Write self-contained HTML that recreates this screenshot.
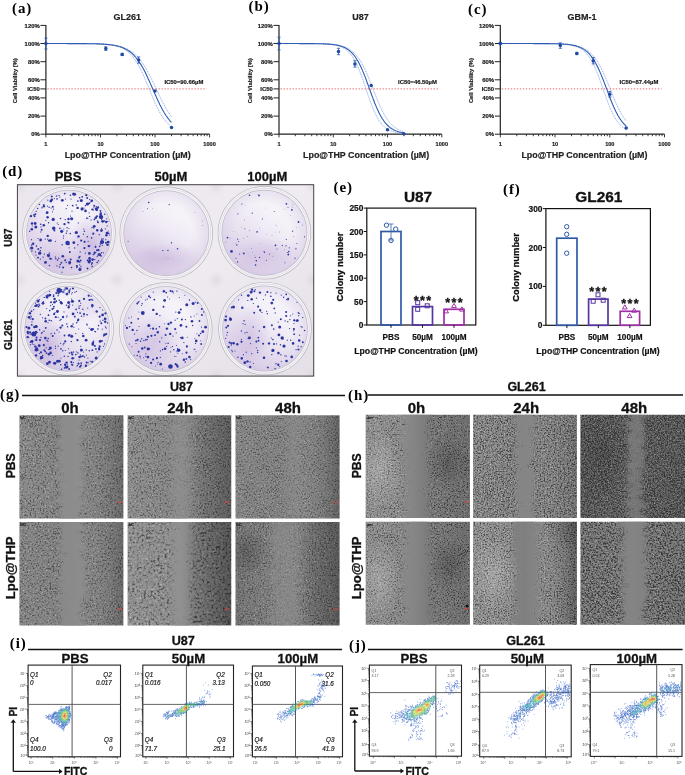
<!DOCTYPE html>
<html><head><meta charset="utf-8"><style>
html,body{margin:0;padding:0;background:#fff;}
svg{display:block;}
</style></head><body>
<svg width="685" height="775" viewBox="0 0 685 775">
<rect width="685" height="775" fill="#fff"/>
<g id="pa">
<text x="12" y="12.9" font-size="15" font-weight="bold" text-anchor="start" font-family="'Liberation Serif', 'Times New Roman', serif" fill="#000" letter-spacing="0.9">(a)</text>
<text x="127.2" y="19.6" font-size="9.0" font-weight="bold" text-anchor="middle" font-family="'Liberation Sans', Arial, sans-serif" fill="#222"  stroke="#222" stroke-width="0.18">GL261</text>
<line x1="40.4" y1="25.4" x2="45.9" y2="25.4" stroke="#222" stroke-width="1"/>
<text x="39.7" y="27.5" font-size="5.9" font-weight="bold" text-anchor="end" font-family="'Liberation Sans', Arial, sans-serif" fill="#1a1a1a" stroke="#1a1a1a" stroke-width="0.18">120%</text>
<line x1="40.4" y1="43.5" x2="45.9" y2="43.5" stroke="#222" stroke-width="1"/>
<text x="39.7" y="45.6" font-size="5.9" font-weight="bold" text-anchor="end" font-family="'Liberation Sans', Arial, sans-serif" fill="#1a1a1a" stroke="#1a1a1a" stroke-width="0.18">100%</text>
<line x1="40.4" y1="61.7" x2="45.9" y2="61.7" stroke="#222" stroke-width="1"/>
<text x="39.7" y="63.8" font-size="5.9" font-weight="bold" text-anchor="end" font-family="'Liberation Sans', Arial, sans-serif" fill="#1a1a1a" stroke="#1a1a1a" stroke-width="0.18">80%</text>
<line x1="40.4" y1="79.8" x2="45.9" y2="79.8" stroke="#222" stroke-width="1"/>
<text x="39.7" y="81.9" font-size="5.9" font-weight="bold" text-anchor="end" font-family="'Liberation Sans', Arial, sans-serif" fill="#1a1a1a" stroke="#1a1a1a" stroke-width="0.18">60%</text>
<line x1="40.4" y1="88.9" x2="45.9" y2="88.9" stroke="#222" stroke-width="1"/>
<text x="39.7" y="91" font-size="5.9" font-weight="bold" text-anchor="end" font-family="'Liberation Sans', Arial, sans-serif" fill="#1a1a1a" stroke="#1a1a1a" stroke-width="0.18">IC50</text>
<line x1="40.4" y1="97.9" x2="45.9" y2="97.9" stroke="#222" stroke-width="1"/>
<text x="39.7" y="100" font-size="5.9" font-weight="bold" text-anchor="end" font-family="'Liberation Sans', Arial, sans-serif" fill="#1a1a1a" stroke="#1a1a1a" stroke-width="0.18">40%</text>
<line x1="40.4" y1="116.1" x2="45.9" y2="116.1" stroke="#222" stroke-width="1"/>
<text x="39.7" y="118.2" font-size="5.9" font-weight="bold" text-anchor="end" font-family="'Liberation Sans', Arial, sans-serif" fill="#1a1a1a" stroke="#1a1a1a" stroke-width="0.18">20%</text>
<line x1="40.4" y1="134.2" x2="45.9" y2="134.2" stroke="#222" stroke-width="1"/>
<text x="39.7" y="136.3" font-size="5.9" font-weight="bold" text-anchor="end" font-family="'Liberation Sans', Arial, sans-serif" fill="#1a1a1a" stroke="#1a1a1a" stroke-width="0.18">0%</text>
<text transform="translate(17.1,80.7) rotate(-90)" font-size="5.8" font-weight="bold" text-anchor="middle" font-family="'Liberation Sans', Arial, sans-serif" fill="#1a1a1a" stroke="#1a1a1a" stroke-width="0.18">Cell Viability (%)</text>
<line x1="45.9" y1="134.2" x2="45.9" y2="137.4" stroke="#222" stroke-width="0.9"/>
<line x1="62.3" y1="134.2" x2="62.3" y2="136.2" stroke="#222" stroke-width="0.9"/>
<line x1="71.9" y1="134.2" x2="71.9" y2="136.2" stroke="#222" stroke-width="0.9"/>
<line x1="78.8" y1="134.2" x2="78.8" y2="136.2" stroke="#222" stroke-width="0.9"/>
<line x1="84" y1="134.2" x2="84" y2="136.2" stroke="#222" stroke-width="0.9"/>
<line x1="88.4" y1="134.2" x2="88.4" y2="136.2" stroke="#222" stroke-width="0.9"/>
<line x1="92" y1="134.2" x2="92" y2="136.2" stroke="#222" stroke-width="0.9"/>
<line x1="95.2" y1="134.2" x2="95.2" y2="136.2" stroke="#222" stroke-width="0.9"/>
<line x1="98" y1="134.2" x2="98" y2="136.2" stroke="#222" stroke-width="0.9"/>
<line x1="100.5" y1="134.2" x2="100.5" y2="137.4" stroke="#222" stroke-width="0.9"/>
<line x1="116.9" y1="134.2" x2="116.9" y2="136.2" stroke="#222" stroke-width="0.9"/>
<line x1="126.5" y1="134.2" x2="126.5" y2="136.2" stroke="#222" stroke-width="0.9"/>
<line x1="133.3" y1="134.2" x2="133.3" y2="136.2" stroke="#222" stroke-width="0.9"/>
<line x1="138.6" y1="134.2" x2="138.6" y2="136.2" stroke="#222" stroke-width="0.9"/>
<line x1="142.9" y1="134.2" x2="142.9" y2="136.2" stroke="#222" stroke-width="0.9"/>
<line x1="146.6" y1="134.2" x2="146.6" y2="136.2" stroke="#222" stroke-width="0.9"/>
<line x1="149.7" y1="134.2" x2="149.7" y2="136.2" stroke="#222" stroke-width="0.9"/>
<line x1="152.5" y1="134.2" x2="152.5" y2="136.2" stroke="#222" stroke-width="0.9"/>
<line x1="155" y1="134.2" x2="155" y2="137.4" stroke="#222" stroke-width="0.9"/>
<line x1="171.5" y1="134.2" x2="171.5" y2="136.2" stroke="#222" stroke-width="0.9"/>
<line x1="181.1" y1="134.2" x2="181.1" y2="136.2" stroke="#222" stroke-width="0.9"/>
<line x1="187.9" y1="134.2" x2="187.9" y2="136.2" stroke="#222" stroke-width="0.9"/>
<line x1="193.2" y1="134.2" x2="193.2" y2="136.2" stroke="#222" stroke-width="0.9"/>
<line x1="197.5" y1="134.2" x2="197.5" y2="136.2" stroke="#222" stroke-width="0.9"/>
<line x1="201.1" y1="134.2" x2="201.1" y2="136.2" stroke="#222" stroke-width="0.9"/>
<line x1="204.3" y1="134.2" x2="204.3" y2="136.2" stroke="#222" stroke-width="0.9"/>
<line x1="207.1" y1="134.2" x2="207.1" y2="136.2" stroke="#222" stroke-width="0.9"/>
<line x1="209.6" y1="134.2" x2="209.6" y2="137.4" stroke="#222" stroke-width="0.9"/>
<text x="45.9" y="145.8" font-size="5.6" font-weight="bold" text-anchor="middle" font-family="'Liberation Sans', Arial, sans-serif" fill="#1a1a1a" stroke="#1a1a1a" stroke-width="0.15">1</text>
<text x="100.5" y="145.8" font-size="5.6" font-weight="bold" text-anchor="middle" font-family="'Liberation Sans', Arial, sans-serif" fill="#1a1a1a" stroke="#1a1a1a" stroke-width="0.15">10</text>
<text x="155" y="145.8" font-size="5.6" font-weight="bold" text-anchor="middle" font-family="'Liberation Sans', Arial, sans-serif" fill="#1a1a1a" stroke="#1a1a1a" stroke-width="0.15">100</text>
<text x="209.6" y="145.8" font-size="5.6" font-weight="bold" text-anchor="middle" font-family="'Liberation Sans', Arial, sans-serif" fill="#1a1a1a" stroke="#1a1a1a" stroke-width="0.15">1000</text>
<path d="M45.9 24.9 V134.2 H209.6" fill="none" stroke="#222" stroke-width="1.2"/>
<text x="127.7" y="158.1" font-size="8.9" font-weight="bold" text-anchor="middle" font-family="'Liberation Sans', Arial, sans-serif" fill="#222"  stroke="#222" stroke-width="0.18">Lpo@THP Concentration (µM)</text>
<line x1="47.4" y1="88.9" x2="206.6" y2="88.9" stroke="#e8666a" stroke-width="1" stroke-dasharray="1.4 1.6"/>
<text x="164.4" y="84.3" font-size="5.9" font-weight="bold" text-anchor="start" font-family="'Liberation Sans', Arial, sans-serif" fill="#111" stroke="#111" stroke-width="0.15">IC50=90.66µM</text>
<path d="M45.9,43.5 L46.9,43.5 L48,43.5 L49,43.5 L50.1,43.5 L51.1,43.5 L52.2,43.5 L53.2,43.5 L54.3,43.5 L55.3,43.5 L56.4,43.5 L57.4,43.5 L58.5,43.5 L59.5,43.5 L60.5,43.5 L61.6,43.5 L62.6,43.5 L63.7,43.5 L64.7,43.5 L65.8,43.6 L66.8,43.6 L67.9,43.6 L68.9,43.6 L70,43.6 L71,43.6 L72.1,43.6 L73.1,43.6 L74.2,43.6 L75.2,43.6 L76.2,43.6 L77.3,43.6 L78.3,43.6 L79.4,43.6 L80.4,43.6 L81.5,43.6 L82.5,43.6 L83.6,43.6 L84.6,43.6 L85.7,43.7 L86.7,43.7 L87.8,43.7 L88.8,43.7 L89.8,43.7 L90.9,43.7 L91.9,43.7 L93,43.8 L94,43.8 L95.1,43.8 L96.1,43.8 L97.2,43.9 L98.2,43.9 L99.3,44 L100.3,44 L101.4,44 L102.4,44.1 L103.4,44.2 L104.5,44.2 L105.5,44.3 L106.6,44.4 L107.6,44.5 L108.7,44.6 L109.7,44.7 L110.8,44.8 L111.8,44.9 L112.9,45 L113.9,45.2 L115,45.4 L116,45.5 L117.1,45.7 L118.1,46 L119.1,46.2 L120.2,46.5 L121.2,46.8 L122.3,47.1 L123.3,47.4 L124.4,47.8 L125.4,48.3 L126.5,48.7 L127.5,49.2 L128.6,49.8 L129.6,50.4 L130.7,51 L131.7,51.7 L132.7,52.5 L133.8,53.3 L134.8,54.2 L135.9,55.2 L136.9,56.2 L138,57.3 L139,58.5 L140.1,59.8 L141.1,61.1 L142.2,62.6 L143.2,64.1 L144.3,65.7 L145.3,67.4 L146.3,69.2 L147.4,71 L148.4,73 L149.5,74.9 L150.5,77 L151.6,79.1 L152.6,81.3 L153.7,83.4 L154.7,85.7 L155.8,87.9 L156.8,90.1 L157.9,92.3 L158.9,94.6 L159.9,96.7 L161,98.9 L162,101 L163.1,103 L164.1,105 L165.2,106.9 L166.2,108.8 L167.3,110.5 L168.3,112.2 L169.4,113.8 L170.4,115.3 L171.5,116.8" fill="none" stroke="#6e8fd4" stroke-width="0.7" stroke-dasharray="1.2 0.7"/>
<path d="M45.9,43.5 L46.9,43.5 L48,43.5 L49,43.5 L50.1,43.5 L51.1,43.5 L52.2,43.5 L53.2,43.5 L54.3,43.5 L55.3,43.5 L56.4,43.5 L57.4,43.5 L58.5,43.5 L59.5,43.5 L60.5,43.5 L61.6,43.5 L62.6,43.5 L63.7,43.5 L64.7,43.5 L65.8,43.5 L66.8,43.5 L67.9,43.5 L68.9,43.5 L70,43.6 L71,43.6 L72.1,43.6 L73.1,43.6 L74.2,43.6 L75.2,43.6 L76.2,43.6 L77.3,43.6 L78.3,43.6 L79.4,43.6 L80.4,43.6 L81.5,43.6 L82.5,43.6 L83.6,43.6 L84.6,43.6 L85.7,43.6 L86.7,43.6 L87.8,43.7 L88.8,43.7 L89.8,43.7 L90.9,43.7 L91.9,43.7 L93,43.7 L94,43.8 L95.1,43.8 L96.1,43.8 L97.2,43.9 L98.2,43.9 L99.3,43.9 L100.3,44 L101.4,44 L102.4,44.1 L103.4,44.2 L104.5,44.2 L105.5,44.3 L106.6,44.4 L107.6,44.5 L108.7,44.7 L109.7,44.8 L110.8,44.9 L111.8,45.1 L112.9,45.3 L113.9,45.5 L115,45.7 L116,46 L117.1,46.3 L118.1,46.6 L119.1,46.9 L120.2,47.3 L121.2,47.7 L122.3,48.2 L123.3,48.7 L124.4,49.3 L125.4,50 L126.5,50.7 L127.5,51.5 L128.6,52.3 L129.6,53.3 L130.7,54.3 L131.7,55.4 L132.7,56.7 L133.8,58 L134.8,59.4 L135.9,61 L136.9,62.6 L138,64.4 L139,66.2 L140.1,68.2 L141.1,70.3 L142.2,72.5 L143.2,74.8 L144.3,77.2 L145.3,79.6 L146.3,82.1 L147.4,84.6 L148.4,87.2 L149.5,89.7 L150.5,92.3 L151.6,94.8 L152.6,97.3 L153.7,99.8 L154.7,102.2 L155.8,104.5 L156.8,106.7 L157.9,108.8 L158.9,110.8 L159.9,112.8 L161,114.6 L162,116.2 L163.1,117.8 L164.1,119.3 L165.2,120.6 L166.2,121.9 L167.3,123.1 L168.3,124.1 L169.4,125.1 L170.4,126 L171.5,126.8" fill="none" stroke="#6e8fd4" stroke-width="0.7" stroke-dasharray="1.2 0.7"/>
<path d="M45.9,43.5 L46.9,43.5 L48,43.5 L49,43.5 L50.1,43.5 L51.1,43.5 L52.2,43.5 L53.2,43.5 L54.3,43.5 L55.3,43.5 L56.4,43.5 L57.4,43.5 L58.5,43.5 L59.5,43.5 L60.5,43.5 L61.6,43.5 L62.6,43.5 L63.7,43.5 L64.7,43.5 L65.8,43.5 L66.8,43.5 L67.9,43.6 L68.9,43.6 L70,43.6 L71,43.6 L72.1,43.6 L73.1,43.6 L74.2,43.6 L75.2,43.6 L76.2,43.6 L77.3,43.6 L78.3,43.6 L79.4,43.6 L80.4,43.6 L81.5,43.6 L82.5,43.6 L83.6,43.6 L84.6,43.6 L85.7,43.6 L86.7,43.6 L87.8,43.7 L88.8,43.7 L89.8,43.7 L90.9,43.7 L91.9,43.7 L93,43.7 L94,43.8 L95.1,43.8 L96.1,43.8 L97.2,43.9 L98.2,43.9 L99.3,43.9 L100.3,44 L101.4,44 L102.4,44.1 L103.4,44.1 L104.5,44.2 L105.5,44.3 L106.6,44.4 L107.6,44.5 L108.7,44.6 L109.7,44.7 L110.8,44.8 L111.8,45 L112.9,45.1 L113.9,45.3 L115,45.5 L116,45.7 L117.1,45.9 L118.1,46.2 L119.1,46.5 L120.2,46.8 L121.2,47.1 L122.3,47.5 L123.3,47.9 L124.4,48.4 L125.4,48.9 L126.5,49.5 L127.5,50.1 L128.6,50.8 L129.6,51.5 L130.7,52.3 L131.7,53.2 L132.7,54.1 L133.8,55.2 L134.8,56.3 L135.9,57.5 L136.9,58.8 L138,60.2 L139,61.7 L140.1,63.3 L141.1,64.9 L142.2,66.7 L143.2,68.6 L144.3,70.6 L145.3,72.6 L146.3,74.7 L147.4,77 L148.4,79.2 L149.5,81.5 L150.5,83.9 L151.6,86.3 L152.6,88.7 L153.7,91.1 L154.7,93.5 L155.8,95.8 L156.8,98.1 L157.9,100.4 L158.9,102.6 L159.9,104.8 L161,106.8 L162,108.8 L163.1,110.7 L164.1,112.5 L165.2,114.2 L166.2,115.8 L167.3,117.3 L168.3,118.7 L169.4,120 L170.4,121.3 L171.5,122.4" fill="none" stroke="#2d5cb5" stroke-width="1.1"/>
<path d="M45.9 38.1 V49 M44.3 38.1 H47.5 M44.3 49 H47.5" stroke="#2a55b0" stroke-width="0.8" fill="none"/>
<circle cx="45.9" cy="43.5" r="1.75" fill="#1e4aa6"/>
<path d="M105.8 46.8 V50.4 M104.2 46.8 H107.4 M104.2 50.4 H107.4" stroke="#2a55b0" stroke-width="0.8" fill="none"/>
<circle cx="105.8" cy="48.6" r="1.75" fill="#1e4aa6"/>
<path d="M122.2 53.3 V55.5 M120.6 53.3 H123.8 M120.6 55.5 H123.8" stroke="#2a55b0" stroke-width="0.8" fill="none"/>
<circle cx="122.2" cy="54.4" r="1.75" fill="#1e4aa6"/>
<path d="M138.6 56.9 V63.2 M137 56.9 H140.2 M137 63.2 H140.2" stroke="#2a55b0" stroke-width="0.8" fill="none"/>
<circle cx="138.6" cy="60" r="1.75" fill="#1e4aa6"/>
<circle cx="155" cy="91" r="1.75" fill="#1e4aa6"/>
<circle cx="171.5" cy="127.4" r="1.75" fill="#1e4aa6"/>
</g><g id="pb">
<text x="248.6" y="11" font-size="15" font-weight="bold" text-anchor="start" font-family="'Liberation Serif', 'Times New Roman', serif" fill="#000" letter-spacing="0.9">(b)</text>
<text x="360.6" y="19.6" font-size="9.0" font-weight="bold" text-anchor="middle" font-family="'Liberation Sans', Arial, sans-serif" fill="#222"  stroke="#222" stroke-width="0.18">U87</text>
<line x1="273.5" y1="25.4" x2="279" y2="25.4" stroke="#222" stroke-width="1"/>
<text x="272.8" y="27.5" font-size="5.9" font-weight="bold" text-anchor="end" font-family="'Liberation Sans', Arial, sans-serif" fill="#1a1a1a" stroke="#1a1a1a" stroke-width="0.18">120%</text>
<line x1="273.5" y1="43.5" x2="279" y2="43.5" stroke="#222" stroke-width="1"/>
<text x="272.8" y="45.6" font-size="5.9" font-weight="bold" text-anchor="end" font-family="'Liberation Sans', Arial, sans-serif" fill="#1a1a1a" stroke="#1a1a1a" stroke-width="0.18">100%</text>
<line x1="273.5" y1="61.7" x2="279" y2="61.7" stroke="#222" stroke-width="1"/>
<text x="272.8" y="63.8" font-size="5.9" font-weight="bold" text-anchor="end" font-family="'Liberation Sans', Arial, sans-serif" fill="#1a1a1a" stroke="#1a1a1a" stroke-width="0.18">80%</text>
<line x1="273.5" y1="79.8" x2="279" y2="79.8" stroke="#222" stroke-width="1"/>
<text x="272.8" y="81.9" font-size="5.9" font-weight="bold" text-anchor="end" font-family="'Liberation Sans', Arial, sans-serif" fill="#1a1a1a" stroke="#1a1a1a" stroke-width="0.18">60%</text>
<line x1="273.5" y1="88.9" x2="279" y2="88.9" stroke="#222" stroke-width="1"/>
<text x="272.8" y="91" font-size="5.9" font-weight="bold" text-anchor="end" font-family="'Liberation Sans', Arial, sans-serif" fill="#1a1a1a" stroke="#1a1a1a" stroke-width="0.18">IC50</text>
<line x1="273.5" y1="97.9" x2="279" y2="97.9" stroke="#222" stroke-width="1"/>
<text x="272.8" y="100" font-size="5.9" font-weight="bold" text-anchor="end" font-family="'Liberation Sans', Arial, sans-serif" fill="#1a1a1a" stroke="#1a1a1a" stroke-width="0.18">40%</text>
<line x1="273.5" y1="116.1" x2="279" y2="116.1" stroke="#222" stroke-width="1"/>
<text x="272.8" y="118.2" font-size="5.9" font-weight="bold" text-anchor="end" font-family="'Liberation Sans', Arial, sans-serif" fill="#1a1a1a" stroke="#1a1a1a" stroke-width="0.18">20%</text>
<line x1="273.5" y1="134.2" x2="279" y2="134.2" stroke="#222" stroke-width="1"/>
<text x="272.8" y="136.3" font-size="5.9" font-weight="bold" text-anchor="end" font-family="'Liberation Sans', Arial, sans-serif" fill="#1a1a1a" stroke="#1a1a1a" stroke-width="0.18">0%</text>
<text transform="translate(251.8,80.7) rotate(-90)" font-size="5.8" font-weight="bold" text-anchor="middle" font-family="'Liberation Sans', Arial, sans-serif" fill="#1a1a1a" stroke="#1a1a1a" stroke-width="0.18">Cell Viability (%)</text>
<line x1="279" y1="134.2" x2="279" y2="137.4" stroke="#222" stroke-width="0.9"/>
<line x1="295.3" y1="134.2" x2="295.3" y2="136.2" stroke="#222" stroke-width="0.9"/>
<line x1="304.9" y1="134.2" x2="304.9" y2="136.2" stroke="#222" stroke-width="0.9"/>
<line x1="311.7" y1="134.2" x2="311.7" y2="136.2" stroke="#222" stroke-width="0.9"/>
<line x1="316.9" y1="134.2" x2="316.9" y2="136.2" stroke="#222" stroke-width="0.9"/>
<line x1="321.2" y1="134.2" x2="321.2" y2="136.2" stroke="#222" stroke-width="0.9"/>
<line x1="324.9" y1="134.2" x2="324.9" y2="136.2" stroke="#222" stroke-width="0.9"/>
<line x1="328" y1="134.2" x2="328" y2="136.2" stroke="#222" stroke-width="0.9"/>
<line x1="330.8" y1="134.2" x2="330.8" y2="136.2" stroke="#222" stroke-width="0.9"/>
<line x1="333.3" y1="134.2" x2="333.3" y2="137.4" stroke="#222" stroke-width="0.9"/>
<line x1="349.6" y1="134.2" x2="349.6" y2="136.2" stroke="#222" stroke-width="0.9"/>
<line x1="359.2" y1="134.2" x2="359.2" y2="136.2" stroke="#222" stroke-width="0.9"/>
<line x1="365.9" y1="134.2" x2="365.9" y2="136.2" stroke="#222" stroke-width="0.9"/>
<line x1="371.2" y1="134.2" x2="371.2" y2="136.2" stroke="#222" stroke-width="0.9"/>
<line x1="375.5" y1="134.2" x2="375.5" y2="136.2" stroke="#222" stroke-width="0.9"/>
<line x1="379.1" y1="134.2" x2="379.1" y2="136.2" stroke="#222" stroke-width="0.9"/>
<line x1="382.3" y1="134.2" x2="382.3" y2="136.2" stroke="#222" stroke-width="0.9"/>
<line x1="385.1" y1="134.2" x2="385.1" y2="136.2" stroke="#222" stroke-width="0.9"/>
<line x1="387.5" y1="134.2" x2="387.5" y2="137.4" stroke="#222" stroke-width="0.9"/>
<line x1="403.9" y1="134.2" x2="403.9" y2="136.2" stroke="#222" stroke-width="0.9"/>
<line x1="413.4" y1="134.2" x2="413.4" y2="136.2" stroke="#222" stroke-width="0.9"/>
<line x1="420.2" y1="134.2" x2="420.2" y2="136.2" stroke="#222" stroke-width="0.9"/>
<line x1="425.5" y1="134.2" x2="425.5" y2="136.2" stroke="#222" stroke-width="0.9"/>
<line x1="429.8" y1="134.2" x2="429.8" y2="136.2" stroke="#222" stroke-width="0.9"/>
<line x1="433.4" y1="134.2" x2="433.4" y2="136.2" stroke="#222" stroke-width="0.9"/>
<line x1="436.5" y1="134.2" x2="436.5" y2="136.2" stroke="#222" stroke-width="0.9"/>
<line x1="439.3" y1="134.2" x2="439.3" y2="136.2" stroke="#222" stroke-width="0.9"/>
<line x1="441.8" y1="134.2" x2="441.8" y2="137.4" stroke="#222" stroke-width="0.9"/>
<text x="279" y="145.8" font-size="5.6" font-weight="bold" text-anchor="middle" font-family="'Liberation Sans', Arial, sans-serif" fill="#1a1a1a" stroke="#1a1a1a" stroke-width="0.15">1</text>
<text x="333.3" y="145.8" font-size="5.6" font-weight="bold" text-anchor="middle" font-family="'Liberation Sans', Arial, sans-serif" fill="#1a1a1a" stroke="#1a1a1a" stroke-width="0.15">10</text>
<text x="387.5" y="145.8" font-size="5.6" font-weight="bold" text-anchor="middle" font-family="'Liberation Sans', Arial, sans-serif" fill="#1a1a1a" stroke="#1a1a1a" stroke-width="0.15">100</text>
<text x="441.8" y="145.8" font-size="5.6" font-weight="bold" text-anchor="middle" font-family="'Liberation Sans', Arial, sans-serif" fill="#1a1a1a" stroke="#1a1a1a" stroke-width="0.15">1000</text>
<path d="M279 24.9 V134.2 H441.8" fill="none" stroke="#222" stroke-width="1.2"/>
<text x="366.1" y="158.1" font-size="8.9" font-weight="bold" text-anchor="middle" font-family="'Liberation Sans', Arial, sans-serif" fill="#222"  stroke="#222" stroke-width="0.18">Lpo@THP Concentration (µM)</text>
<line x1="280.5" y1="88.9" x2="438.8" y2="88.9" stroke="#e8666a" stroke-width="1" stroke-dasharray="1.4 1.6"/>
<text x="398" y="84.3" font-size="5.9" font-weight="bold" text-anchor="start" font-family="'Liberation Sans', Arial, sans-serif" fill="#111" stroke="#111" stroke-width="0.15">IC50=46.50µM</text>
<path d="M279,43.5 L280,43.5 L281.1,43.5 L282.1,43.5 L283.2,43.5 L284.2,43.5 L285.2,43.5 L286.3,43.5 L287.3,43.5 L288.4,43.5 L289.4,43.5 L290.4,43.5 L291.5,43.5 L292.5,43.5 L293.6,43.5 L294.6,43.5 L295.6,43.5 L296.7,43.5 L297.7,43.5 L298.8,43.6 L299.8,43.6 L300.9,43.6 L301.9,43.6 L302.9,43.6 L304,43.6 L305,43.6 L306.1,43.6 L307.1,43.6 L308.1,43.6 L309.2,43.6 L310.2,43.6 L311.3,43.6 L312.3,43.6 L313.3,43.6 L314.4,43.6 L315.4,43.7 L316.5,43.7 L317.5,43.7 L318.5,43.7 L319.6,43.7 L320.6,43.8 L321.7,43.8 L322.7,43.8 L323.7,43.9 L324.8,43.9 L325.8,43.9 L326.9,44 L327.9,44.1 L328.9,44.1 L330,44.2 L331,44.3 L332.1,44.4 L333.1,44.5 L334.2,44.6 L335.2,44.7 L336.2,44.9 L337.3,45 L338.3,45.2 L339.4,45.4 L340.4,45.7 L341.4,45.9 L342.5,46.2 L343.5,46.5 L344.6,46.9 L345.6,47.3 L346.6,47.8 L347.7,48.3 L348.7,48.8 L349.8,49.5 L350.8,50.2 L351.8,50.9 L352.9,51.8 L353.9,52.7 L355,53.8 L356,54.9 L357,56.1 L358.1,57.5 L359.1,58.9 L360.2,60.5 L361.2,62.2 L362.2,64.1 L363.3,66 L364.3,68.1 L365.4,70.3 L366.4,72.6 L367.4,75 L368.5,77.5 L369.5,80 L370.6,82.6 L371.6,85.3 L372.7,88 L373.7,90.7 L374.7,93.4 L375.8,96 L376.8,98.6 L377.9,101.2 L378.9,103.6 L379.9,106 L381,108.3 L382,110.4 L383.1,112.4 L384.1,114.3 L385.1,116.1 L386.2,117.8 L387.2,119.3 L388.3,120.8 L389.3,122.1 L390.3,123.3 L391.4,124.4 L392.4,125.4 L393.5,126.3 L394.5,127.1 L395.5,127.8 L396.6,128.5 L397.6,129.1 L398.7,129.6 L399.7,130.1 L400.7,130.6 L401.8,131 L402.8,131.3 L403.9,131.6" fill="none" stroke="#6e8fd4" stroke-width="0.7" stroke-dasharray="1.2 0.7"/>
<path d="M279,43.5 L280,43.5 L281.1,43.5 L282.1,43.5 L283.2,43.5 L284.2,43.5 L285.2,43.5 L286.3,43.5 L287.3,43.5 L288.4,43.5 L289.4,43.5 L290.4,43.5 L291.5,43.5 L292.5,43.5 L293.6,43.5 L294.6,43.5 L295.6,43.5 L296.7,43.5 L297.7,43.5 L298.8,43.5 L299.8,43.5 L300.9,43.6 L301.9,43.6 L302.9,43.6 L304,43.6 L305,43.6 L306.1,43.6 L307.1,43.6 L308.1,43.6 L309.2,43.6 L310.2,43.6 L311.3,43.6 L312.3,43.6 L313.3,43.6 L314.4,43.6 L315.4,43.7 L316.5,43.7 L317.5,43.7 L318.5,43.7 L319.6,43.7 L320.6,43.8 L321.7,43.8 L322.7,43.8 L323.7,43.9 L324.8,43.9 L325.8,44 L326.9,44.1 L327.9,44.1 L328.9,44.2 L330,44.3 L331,44.4 L332.1,44.6 L333.1,44.7 L334.2,44.9 L335.2,45.1 L336.2,45.3 L337.3,45.6 L338.3,45.9 L339.4,46.2 L340.4,46.6 L341.4,47 L342.5,47.5 L343.5,48 L344.6,48.7 L345.6,49.4 L346.6,50.2 L347.7,51.1 L348.7,52.1 L349.8,53.2 L350.8,54.4 L351.8,55.8 L352.9,57.3 L353.9,59 L355,60.8 L356,62.8 L357,65 L358.1,67.3 L359.1,69.8 L360.2,72.4 L361.2,75.2 L362.2,78.1 L363.3,81 L364.3,84.1 L365.4,87.2 L366.4,90.3 L367.4,93.4 L368.5,96.4 L369.5,99.4 L370.6,102.3 L371.6,105.1 L372.7,107.7 L373.7,110.2 L374.7,112.5 L375.8,114.7 L376.8,116.7 L377.9,118.6 L378.9,120.3 L379.9,121.8 L381,123.2 L382,124.5 L383.1,125.6 L384.1,126.6 L385.1,127.5 L386.2,128.3 L387.2,129 L388.3,129.6 L389.3,130.2 L390.3,130.7 L391.4,131.1 L392.4,131.5 L393.5,131.8 L394.5,132.1 L395.5,132.4 L396.6,132.6 L397.6,132.8 L398.7,133 L399.7,133.2 L400.7,133.3 L401.8,133.4 L402.8,133.5 L403.9,133.6" fill="none" stroke="#6e8fd4" stroke-width="0.7" stroke-dasharray="1.2 0.7"/>
<path d="M279,43.5 L280,43.5 L281.1,43.5 L282.1,43.5 L283.2,43.5 L284.2,43.5 L285.2,43.5 L286.3,43.5 L287.3,43.5 L288.4,43.5 L289.4,43.5 L290.4,43.5 L291.5,43.5 L292.5,43.5 L293.6,43.5 L294.6,43.5 L295.6,43.5 L296.7,43.5 L297.7,43.5 L298.8,43.5 L299.8,43.6 L300.9,43.6 L301.9,43.6 L302.9,43.6 L304,43.6 L305,43.6 L306.1,43.6 L307.1,43.6 L308.1,43.6 L309.2,43.6 L310.2,43.6 L311.3,43.6 L312.3,43.6 L313.3,43.6 L314.4,43.6 L315.4,43.7 L316.5,43.7 L317.5,43.7 L318.5,43.7 L319.6,43.7 L320.6,43.8 L321.7,43.8 L322.7,43.8 L323.7,43.9 L324.8,43.9 L325.8,44 L326.9,44 L327.9,44.1 L328.9,44.1 L330,44.2 L331,44.3 L332.1,44.4 L333.1,44.6 L334.2,44.7 L335.2,44.8 L336.2,45 L337.3,45.2 L338.3,45.4 L339.4,45.7 L340.4,46 L341.4,46.3 L342.5,46.7 L343.5,47.1 L344.6,47.6 L345.6,48.1 L346.6,48.7 L347.7,49.3 L348.7,50.1 L349.8,50.9 L350.8,51.8 L351.8,52.8 L352.9,53.9 L353.9,55.2 L355,56.5 L356,58 L357,59.7 L358.1,61.4 L359.1,63.3 L360.2,65.4 L361.2,67.6 L362.2,69.9 L363.3,72.4 L364.3,74.9 L365.4,77.6 L366.4,80.4 L367.4,83.2 L368.5,86.1 L369.5,89 L370.6,91.9 L371.6,94.8 L372.7,97.6 L373.7,100.3 L374.7,103 L375.8,105.6 L376.8,108 L377.9,110.3 L378.9,112.5 L379.9,114.6 L381,116.5 L382,118.2 L383.1,119.8 L384.1,121.3 L385.1,122.7 L386.2,123.9 L387.2,125 L388.3,126 L389.3,126.9 L390.3,127.7 L391.4,128.5 L392.4,129.1 L393.5,129.7 L394.5,130.2 L395.5,130.7 L396.6,131.1 L397.6,131.4 L398.7,131.8 L399.7,132.1 L400.7,132.3 L401.8,132.5 L402.8,132.7 L403.9,132.9" fill="none" stroke="#2d5cb5" stroke-width="1.1"/>
<path d="M279 37.2 V49.9 M277.4 37.2 H280.6 M277.4 49.9 H280.6" stroke="#2a55b0" stroke-width="0.8" fill="none"/>
<circle cx="279" cy="43.5" r="1.75" fill="#1e4aa6"/>
<path d="M338.5 48.3 V54.7 M336.9 48.3 H340.1 M336.9 54.7 H340.1" stroke="#2a55b0" stroke-width="0.8" fill="none"/>
<circle cx="338.5" cy="51.5" r="1.75" fill="#1e4aa6"/>
<path d="M354.9 60.8 V67.1 M353.3 60.8 H356.5 M353.3 67.1 H356.5" stroke="#2a55b0" stroke-width="0.8" fill="none"/>
<circle cx="354.9" cy="63.9" r="1.75" fill="#1e4aa6"/>
<circle cx="371.2" cy="85.4" r="1.75" fill="#1e4aa6"/>
<circle cx="387.5" cy="129.7" r="1.75" fill="#1e4aa6"/>
<circle cx="403.9" cy="133.7" r="1.75" fill="#1e4aa6"/>
</g><g id="pc">
<text x="468" y="14" font-size="15" font-weight="bold" text-anchor="start" font-family="'Liberation Serif', 'Times New Roman', serif" fill="#000" letter-spacing="0.9">(c)</text>
<text x="582" y="19.6" font-size="9.0" font-weight="bold" text-anchor="middle" font-family="'Liberation Sans', Arial, sans-serif" fill="#222"  stroke="#222" stroke-width="0.18">GBM-1</text>
<line x1="494.8" y1="25.4" x2="500.3" y2="25.4" stroke="#222" stroke-width="1"/>
<text x="494.1" y="27.5" font-size="5.9" font-weight="bold" text-anchor="end" font-family="'Liberation Sans', Arial, sans-serif" fill="#1a1a1a" stroke="#1a1a1a" stroke-width="0.18">120%</text>
<line x1="494.8" y1="43.5" x2="500.3" y2="43.5" stroke="#222" stroke-width="1"/>
<text x="494.1" y="45.6" font-size="5.9" font-weight="bold" text-anchor="end" font-family="'Liberation Sans', Arial, sans-serif" fill="#1a1a1a" stroke="#1a1a1a" stroke-width="0.18">100%</text>
<line x1="494.8" y1="61.7" x2="500.3" y2="61.7" stroke="#222" stroke-width="1"/>
<text x="494.1" y="63.8" font-size="5.9" font-weight="bold" text-anchor="end" font-family="'Liberation Sans', Arial, sans-serif" fill="#1a1a1a" stroke="#1a1a1a" stroke-width="0.18">80%</text>
<line x1="494.8" y1="79.8" x2="500.3" y2="79.8" stroke="#222" stroke-width="1"/>
<text x="494.1" y="81.9" font-size="5.9" font-weight="bold" text-anchor="end" font-family="'Liberation Sans', Arial, sans-serif" fill="#1a1a1a" stroke="#1a1a1a" stroke-width="0.18">60%</text>
<line x1="494.8" y1="88.9" x2="500.3" y2="88.9" stroke="#222" stroke-width="1"/>
<text x="494.1" y="91" font-size="5.9" font-weight="bold" text-anchor="end" font-family="'Liberation Sans', Arial, sans-serif" fill="#1a1a1a" stroke="#1a1a1a" stroke-width="0.18">IC50</text>
<line x1="494.8" y1="97.9" x2="500.3" y2="97.9" stroke="#222" stroke-width="1"/>
<text x="494.1" y="100" font-size="5.9" font-weight="bold" text-anchor="end" font-family="'Liberation Sans', Arial, sans-serif" fill="#1a1a1a" stroke="#1a1a1a" stroke-width="0.18">40%</text>
<line x1="494.8" y1="116.1" x2="500.3" y2="116.1" stroke="#222" stroke-width="1"/>
<text x="494.1" y="118.2" font-size="5.9" font-weight="bold" text-anchor="end" font-family="'Liberation Sans', Arial, sans-serif" fill="#1a1a1a" stroke="#1a1a1a" stroke-width="0.18">20%</text>
<line x1="494.8" y1="134.2" x2="500.3" y2="134.2" stroke="#222" stroke-width="1"/>
<text x="494.1" y="136.3" font-size="5.9" font-weight="bold" text-anchor="end" font-family="'Liberation Sans', Arial, sans-serif" fill="#1a1a1a" stroke="#1a1a1a" stroke-width="0.18">0%</text>
<text transform="translate(473.3,80.6) rotate(-90)" font-size="5.8" font-weight="bold" text-anchor="middle" font-family="'Liberation Sans', Arial, sans-serif" fill="#1a1a1a" stroke="#1a1a1a" stroke-width="0.18">Cell Viability (%)</text>
<line x1="500.3" y1="134.2" x2="500.3" y2="137.4" stroke="#222" stroke-width="0.9"/>
<line x1="516.8" y1="134.2" x2="516.8" y2="136.2" stroke="#222" stroke-width="0.9"/>
<line x1="526.4" y1="134.2" x2="526.4" y2="136.2" stroke="#222" stroke-width="0.9"/>
<line x1="533.3" y1="134.2" x2="533.3" y2="136.2" stroke="#222" stroke-width="0.9"/>
<line x1="538.6" y1="134.2" x2="538.6" y2="136.2" stroke="#222" stroke-width="0.9"/>
<line x1="542.9" y1="134.2" x2="542.9" y2="136.2" stroke="#222" stroke-width="0.9"/>
<line x1="546.6" y1="134.2" x2="546.6" y2="136.2" stroke="#222" stroke-width="0.9"/>
<line x1="549.7" y1="134.2" x2="549.7" y2="136.2" stroke="#222" stroke-width="0.9"/>
<line x1="552.5" y1="134.2" x2="552.5" y2="136.2" stroke="#222" stroke-width="0.9"/>
<line x1="555" y1="134.2" x2="555" y2="137.4" stroke="#222" stroke-width="0.9"/>
<line x1="571.5" y1="134.2" x2="571.5" y2="136.2" stroke="#222" stroke-width="0.9"/>
<line x1="581.1" y1="134.2" x2="581.1" y2="136.2" stroke="#222" stroke-width="0.9"/>
<line x1="588" y1="134.2" x2="588" y2="136.2" stroke="#222" stroke-width="0.9"/>
<line x1="593.3" y1="134.2" x2="593.3" y2="136.2" stroke="#222" stroke-width="0.9"/>
<line x1="597.6" y1="134.2" x2="597.6" y2="136.2" stroke="#222" stroke-width="0.9"/>
<line x1="601.3" y1="134.2" x2="601.3" y2="136.2" stroke="#222" stroke-width="0.9"/>
<line x1="604.5" y1="134.2" x2="604.5" y2="136.2" stroke="#222" stroke-width="0.9"/>
<line x1="607.3" y1="134.2" x2="607.3" y2="136.2" stroke="#222" stroke-width="0.9"/>
<line x1="609.8" y1="134.2" x2="609.8" y2="137.4" stroke="#222" stroke-width="0.9"/>
<line x1="626.2" y1="134.2" x2="626.2" y2="136.2" stroke="#222" stroke-width="0.9"/>
<line x1="635.9" y1="134.2" x2="635.9" y2="136.2" stroke="#222" stroke-width="0.9"/>
<line x1="642.7" y1="134.2" x2="642.7" y2="136.2" stroke="#222" stroke-width="0.9"/>
<line x1="648" y1="134.2" x2="648" y2="136.2" stroke="#222" stroke-width="0.9"/>
<line x1="652.4" y1="134.2" x2="652.4" y2="136.2" stroke="#222" stroke-width="0.9"/>
<line x1="656" y1="134.2" x2="656" y2="136.2" stroke="#222" stroke-width="0.9"/>
<line x1="659.2" y1="134.2" x2="659.2" y2="136.2" stroke="#222" stroke-width="0.9"/>
<line x1="662" y1="134.2" x2="662" y2="136.2" stroke="#222" stroke-width="0.9"/>
<line x1="664.5" y1="134.2" x2="664.5" y2="137.4" stroke="#222" stroke-width="0.9"/>
<text x="500.3" y="145.8" font-size="5.6" font-weight="bold" text-anchor="middle" font-family="'Liberation Sans', Arial, sans-serif" fill="#1a1a1a" stroke="#1a1a1a" stroke-width="0.15">1</text>
<text x="555" y="145.8" font-size="5.6" font-weight="bold" text-anchor="middle" font-family="'Liberation Sans', Arial, sans-serif" fill="#1a1a1a" stroke="#1a1a1a" stroke-width="0.15">10</text>
<text x="609.8" y="145.8" font-size="5.6" font-weight="bold" text-anchor="middle" font-family="'Liberation Sans', Arial, sans-serif" fill="#1a1a1a" stroke="#1a1a1a" stroke-width="0.15">100</text>
<text x="664.5" y="145.8" font-size="5.6" font-weight="bold" text-anchor="middle" font-family="'Liberation Sans', Arial, sans-serif" fill="#1a1a1a" stroke="#1a1a1a" stroke-width="0.15">1000</text>
<path d="M500.3 24.9 V134.2 H664.5" fill="none" stroke="#222" stroke-width="1.2"/>
<text x="584.4" y="158.1" font-size="8.9" font-weight="bold" text-anchor="middle" font-family="'Liberation Sans', Arial, sans-serif" fill="#222"  stroke="#222" stroke-width="0.18">Lpo@THP Concentration (µM)</text>
<line x1="501.8" y1="88.9" x2="661.5" y2="88.9" stroke="#e8666a" stroke-width="1" stroke-dasharray="1.4 1.6"/>
<text x="619.5" y="84.3" font-size="5.9" font-weight="bold" text-anchor="start" font-family="'Liberation Sans', Arial, sans-serif" fill="#111" stroke="#111" stroke-width="0.15">IC50=87.44µM</text>
<path d="M500.3,43.5 L501.3,43.5 L502.4,43.5 L503.4,43.5 L504.5,43.5 L505.5,43.5 L506.6,43.5 L507.6,43.5 L508.7,43.5 L509.7,43.5 L510.8,43.5 L511.8,43.5 L512.9,43.5 L513.9,43.5 L515,43.5 L516,43.5 L517.1,43.5 L518.1,43.5 L519.2,43.5 L520.2,43.5 L521.3,43.5 L522.3,43.5 L523.4,43.5 L524.4,43.5 L525.5,43.5 L526.5,43.5 L527.6,43.5 L528.6,43.5 L529.7,43.5 L530.7,43.5 L531.8,43.6 L532.8,43.6 L533.9,43.6 L534.9,43.6 L536,43.6 L537,43.6 L538.1,43.6 L539.1,43.6 L540.2,43.6 L541.2,43.6 L542.3,43.6 L543.3,43.6 L544.4,43.6 L545.4,43.6 L546.5,43.6 L547.5,43.6 L548.6,43.6 L549.6,43.7 L550.7,43.7 L551.7,43.7 L552.8,43.7 L553.8,43.7 L554.9,43.7 L555.9,43.8 L557,43.8 L558,43.8 L559.1,43.9 L560.1,43.9 L561.2,44 L562.2,44 L563.3,44.1 L564.3,44.1 L565.4,44.2 L566.4,44.3 L567.5,44.4 L568.5,44.5 L569.6,44.6 L570.6,44.7 L571.7,44.9 L572.7,45 L573.8,45.2 L574.8,45.4 L575.9,45.6 L576.9,45.9 L578,46.1 L579,46.4 L580.1,46.8 L581.1,47.2 L582.2,47.6 L583.2,48.1 L584.3,48.6 L585.3,49.2 L586.4,49.8 L587.4,50.5 L588.5,51.3 L589.5,52.1 L590.6,53.1 L591.6,54.1 L592.7,55.2 L593.7,56.4 L594.8,57.8 L595.8,59.2 L596.9,60.7 L597.9,62.4 L599,64.2 L600,66.1 L601.1,68.1 L602.1,70.2 L603.2,72.4 L604.2,74.7 L605.3,77.1 L606.3,79.6 L607.4,82.1 L608.4,84.6 L609.5,87.2 L610.5,89.8 L611.5,92.4 L612.6,95 L613.6,97.6 L614.7,100 L615.7,102.5 L616.8,104.8 L617.8,107 L618.9,109.2 L619.9,111.2 L621,113.1 L622,114.9 L623.1,116.6 L624.1,118.2 L625.2,119.6 L626.2,121" fill="none" stroke="#6e8fd4" stroke-width="0.7" stroke-dasharray="1.2 0.7"/>
<path d="M500.3,43.5 L501.3,43.5 L502.4,43.5 L503.4,43.5 L504.5,43.5 L505.5,43.5 L506.6,43.5 L507.6,43.5 L508.7,43.5 L509.7,43.5 L510.8,43.5 L511.8,43.5 L512.9,43.5 L513.9,43.5 L515,43.5 L516,43.5 L517.1,43.5 L518.1,43.5 L519.2,43.5 L520.2,43.5 L521.3,43.5 L522.3,43.5 L523.4,43.5 L524.4,43.5 L525.5,43.5 L526.5,43.5 L527.6,43.5 L528.6,43.5 L529.7,43.5 L530.7,43.5 L531.8,43.5 L532.8,43.5 L533.9,43.5 L534.9,43.6 L536,43.6 L537,43.6 L538.1,43.6 L539.1,43.6 L540.2,43.6 L541.2,43.6 L542.3,43.6 L543.3,43.6 L544.4,43.6 L545.4,43.6 L546.5,43.6 L547.5,43.6 L548.6,43.6 L549.6,43.6 L550.7,43.7 L551.7,43.7 L552.8,43.7 L553.8,43.7 L554.9,43.7 L555.9,43.8 L557,43.8 L558,43.8 L559.1,43.9 L560.1,43.9 L561.2,44 L562.2,44.1 L563.3,44.1 L564.3,44.2 L565.4,44.3 L566.4,44.4 L567.5,44.6 L568.5,44.7 L569.6,44.9 L570.6,45 L571.7,45.2 L572.7,45.5 L573.8,45.8 L574.8,46.1 L575.9,46.4 L576.9,46.8 L578,47.2 L579,47.7 L580.1,48.3 L581.1,48.9 L582.2,49.7 L583.2,50.5 L584.3,51.4 L585.3,52.3 L586.4,53.5 L587.4,54.7 L588.5,56.1 L589.5,57.5 L590.6,59.2 L591.6,61 L592.7,62.9 L593.7,65 L594.8,67.2 L595.8,69.6 L596.9,72.2 L597.9,74.8 L599,77.6 L600,80.4 L601.1,83.4 L602.1,86.3 L603.2,89.3 L604.2,92.3 L605.3,95.3 L606.3,98.2 L607.4,101 L608.4,103.8 L609.5,106.4 L610.5,108.8 L611.5,111.2 L612.6,113.4 L613.6,115.4 L614.7,117.3 L615.7,119.1 L616.8,120.7 L617.8,122.1 L618.9,123.4 L619.9,124.6 L621,125.7 L622,126.7 L623.1,127.5 L624.1,128.3 L625.2,129 L626.2,129.6" fill="none" stroke="#6e8fd4" stroke-width="0.7" stroke-dasharray="1.2 0.7"/>
<path d="M500.3,43.5 L501.3,43.5 L502.4,43.5 L503.4,43.5 L504.5,43.5 L505.5,43.5 L506.6,43.5 L507.6,43.5 L508.7,43.5 L509.7,43.5 L510.8,43.5 L511.8,43.5 L512.9,43.5 L513.9,43.5 L515,43.5 L516,43.5 L517.1,43.5 L518.1,43.5 L519.2,43.5 L520.2,43.5 L521.3,43.5 L522.3,43.5 L523.4,43.5 L524.4,43.5 L525.5,43.5 L526.5,43.5 L527.6,43.5 L528.6,43.5 L529.7,43.5 L530.7,43.5 L531.8,43.5 L532.8,43.5 L533.9,43.6 L534.9,43.6 L536,43.6 L537,43.6 L538.1,43.6 L539.1,43.6 L540.2,43.6 L541.2,43.6 L542.3,43.6 L543.3,43.6 L544.4,43.6 L545.4,43.6 L546.5,43.6 L547.5,43.6 L548.6,43.6 L549.6,43.6 L550.7,43.7 L551.7,43.7 L552.8,43.7 L553.8,43.7 L554.9,43.7 L555.9,43.8 L557,43.8 L558,43.8 L559.1,43.9 L560.1,43.9 L561.2,44 L562.2,44 L563.3,44.1 L564.3,44.2 L565.4,44.2 L566.4,44.3 L567.5,44.4 L568.5,44.5 L569.6,44.7 L570.6,44.8 L571.7,45 L572.7,45.2 L573.8,45.4 L574.8,45.6 L575.9,45.9 L576.9,46.2 L578,46.5 L579,46.9 L580.1,47.4 L581.1,47.8 L582.2,48.4 L583.2,49 L584.3,49.6 L585.3,50.4 L586.4,51.2 L587.4,52.1 L588.5,53.1 L589.5,54.2 L590.6,55.5 L591.6,56.8 L592.7,58.3 L593.7,59.9 L594.8,61.6 L595.8,63.4 L596.9,65.4 L597.9,67.5 L599,69.8 L600,72.1 L601.1,74.6 L602.1,77.2 L603.2,79.8 L604.2,82.6 L605.3,85.3 L606.3,88.1 L607.4,90.9 L608.4,93.7 L609.5,96.5 L610.5,99.2 L611.5,101.8 L612.6,104.3 L613.6,106.7 L614.7,109 L615.7,111.2 L616.8,113.3 L617.8,115.2 L618.9,117 L619.9,118.6 L621,120.2 L622,121.6 L623.1,122.9 L624.1,124 L625.2,125.1 L626.2,126.1" fill="none" stroke="#2d5cb5" stroke-width="1.1"/>
<path d="M500.3 42.4 V44.6 M498.7 42.4 H501.9 M498.7 44.6 H501.9" stroke="#2a55b0" stroke-width="0.8" fill="none"/>
<circle cx="500.3" cy="43.5" r="1.75" fill="#1e4aa6"/>
<path d="M560.3 42.9 V48.3 M558.7 42.9 H561.9 M558.7 48.3 H561.9" stroke="#2a55b0" stroke-width="0.8" fill="none"/>
<circle cx="560.3" cy="45.6" r="1.75" fill="#1e4aa6"/>
<path d="M576.8 52.4 V54.6 M575.2 52.4 H578.4 M575.2 54.6 H578.4" stroke="#2a55b0" stroke-width="0.8" fill="none"/>
<circle cx="576.8" cy="53.5" r="1.75" fill="#1e4aa6"/>
<path d="M593.3 57.6 V63.9 M591.7 57.6 H594.9 M591.7 63.9 H594.9" stroke="#2a55b0" stroke-width="0.8" fill="none"/>
<circle cx="593.3" cy="60.8" r="1.75" fill="#1e4aa6"/>
<path d="M609.8 91.6 V97 M608.2 91.6 H611.4 M608.2 97 H611.4" stroke="#2a55b0" stroke-width="0.8" fill="none"/>
<circle cx="609.8" cy="94.3" r="1.75" fill="#1e4aa6"/>
<circle cx="626.2" cy="127.9" r="1.75" fill="#1e4aa6"/>
</g>
<text x="2.2" y="176" font-size="15" font-weight="bold" text-anchor="start" font-family="'Liberation Serif', 'Times New Roman', serif" fill="#000" letter-spacing="0.9">(d)</text>
<text x="68" y="181.2" font-size="13.0" font-weight="bold" text-anchor="middle" font-family="'Liberation Sans', Arial, sans-serif" fill="#111"  stroke="#111" stroke-width="0.3">PBS</text>
<text x="170.9" y="181.2" font-size="13.0" font-weight="bold" text-anchor="middle" font-family="'Liberation Sans', Arial, sans-serif" fill="#111"  stroke="#111" stroke-width="0.3">50µM</text>
<text x="267.3" y="181.2" font-size="13.0" font-weight="bold" text-anchor="middle" font-family="'Liberation Sans', Arial, sans-serif" fill="#111"  stroke="#111" stroke-width="0.3">100µM</text>
<text transform="translate(11.9,237.5) rotate(-90)" font-size="10" font-weight="bold" text-anchor="middle" font-family="'Liberation Sans', Arial, sans-serif" fill="#111" stroke="#111" stroke-width="0.3">U87</text>
<text transform="translate(11.9,334.7) rotate(-90)" font-size="10" font-weight="bold" text-anchor="middle" font-family="'Liberation Sans', Arial, sans-serif" fill="#111" stroke="#111" stroke-width="0.3">GL261</text>
<defs>
<radialGradient id="wellg" cx="0.5" cy="0.45" r="0.55">
<stop offset="0" stop-color="#fbfafd"/><stop offset="0.55" stop-color="#f4f1f7"/><stop offset="0.88" stop-color="#e6deee"/><stop offset="1" stop-color="#dcd2e7"/>
</radialGradient>
<radialGradient id="tint"><stop offset="0" stop-color="#b9a0d4" stop-opacity="0.6"/><stop offset="1" stop-color="#b9a0d4" stop-opacity="0"/></radialGradient>
<radialGradient id="pshade"><stop offset="0" stop-color="#b8b4bc" stop-opacity="0.9"/><stop offset="1" stop-color="#b8b4bc" stop-opacity="0"/></radialGradient>
<radialGradient id="wellp" cx="0.3" cy="0.75" r="0.6">
<stop offset="0" stop-color="#c9b6dc" stop-opacity="0.55"/><stop offset="1" stop-color="#c9b6dc" stop-opacity="0"/>
</radialGradient>
<linearGradient id="plateg" x1="0" y1="0" x2="1" y2="1">
<stop offset="0" stop-color="#ebe5ed"/><stop offset="0.5" stop-color="#f0eaf1"/><stop offset="1" stop-color="#e5dfe7"/>
</linearGradient>
<filter id="dblur" x="-0.1" y="-0.1" width="1.2" height="1.2"><feGaussianBlur stdDeviation="0.3"/></filter>
<clipPath id="platec"><rect x="17" y="184.3" width="297" height="192.1"/></clipPath>
</defs>
<g clip-path="url(#platec)">
<rect x="17" y="184.3" width="297" height="192.1" fill="url(#plateg)"/>
<circle cx="117" cy="186" r="9" fill="url(#pshade)" opacity="0.25"/>
<circle cx="216" cy="186" r="9" fill="url(#pshade)" opacity="0.25"/>
<circle cx="117" cy="280" r="9" fill="url(#pshade)" opacity="0.25"/>
<circle cx="216" cy="280" r="9" fill="url(#pshade)" opacity="0.25"/>
<circle cx="18" cy="280" r="9" fill="url(#pshade)" opacity="0.25"/>
<circle cx="313" cy="280" r="9" fill="url(#pshade)" opacity="0.25"/>
<circle cx="18" cy="186" r="9" fill="url(#pshade)" opacity="0.25"/>
<circle cx="313" cy="186" r="9" fill="url(#pshade)" opacity="0.25"/>
<circle cx="18" cy="376" r="9" fill="url(#pshade)" opacity="0.25"/>
<circle cx="313" cy="376" r="9" fill="url(#pshade)" opacity="0.25"/>
<circle cx="117" cy="376" r="9" fill="url(#pshade)" opacity="0.25"/>
<circle cx="216" cy="376" r="9" fill="url(#pshade)" opacity="0.25"/>
<circle cx="69.0" cy="232.8" r="46.7" fill="#b8b3bc"/>
<circle cx="69.0" cy="232.8" r="46.0" fill="#f6f5f8"/>
<circle cx="69.0" cy="232.8" r="44.6" fill="none" stroke="#d4d0d8" stroke-width="0.6"/>
<circle cx="69.0" cy="232.8" r="43.0" fill="#bcb7c2"/>
<circle cx="69.0" cy="232.8" r="42.3" fill="url(#wellg)"/>
<circle cx="69.0" cy="232.8" r="42.3" fill="url(#wellp)"/>
<ellipse cx="91.0" cy="244.8" rx="22" ry="30" fill="url(#tint)" opacity="1.0"/>
<ellipse cx="64.0" cy="260.8" rx="25" ry="12" fill="url(#tint)" opacity="0.6"/>
<g fill="#2c36a2" filter="url(#dblur)"><circle cx="31.7" cy="248.0" r="1.6"/><circle cx="67.7" cy="243.6" r="1.0"/><circle cx="66.5" cy="242.9" r="0.6"/><circle cx="63.8" cy="229.0" r="0.6"/><circle cx="54.4" cy="230.6" r="1.0"/><circle cx="49.3" cy="253.2" r="0.7"/><circle cx="48.6" cy="222.8" r="0.7"/><circle cx="45.2" cy="239.1" r="0.7"/><circle cx="38.2" cy="249.1" r="0.9"/><circle cx="70.3" cy="233.6" r="0.8"/><circle cx="100.6" cy="243.8" r="0.9"/><circle cx="91.8" cy="200.7" r="1.3"/><circle cx="67.6" cy="205.3" r="0.6"/><circle cx="80.2" cy="251.9" r="0.7"/><circle cx="40.6" cy="240.0" r="1.4"/><circle cx="107.0" cy="242.7" r="0.6"/><circle cx="89.7" cy="260.2" r="0.6"/><circle cx="47.6" cy="217.3" r="1.2"/><circle cx="106.4" cy="235.3" r="1.2"/><circle cx="102.6" cy="216.9" r="0.6"/><circle cx="61.7" cy="231.3" r="1.6"/><circle cx="100.9" cy="212.3" r="0.7"/><circle cx="60.5" cy="218.5" r="0.8"/><circle cx="93.9" cy="207.8" r="0.6"/><circle cx="56.2" cy="196.1" r="0.6"/><circle cx="108.2" cy="231.0" r="0.6"/><circle cx="72.7" cy="205.6" r="0.9"/><circle cx="94.6" cy="252.5" r="1.0"/><circle cx="79.9" cy="256.6" r="0.8"/><circle cx="74.7" cy="248.0" r="0.7"/><circle cx="97.9" cy="255.7" r="0.6"/><circle cx="94.4" cy="219.4" r="0.9"/><circle cx="68.7" cy="222.7" r="0.9"/><circle cx="98.5" cy="260.7" r="0.7"/><circle cx="86.3" cy="195.2" r="1.1"/><circle cx="98.2" cy="254.2" r="0.7"/><circle cx="43.9" cy="206.2" r="1.2"/><circle cx="61.4" cy="262.7" r="0.9"/><circle cx="89.5" cy="216.3" r="0.6"/><circle cx="35.1" cy="223.5" r="1.4"/><circle cx="91.6" cy="237.9" r="0.8"/><circle cx="98.1" cy="207.5" r="0.7"/><circle cx="86.8" cy="217.9" r="0.6"/><circle cx="36.0" cy="255.1" r="0.6"/><circle cx="92.6" cy="259.6" r="1.3"/><circle cx="66.2" cy="208.7" r="0.6"/><circle cx="93.7" cy="254.4" r="0.8"/><circle cx="101.7" cy="219.4" r="0.6"/><circle cx="32.0" cy="223.5" r="1.2"/><circle cx="94.2" cy="205.7" r="1.0"/><circle cx="40.8" cy="231.9" r="0.6"/><circle cx="80.9" cy="266.4" r="0.6"/><circle cx="86.8" cy="218.6" r="0.6"/><circle cx="109.5" cy="235.0" r="0.6"/><circle cx="53.5" cy="209.2" r="0.6"/><circle cx="53.7" cy="228.2" r="1.7"/><circle cx="98.4" cy="250.1" r="1.2"/><circle cx="81.3" cy="200.4" r="1.5"/><circle cx="53.9" cy="229.0" r="0.7"/><circle cx="66.4" cy="233.3" r="0.7"/><circle cx="49.1" cy="207.3" r="0.7"/><circle cx="87.4" cy="204.0" r="1.6"/><circle cx="38.6" cy="248.6" r="0.6"/><circle cx="50.6" cy="240.5" r="1.2"/><circle cx="101.3" cy="256.0" r="0.6"/><circle cx="103.5" cy="221.7" r="0.6"/><circle cx="108.2" cy="242.1" r="1.4"/><circle cx="106.9" cy="244.8" r="0.6"/><circle cx="37.7" cy="208.5" r="0.7"/><circle cx="69.1" cy="247.8" r="0.6"/><circle cx="97.3" cy="220.8" r="0.6"/><circle cx="44.4" cy="254.1" r="0.7"/><circle cx="40.3" cy="250.7" r="0.8"/><circle cx="97.2" cy="230.2" r="1.2"/><circle cx="89.8" cy="245.8" r="0.6"/><circle cx="96.7" cy="216.3" r="0.6"/><circle cx="79.9" cy="269.5" r="1.5"/><circle cx="65.2" cy="260.2" r="1.0"/><circle cx="58.2" cy="224.5" r="0.6"/><circle cx="92.0" cy="227.6" r="0.7"/><circle cx="97.1" cy="262.4" r="0.8"/><circle cx="45.5" cy="262.4" r="1.4"/><circle cx="103.4" cy="238.8" r="0.6"/><circle cx="47.1" cy="212.7" r="1.4"/><circle cx="69.9" cy="252.1" r="1.0"/><circle cx="63.1" cy="267.4" r="1.0"/><circle cx="73.8" cy="242.7" r="1.4"/><circle cx="102.6" cy="221.3" r="1.4"/><circle cx="105.4" cy="228.8" r="0.6"/><circle cx="38.1" cy="257.6" r="0.8"/><circle cx="71.7" cy="218.8" r="1.5"/><circle cx="65.5" cy="199.0" r="0.6"/><circle cx="47.6" cy="239.1" r="0.6"/><circle cx="33.4" cy="244.4" r="0.6"/><circle cx="96.7" cy="209.9" r="1.2"/><circle cx="84.2" cy="208.0" r="0.6"/><circle cx="72.0" cy="211.1" r="0.6"/><circle cx="107.6" cy="232.8" r="0.6"/><circle cx="102.0" cy="242.0" r="2.0"/><circle cx="87.6" cy="260.4" r="1.0"/><circle cx="85.3" cy="253.1" r="0.7"/><circle cx="78.5" cy="236.4" r="1.2"/><circle cx="42.0" cy="207.7" r="0.7"/><circle cx="31.0" cy="216.1" r="1.2"/><circle cx="69.5" cy="263.5" r="1.0"/><circle cx="59.9" cy="228.4" r="0.8"/><circle cx="62.2" cy="244.8" r="0.7"/><circle cx="57.0" cy="265.9" r="0.7"/><circle cx="91.1" cy="219.9" r="0.6"/><circle cx="99.2" cy="234.7" r="0.7"/><circle cx="56.8" cy="195.9" r="0.6"/><circle cx="92.1" cy="266.4" r="0.8"/><circle cx="104.8" cy="221.0" r="0.6"/><circle cx="107.8" cy="221.4" r="0.6"/><circle cx="47.8" cy="200.2" r="0.6"/><circle cx="55.5" cy="241.3" r="0.6"/><circle cx="41.7" cy="229.7" r="1.0"/><circle cx="96.4" cy="208.9" r="1.2"/><circle cx="70.5" cy="216.0" r="0.6"/><circle cx="34.6" cy="216.3" r="0.9"/><circle cx="79.6" cy="197.7" r="0.8"/><circle cx="89.1" cy="212.8" r="0.6"/><circle cx="31.5" cy="239.7" r="0.6"/><circle cx="79.1" cy="257.4" r="1.0"/><circle cx="85.5" cy="210.9" r="1.3"/><circle cx="84.6" cy="241.8" r="1.1"/><circle cx="73.7" cy="194.0" r="1.5"/><circle cx="67.6" cy="243.0" r="2.3"/><circle cx="98.2" cy="207.5" r="0.9"/><circle cx="76.3" cy="232.5" r="1.6"/><circle cx="80.9" cy="268.1" r="0.6"/><circle cx="89.7" cy="216.5" r="0.6"/><circle cx="89.7" cy="199.6" r="0.7"/><circle cx="87.2" cy="198.0" r="0.9"/><circle cx="93.4" cy="209.9" r="0.6"/><circle cx="57.6" cy="260.1" r="0.8"/><circle cx="52.5" cy="211.8" r="0.6"/><circle cx="57.3" cy="223.0" r="0.6"/><circle cx="107.2" cy="225.9" r="0.6"/><circle cx="33.1" cy="243.6" r="1.2"/><circle cx="55.4" cy="256.9" r="0.6"/><circle cx="95.8" cy="252.4" r="0.6"/><circle cx="104.7" cy="214.3" r="0.7"/><circle cx="64.5" cy="224.1" r="1.2"/><circle cx="80.6" cy="260.4" r="0.9"/><circle cx="76.9" cy="266.1" r="1.1"/><circle cx="31.8" cy="245.1" r="0.8"/><circle cx="78.2" cy="201.2" r="0.6"/><circle cx="70.7" cy="259.5" r="1.0"/><circle cx="71.5" cy="267.6" r="0.8"/><circle cx="66.3" cy="262.4" r="0.7"/><circle cx="77.9" cy="260.9" r="1.5"/><circle cx="89.6" cy="258.5" r="1.4"/><circle cx="54.4" cy="198.5" r="0.6"/><circle cx="77.6" cy="207.9" r="1.2"/><circle cx="98.1" cy="207.4" r="0.8"/><circle cx="87.8" cy="218.2" r="0.6"/><circle cx="67.0" cy="231.0" r="0.7"/><circle cx="99.5" cy="254.4" r="1.5"/><circle cx="40.4" cy="259.1" r="0.6"/><circle cx="106.2" cy="222.0" r="1.2"/><circle cx="89.4" cy="253.4" r="1.4"/><circle cx="31.8" cy="229.3" r="1.3"/><circle cx="34.0" cy="215.0" r="0.9"/><circle cx="90.8" cy="202.0" r="0.6"/><circle cx="81.2" cy="240.6" r="1.1"/><circle cx="91.6" cy="264.3" r="0.7"/><circle cx="84.4" cy="231.2" r="0.8"/><circle cx="96.3" cy="206.8" r="0.7"/><circle cx="71.0" cy="199.1" r="0.6"/><circle cx="89.1" cy="261.7" r="1.1"/><circle cx="52.8" cy="206.8" r="1.0"/><circle cx="36.4" cy="246.1" r="0.8"/><circle cx="43.8" cy="225.3" r="1.3"/><circle cx="48.5" cy="255.6" r="1.6"/><circle cx="96.3" cy="208.8" r="1.4"/><circle cx="69.0" cy="244.7" r="0.6"/><circle cx="71.1" cy="218.4" r="0.6"/><circle cx="93.3" cy="233.7" r="1.1"/><circle cx="51.7" cy="258.9" r="0.6"/><circle cx="84.4" cy="248.1" r="1.1"/><circle cx="49.4" cy="265.5" r="0.8"/><circle cx="94.8" cy="259.6" r="0.7"/><circle cx="59.6" cy="267.0" r="0.8"/><circle cx="62.3" cy="200.3" r="1.4"/><circle cx="63.6" cy="235.9" r="0.6"/><circle cx="50.2" cy="201.3" r="0.7"/><circle cx="107.6" cy="244.8" r="1.2"/><circle cx="100.4" cy="210.8" r="0.9"/><circle cx="88.1" cy="241.3" r="0.6"/><circle cx="106.0" cy="242.7" r="1.0"/><circle cx="43.1" cy="257.1" r="0.7"/><circle cx="49.1" cy="240.6" r="1.2"/><circle cx="36.2" cy="211.4" r="0.6"/><circle cx="70.4" cy="195.2" r="0.8"/><circle cx="77.6" cy="200.9" r="0.6"/><circle cx="89.1" cy="262.2" r="1.2"/><circle cx="97.0" cy="216.2" r="1.0"/><circle cx="92.1" cy="263.0" r="0.9"/><circle cx="39.4" cy="204.4" r="0.7"/><circle cx="43.8" cy="204.8" r="0.8"/><circle cx="106.7" cy="218.8" r="0.6"/><circle cx="79.5" cy="268.1" r="0.6"/><circle cx="97.0" cy="250.2" r="1.0"/><circle cx="93.2" cy="254.4" r="0.6"/><circle cx="100.7" cy="214.0" r="1.3"/><circle cx="51.2" cy="208.0" r="0.6"/><circle cx="35.5" cy="251.9" r="0.6"/><circle cx="101.6" cy="252.7" r="0.8"/><circle cx="32.3" cy="226.0" r="0.6"/><circle cx="100.9" cy="216.9" r="2.1"/><circle cx="63.4" cy="238.1" r="0.6"/><circle cx="53.2" cy="219.4" r="1.6"/><circle cx="92.2" cy="209.5" r="1.0"/><circle cx="101.7" cy="238.9" r="0.7"/><circle cx="62.8" cy="256.3" r="1.3"/><circle cx="31.9" cy="251.0" r="0.7"/><circle cx="108.7" cy="233.4" r="0.8"/><circle cx="37.9" cy="257.7" r="0.7"/><circle cx="101.5" cy="217.5" r="1.4"/><circle cx="82.2" cy="196.8" r="0.9"/><circle cx="105.8" cy="239.7" r="0.6"/><circle cx="95.6" cy="246.0" r="0.6"/><circle cx="41.0" cy="226.9" r="0.6"/><circle cx="50.9" cy="201.1" r="1.3"/><circle cx="74.7" cy="194.3" r="1.4"/><circle cx="62.0" cy="272.2" r="0.6"/><circle cx="100.6" cy="255.6" r="0.9"/><circle cx="102.1" cy="239.3" r="0.6"/><circle cx="51.8" cy="196.4" r="1.0"/><circle cx="94.7" cy="253.4" r="0.7"/><circle cx="47.4" cy="206.1" r="0.6"/><circle cx="83.8" cy="229.1" r="0.6"/><circle cx="68.5" cy="219.0" r="1.2"/><circle cx="48.0" cy="254.8" r="0.9"/><circle cx="45.8" cy="220.3" r="0.6"/><circle cx="97.1" cy="256.6" r="0.6"/><circle cx="38.0" cy="238.6" r="0.6"/><circle cx="40.9" cy="247.7" r="0.8"/><circle cx="40.7" cy="224.3" r="0.8"/><circle cx="69.7" cy="262.5" r="1.4"/><circle cx="87.3" cy="236.7" r="0.8"/><circle cx="107.3" cy="233.5" r="0.7"/><circle cx="67.7" cy="222.2" r="0.6"/><circle cx="101.4" cy="230.6" r="1.3"/><circle cx="76.9" cy="267.5" r="0.8"/><circle cx="79.7" cy="264.9" r="0.6"/><circle cx="73.1" cy="193.7" r="0.6"/><circle cx="59.8" cy="197.1" r="0.6"/><circle cx="99.7" cy="246.4" r="0.8"/><circle cx="102.3" cy="245.3" r="0.6"/><circle cx="67.1" cy="227.7" r="0.7"/><circle cx="58.8" cy="258.2" r="0.7"/><circle cx="83.4" cy="234.2" r="0.6"/><circle cx="98.0" cy="222.3" r="1.0"/><circle cx="85.4" cy="205.5" r="0.7"/><circle cx="95.8" cy="217.8" r="1.3"/><circle cx="103.5" cy="252.8" r="0.6"/><circle cx="51.8" cy="199.7" r="1.3"/><circle cx="93.6" cy="227.9" r="0.7"/><circle cx="79.7" cy="261.8" r="0.9"/><circle cx="55.8" cy="258.7" r="0.8"/><circle cx="87.5" cy="268.5" r="0.9"/><circle cx="65.3" cy="219.6" r="0.7"/><circle cx="107.0" cy="233.1" r="1.4"/><circle cx="103.2" cy="241.8" r="0.8"/><circle cx="104.4" cy="220.9" r="0.6"/><circle cx="39.7" cy="253.2" r="1.6"/><circle cx="50.3" cy="258.7" r="1.1"/><circle cx="78.3" cy="222.9" r="0.6"/><circle cx="89.2" cy="203.3" r="1.0"/><circle cx="59.0" cy="195.4" r="0.6"/><circle cx="69.0" cy="228.5" r="0.6"/><circle cx="94.2" cy="226.3" r="1.4"/><circle cx="102.8" cy="242.2" r="1.0"/><circle cx="101.6" cy="228.6" r="0.6"/><circle cx="102.4" cy="230.0" r="0.6"/><circle cx="77.9" cy="244.7" r="0.7"/><circle cx="57.0" cy="198.9" r="0.8"/><circle cx="82.1" cy="208.9" r="1.6"/><circle cx="88.8" cy="246.1" r="1.2"/><circle cx="35.3" cy="214.3" r="1.0"/><circle cx="60.2" cy="264.5" r="0.8"/><circle cx="89.7" cy="261.0" r="1.3"/><circle cx="95.5" cy="247.1" r="1.0"/><circle cx="76.2" cy="205.0" r="0.7"/><circle cx="29.7" cy="231.2" r="0.7"/><circle cx="64.7" cy="193.6" r="0.9"/><circle cx="47.7" cy="235.9" r="1.2"/><circle cx="35.8" cy="226.9" r="1.5"/></g>
<circle cx="166.3" cy="233.2" r="46.7" fill="#b8b3bc"/>
<circle cx="166.3" cy="233.2" r="46.0" fill="#f6f5f8"/>
<circle cx="166.3" cy="233.2" r="44.6" fill="none" stroke="#d4d0d8" stroke-width="0.6"/>
<circle cx="166.3" cy="233.2" r="43.0" fill="#bcb7c2"/>
<circle cx="166.3" cy="233.2" r="42.3" fill="url(#wellg)"/>
<circle cx="166.3" cy="233.2" r="42.3" fill="url(#wellp)"/>
<ellipse cx="166.3" cy="258.2" rx="35" ry="16" fill="url(#tint)" opacity="0.7"/>
<g fill="#2c36a2" filter="url(#dblur)"><circle cx="194.6" cy="212.4" r="0.3"/><circle cx="177.5" cy="248.7" r="0.8"/><circle cx="147.5" cy="208.8" r="0.5"/><circle cx="143.2" cy="211.6" r="0.3"/><circle cx="128.1" cy="241.2" r="0.5"/><circle cx="162.8" cy="250.6" r="0.7"/><circle cx="171.5" cy="242.7" r="0.7"/><circle cx="202.7" cy="225.4" r="0.4"/><circle cx="202.6" cy="220.9" r="0.4"/><circle cx="168.0" cy="258.7" r="0.3"/><circle cx="148.7" cy="202.5" r="0.8"/><circle cx="167.9" cy="250.4" r="0.7"/><circle cx="169.2" cy="204.7" r="0.6"/><circle cx="152.3" cy="208.8" r="0.3"/></g>
<circle cx="264.4" cy="232.8" r="46.7" fill="#b8b3bc"/>
<circle cx="264.4" cy="232.8" r="46.0" fill="#f6f5f8"/>
<circle cx="264.4" cy="232.8" r="44.6" fill="none" stroke="#d4d0d8" stroke-width="0.6"/>
<circle cx="264.4" cy="232.8" r="43.0" fill="#bcb7c2"/>
<circle cx="264.4" cy="232.8" r="42.3" fill="url(#wellg)"/>
<circle cx="264.4" cy="232.8" r="42.3" fill="url(#wellp)"/>
<ellipse cx="269.4" cy="254.8" rx="32" ry="18" fill="url(#tint)" opacity="0.6"/>
<g fill="#2c36a2" filter="url(#dblur)"><circle cx="264.1" cy="251.5" r="0.6"/><circle cx="266.1" cy="208.0" r="0.3"/><circle cx="296.9" cy="243.5" r="0.5"/><circle cx="241.2" cy="227.1" r="0.3"/><circle cx="249.3" cy="230.5" r="0.4"/><circle cx="252.2" cy="213.1" r="0.7"/><circle cx="290.5" cy="215.1" r="0.3"/><circle cx="288.8" cy="251.6" r="0.8"/><circle cx="252.5" cy="252.7" r="0.3"/><circle cx="251.5" cy="248.4" r="0.3"/><circle cx="292.9" cy="204.8" r="0.4"/><circle cx="284.4" cy="209.7" r="0.3"/><circle cx="296.7" cy="227.5" r="0.3"/><circle cx="286.4" cy="239.6" r="0.5"/><circle cx="289.3" cy="247.8" r="0.6"/><circle cx="243.8" cy="253.4" r="0.9"/><circle cx="254.2" cy="255.8" r="0.3"/><circle cx="235.2" cy="243.1" r="0.3"/><circle cx="237.9" cy="213.8" r="0.6"/><circle cx="236.9" cy="245.0" r="0.7"/><circle cx="291.9" cy="209.8" r="0.9"/><circle cx="225.8" cy="242.6" r="0.4"/><circle cx="275.5" cy="245.3" r="0.9"/><circle cx="285.8" cy="239.0" r="0.3"/><circle cx="298.5" cy="222.0" r="0.9"/><circle cx="255.6" cy="265.1" r="0.8"/><circle cx="255.2" cy="257.4" r="0.5"/><circle cx="286.4" cy="203.8" r="0.9"/><circle cx="230.1" cy="238.4" r="0.3"/><circle cx="288.0" cy="207.3" r="0.5"/><circle cx="292.1" cy="207.1" r="0.4"/><circle cx="276.1" cy="225.7" r="0.4"/><circle cx="244.8" cy="228.7" r="0.5"/><circle cx="284.5" cy="249.9" r="0.4"/><circle cx="249.5" cy="195.2" r="0.8"/><circle cx="279.8" cy="232.0" r="0.4"/><circle cx="244.6" cy="219.9" r="0.4"/><circle cx="264.5" cy="252.5" r="0.6"/><circle cx="269.4" cy="253.9" r="0.5"/><circle cx="259.6" cy="257.4" r="0.6"/><circle cx="286.2" cy="245.7" r="0.5"/><circle cx="237.7" cy="239.2" r="0.6"/><circle cx="304.5" cy="236.8" r="0.6"/><circle cx="243.6" cy="238.1" r="0.4"/><circle cx="302.7" cy="225.0" r="0.4"/><circle cx="262.3" cy="219.1" r="0.5"/><circle cx="245.3" cy="205.2" r="0.3"/><circle cx="284.9" cy="262.7" r="0.5"/><circle cx="239.6" cy="254.0" r="0.6"/><circle cx="272.0" cy="235.3" r="0.4"/><circle cx="241.9" cy="204.0" r="0.6"/><circle cx="231.5" cy="251.4" r="1.3"/><circle cx="262.3" cy="218.1" r="0.3"/><circle cx="256.3" cy="260.7" r="0.8"/><circle cx="287.4" cy="252.5" r="0.5"/><circle cx="260.2" cy="243.3" r="0.3"/><circle cx="238.6" cy="241.6" r="0.5"/><circle cx="277.0" cy="249.1" r="0.5"/><circle cx="295.0" cy="258.2" r="0.6"/><circle cx="227.5" cy="237.6" r="0.9"/><circle cx="274.2" cy="211.4" r="0.5"/><circle cx="296.0" cy="248.2" r="0.5"/><circle cx="257.1" cy="231.9" r="0.8"/><circle cx="293.5" cy="236.6" r="0.4"/><circle cx="236.0" cy="258.2" r="0.5"/><circle cx="247.5" cy="236.4" r="0.3"/><circle cx="285.8" cy="246.0" r="0.4"/><circle cx="295.9" cy="249.1" r="0.5"/><circle cx="266.8" cy="234.0" r="0.3"/><circle cx="237.5" cy="261.9" r="0.7"/><circle cx="272.9" cy="256.4" r="0.3"/><circle cx="257.9" cy="194.4" r="0.3"/><circle cx="275.2" cy="232.0" r="0.3"/><circle cx="292.6" cy="231.2" r="0.6"/><circle cx="266.4" cy="260.3" r="0.5"/><circle cx="282.3" cy="245.6" r="0.7"/><circle cx="259.0" cy="195.4" r="0.9"/><circle cx="288.3" cy="254.5" r="0.9"/><circle cx="233.5" cy="231.8" r="0.3"/><circle cx="259.5" cy="228.0" r="0.3"/></g>
<circle cx="67.2" cy="328.8" r="46.7" fill="#b8b3bc"/>
<circle cx="67.2" cy="328.8" r="46.0" fill="#f6f5f8"/>
<circle cx="67.2" cy="328.8" r="44.6" fill="none" stroke="#d4d0d8" stroke-width="0.6"/>
<circle cx="67.2" cy="328.8" r="43.0" fill="#bcb7c2"/>
<circle cx="67.2" cy="328.8" r="42.3" fill="url(#wellg)"/>
<circle cx="67.2" cy="328.8" r="42.3" fill="url(#wellp)"/>
<ellipse cx="47.2" cy="343.8" rx="18" ry="25" fill="url(#tint)" opacity="0.8"/>
<ellipse cx="82.2" cy="308.8" rx="20" ry="15" fill="url(#tint)" opacity="0.5"/>
<g fill="#2c36a2" filter="url(#dblur)"><circle cx="91.1" cy="299.6" r="0.9"/><circle cx="81.4" cy="350.1" r="1.5"/><circle cx="45.8" cy="327.8" r="0.9"/><circle cx="72.3" cy="354.5" r="1.1"/><circle cx="54.6" cy="333.3" r="0.7"/><circle cx="65.3" cy="288.0" r="0.8"/><circle cx="93.2" cy="329.1" r="0.9"/><circle cx="99.6" cy="346.3" r="1.0"/><circle cx="77.0" cy="366.1" r="0.6"/><circle cx="101.9" cy="340.9" r="1.0"/><circle cx="81.0" cy="365.5" r="1.0"/><circle cx="53.4" cy="363.1" r="0.6"/><circle cx="36.3" cy="348.4" r="0.7"/><circle cx="35.2" cy="349.2" r="0.6"/><circle cx="100.3" cy="321.2" r="0.6"/><circle cx="80.0" cy="366.7" r="1.0"/><circle cx="71.6" cy="294.0" r="0.6"/><circle cx="40.3" cy="314.4" r="0.6"/><circle cx="63.9" cy="343.5" r="0.8"/><circle cx="45.3" cy="338.1" r="1.3"/><circle cx="54.2" cy="314.1" r="1.1"/><circle cx="56.3" cy="292.9" r="1.0"/><circle cx="31.5" cy="311.2" r="0.9"/><circle cx="46.5" cy="353.1" r="0.9"/><circle cx="77.9" cy="320.6" r="1.0"/><circle cx="47.9" cy="341.2" r="0.6"/><circle cx="45.4" cy="328.1" r="0.6"/><circle cx="36.0" cy="305.8" r="1.3"/><circle cx="69.4" cy="290.9" r="1.0"/><circle cx="30.6" cy="341.3" r="0.6"/><circle cx="65.1" cy="364.7" r="1.2"/><circle cx="99.9" cy="347.0" r="0.7"/><circle cx="68.7" cy="307.3" r="1.2"/><circle cx="88.0" cy="362.7" r="0.7"/><circle cx="60.7" cy="343.3" r="0.6"/><circle cx="34.0" cy="344.6" r="0.6"/><circle cx="103.7" cy="336.0" r="0.7"/><circle cx="92.8" cy="344.4" r="1.3"/><circle cx="81.5" cy="316.3" r="0.7"/><circle cx="73.7" cy="301.6" r="0.6"/><circle cx="44.2" cy="350.2" r="0.9"/><circle cx="46.7" cy="308.6" r="0.6"/><circle cx="105.6" cy="334.1" r="0.6"/><circle cx="62.8" cy="350.7" r="0.7"/><circle cx="73.9" cy="327.2" r="0.6"/><circle cx="32.3" cy="343.9" r="0.6"/><circle cx="30.2" cy="318.9" r="0.6"/><circle cx="54.4" cy="302.2" r="1.3"/><circle cx="102.9" cy="320.3" r="0.7"/><circle cx="96.2" cy="358.0" r="1.5"/><circle cx="49.7" cy="310.6" r="0.8"/><circle cx="67.6" cy="326.8" r="0.7"/><circle cx="81.1" cy="350.6" r="0.6"/><circle cx="66.9" cy="288.5" r="1.2"/><circle cx="68.6" cy="348.8" r="0.6"/><circle cx="50.3" cy="347.9" r="1.5"/><circle cx="38.0" cy="301.0" r="1.5"/><circle cx="73.4" cy="362.5" r="0.6"/><circle cx="40.0" cy="340.1" r="1.1"/><circle cx="71.6" cy="352.7" r="1.1"/><circle cx="55.1" cy="312.5" r="0.6"/><circle cx="50.6" cy="305.7" r="0.6"/><circle cx="105.5" cy="313.4" r="1.1"/><circle cx="58.9" cy="289.3" r="1.5"/><circle cx="28.7" cy="337.4" r="0.7"/><circle cx="41.9" cy="357.5" r="1.5"/><circle cx="54.6" cy="299.0" r="1.2"/><circle cx="75.8" cy="333.6" r="0.6"/><circle cx="59.3" cy="300.2" r="0.8"/><circle cx="73.0" cy="288.5" r="1.1"/><circle cx="41.3" cy="333.6" r="0.6"/><circle cx="81.0" cy="356.6" r="1.0"/><circle cx="79.0" cy="306.2" r="0.6"/><circle cx="57.5" cy="361.2" r="1.5"/><circle cx="27.6" cy="337.1" r="1.2"/><circle cx="47.9" cy="295.4" r="1.1"/><circle cx="99.7" cy="316.7" r="1.1"/><circle cx="36.0" cy="332.2" r="1.5"/><circle cx="42.6" cy="355.4" r="0.7"/><circle cx="104.9" cy="318.7" r="1.1"/><circle cx="99.2" cy="349.4" r="1.1"/><circle cx="83.6" cy="352.0" r="0.6"/><circle cx="50.6" cy="352.9" r="1.3"/><circle cx="72.6" cy="358.2" r="1.3"/><circle cx="61.5" cy="369.2" r="0.8"/><circle cx="84.0" cy="298.9" r="1.1"/><circle cx="86.3" cy="349.9" r="0.7"/><circle cx="42.1" cy="332.6" r="0.8"/><circle cx="65.3" cy="350.5" r="0.6"/><circle cx="79.1" cy="308.3" r="0.8"/><circle cx="30.9" cy="315.9" r="0.6"/><circle cx="31.9" cy="321.9" r="0.6"/><circle cx="86.1" cy="340.2" r="1.4"/><circle cx="72.4" cy="301.2" r="1.5"/><circle cx="29.9" cy="313.3" r="1.3"/><circle cx="77.4" cy="365.3" r="0.6"/><circle cx="63.1" cy="344.8" r="0.6"/><circle cx="93.5" cy="341.3" r="0.8"/><circle cx="105.2" cy="321.7" r="1.2"/><circle cx="82.7" cy="333.4" r="0.6"/><circle cx="51.1" cy="333.6" r="0.7"/><circle cx="27.7" cy="332.0" r="1.2"/><circle cx="38.5" cy="306.5" r="1.0"/><circle cx="51.0" cy="302.2" r="1.0"/><circle cx="44.0" cy="331.2" r="0.7"/><circle cx="87.8" cy="308.1" r="0.6"/><circle cx="26.5" cy="327.1" r="1.1"/><circle cx="76.7" cy="322.8" r="0.8"/><circle cx="82.9" cy="356.0" r="0.9"/><circle cx="92.3" cy="306.4" r="1.0"/><circle cx="60.9" cy="302.2" r="1.2"/><circle cx="39.0" cy="304.3" r="0.8"/><circle cx="37.0" cy="305.1" r="1.0"/><circle cx="104.5" cy="334.7" r="0.9"/><circle cx="78.5" cy="363.7" r="1.1"/><circle cx="65.7" cy="366.8" r="0.6"/><circle cx="48.0" cy="322.6" r="0.6"/><circle cx="106.3" cy="328.1" r="0.6"/><circle cx="64.3" cy="356.3" r="0.8"/><circle cx="57.4" cy="311.5" r="1.4"/><circle cx="52.4" cy="304.3" r="0.6"/><circle cx="39.5" cy="353.5" r="0.6"/><circle cx="31.3" cy="316.9" r="0.6"/><circle cx="77.4" cy="340.1" r="1.1"/><circle cx="35.4" cy="346.6" r="1.2"/><circle cx="62.3" cy="325.6" r="1.0"/><circle cx="45.7" cy="321.2" r="1.3"/><circle cx="92.8" cy="328.7" r="0.6"/><circle cx="74.8" cy="316.7" r="0.9"/><circle cx="99.1" cy="348.4" r="1.1"/><circle cx="43.3" cy="301.7" r="0.7"/><circle cx="68.1" cy="356.4" r="0.7"/><circle cx="61.9" cy="291.4" r="0.9"/><circle cx="37.7" cy="349.9" r="1.0"/><circle cx="36.6" cy="337.6" r="1.1"/><circle cx="91.7" cy="329.6" r="1.5"/><circle cx="71.3" cy="341.5" r="0.7"/><circle cx="69.2" cy="289.9" r="0.7"/><circle cx="56.3" cy="301.2" r="0.9"/><circle cx="74.0" cy="358.0" r="0.6"/><circle cx="68.9" cy="305.7" r="0.8"/><circle cx="73.7" cy="352.0" r="0.7"/><circle cx="53.9" cy="313.9" r="0.7"/><circle cx="63.8" cy="291.6" r="0.6"/><circle cx="63.0" cy="317.0" r="1.2"/><circle cx="69.0" cy="335.4" r="1.2"/><circle cx="36.4" cy="340.0" r="1.1"/><circle cx="82.8" cy="309.3" r="0.7"/><circle cx="92.9" cy="343.0" r="1.3"/><circle cx="98.6" cy="325.6" r="0.8"/><circle cx="53.5" cy="296.3" r="0.9"/><circle cx="80.3" cy="305.5" r="0.6"/><circle cx="36.1" cy="350.2" r="1.4"/><circle cx="32.1" cy="340.7" r="0.6"/><circle cx="48.5" cy="315.2" r="0.9"/><circle cx="68.6" cy="302.6" r="1.5"/><circle cx="46.2" cy="347.8" r="0.6"/><circle cx="45.4" cy="318.5" r="0.9"/><circle cx="36.7" cy="326.5" r="0.9"/><circle cx="80.1" cy="313.1" r="0.9"/><circle cx="77.5" cy="312.3" r="0.6"/><circle cx="100.1" cy="341.4" r="1.4"/><circle cx="88.7" cy="296.0" r="0.7"/><circle cx="86.9" cy="324.3" r="0.8"/><circle cx="51.2" cy="320.8" r="0.8"/><circle cx="83.8" cy="316.0" r="0.6"/><circle cx="45.2" cy="351.3" r="0.9"/><circle cx="60.8" cy="364.8" r="0.8"/><circle cx="105.5" cy="327.0" r="0.7"/><circle cx="69.3" cy="353.0" r="0.7"/><circle cx="68.2" cy="292.1" r="0.6"/><circle cx="102.6" cy="314.9" r="1.4"/><circle cx="57.1" cy="330.0" r="0.8"/><circle cx="32.4" cy="333.8" r="1.0"/><circle cx="49.5" cy="362.2" r="1.4"/><circle cx="103.4" cy="346.5" r="0.6"/><circle cx="76.3" cy="291.4" r="0.6"/><circle cx="76.1" cy="309.3" r="0.9"/><circle cx="79.5" cy="357.0" r="1.2"/><circle cx="69.9" cy="334.8" r="0.8"/><circle cx="102.3" cy="329.1" r="0.6"/><circle cx="55.5" cy="348.3" r="0.6"/><circle cx="69.8" cy="304.5" r="0.6"/><circle cx="88.7" cy="295.5" r="1.1"/><circle cx="48.9" cy="354.2" r="1.2"/><circle cx="92.3" cy="305.2" r="1.3"/><circle cx="36.0" cy="326.5" r="1.6"/><circle cx="39.5" cy="299.6" r="0.6"/><circle cx="101.3" cy="323.3" r="1.0"/><circle cx="30.4" cy="344.7" r="0.6"/><circle cx="49.1" cy="295.9" r="0.7"/><circle cx="28.9" cy="328.0" r="1.5"/><circle cx="94.7" cy="331.3" r="0.6"/><circle cx="28.0" cy="333.4" r="1.0"/><circle cx="78.3" cy="319.7" r="1.1"/><circle cx="49.6" cy="291.5" r="0.6"/><circle cx="58.5" cy="293.5" r="1.0"/><circle cx="97.1" cy="351.9" r="0.6"/><circle cx="31.7" cy="324.9" r="0.9"/><circle cx="89.3" cy="350.8" r="0.8"/><circle cx="95.9" cy="348.9" r="0.9"/><circle cx="81.2" cy="363.1" r="0.9"/><circle cx="59.5" cy="288.7" r="0.6"/><circle cx="96.7" cy="311.5" r="1.2"/><circle cx="74.9" cy="292.3" r="0.6"/><circle cx="47.0" cy="296.9" r="1.5"/><circle cx="65.8" cy="366.0" r="0.6"/><circle cx="30.1" cy="332.4" r="1.1"/><circle cx="44.2" cy="297.4" r="0.7"/><circle cx="59.0" cy="290.6" r="2.5"/><circle cx="66.5" cy="305.2" r="0.8"/><circle cx="36.0" cy="355.4" r="1.2"/><circle cx="49.9" cy="295.1" r="1.4"/><circle cx="64.9" cy="289.8" r="0.7"/><circle cx="44.1" cy="345.6" r="0.6"/><circle cx="69.4" cy="292.7" r="0.7"/><circle cx="70.4" cy="288.9" r="0.6"/><circle cx="39.6" cy="329.8" r="0.8"/><circle cx="92.6" cy="300.0" r="0.8"/><circle cx="77.9" cy="353.0" r="0.8"/><circle cx="79.0" cy="360.0" r="0.6"/><circle cx="62.9" cy="292.3" r="0.6"/><circle cx="53.6" cy="308.2" r="0.7"/><circle cx="97.9" cy="329.0" r="0.8"/><circle cx="72.4" cy="364.9" r="0.9"/><circle cx="47.4" cy="363.7" r="1.4"/><circle cx="76.6" cy="351.8" r="0.6"/><circle cx="75.8" cy="354.6" r="0.8"/><circle cx="71.3" cy="362.1" r="1.1"/><circle cx="60.9" cy="319.4" r="0.7"/><circle cx="66.6" cy="367.3" r="1.4"/><circle cx="53.7" cy="295.1" r="0.8"/><circle cx="34.4" cy="327.0" r="1.3"/><circle cx="80.8" cy="346.4" r="0.6"/><circle cx="63.9" cy="292.7" r="0.6"/><circle cx="84.5" cy="357.0" r="0.8"/><circle cx="86.4" cy="355.0" r="0.6"/><circle cx="80.7" cy="303.2" r="0.6"/><circle cx="60.6" cy="327.6" r="1.2"/><circle cx="46.1" cy="295.3" r="0.6"/><circle cx="66.8" cy="317.1" r="0.6"/><circle cx="67.0" cy="315.8" r="0.6"/><circle cx="30.4" cy="342.3" r="0.8"/><circle cx="71.7" cy="336.2" r="1.5"/><circle cx="71.6" cy="299.1" r="0.6"/><circle cx="61.6" cy="303.3" r="1.2"/><circle cx="33.7" cy="309.7" r="0.6"/><circle cx="47.0" cy="340.5" r="0.7"/><circle cx="54.8" cy="363.3" r="1.5"/><circle cx="69.1" cy="369.0" r="0.9"/><circle cx="60.0" cy="320.4" r="0.6"/><circle cx="52.6" cy="355.5" r="0.6"/><circle cx="40.9" cy="357.3" r="1.1"/><circle cx="61.6" cy="289.7" r="0.7"/><circle cx="66.9" cy="294.1" r="1.4"/><circle cx="41.0" cy="352.3" r="1.1"/><circle cx="107.6" cy="323.0" r="0.7"/><circle cx="64.6" cy="367.9" r="0.9"/><circle cx="40.9" cy="358.4" r="1.1"/><circle cx="66.6" cy="362.6" r="1.2"/><circle cx="95.5" cy="331.8" r="0.7"/><circle cx="85.9" cy="365.7" r="1.2"/><circle cx="36.8" cy="348.6" r="1.3"/><circle cx="73.1" cy="313.9" r="1.4"/><circle cx="35.6" cy="303.2" r="0.6"/><circle cx="86.6" cy="362.6" r="1.0"/><circle cx="42.5" cy="317.8" r="0.6"/><circle cx="43.8" cy="345.1" r="1.1"/><circle cx="29.0" cy="317.3" r="1.4"/><circle cx="92.4" cy="350.2" r="0.9"/><circle cx="105.3" cy="319.0" r="1.2"/><circle cx="72.7" cy="305.1" r="0.6"/><circle cx="100.0" cy="307.6" r="0.7"/><circle cx="61.0" cy="358.0" r="0.6"/><circle cx="55.4" cy="346.2" r="0.6"/><circle cx="72.3" cy="292.6" r="0.6"/><circle cx="49.2" cy="320.2" r="0.8"/><circle cx="49.0" cy="349.5" r="0.8"/><circle cx="65.2" cy="341.4" r="1.1"/><circle cx="90.2" cy="361.2" r="0.6"/><circle cx="94.9" cy="346.0" r="1.0"/><circle cx="64.0" cy="311.9" r="0.6"/><circle cx="58.2" cy="346.1" r="0.7"/><circle cx="43.0" cy="303.3" r="1.4"/><circle cx="30.2" cy="334.3" r="0.6"/><circle cx="32.7" cy="319.1" r="1.2"/><circle cx="92.2" cy="361.8" r="1.1"/><circle cx="59.3" cy="361.2" r="1.4"/><circle cx="87.9" cy="358.1" r="0.6"/><circle cx="87.2" cy="325.1" r="0.6"/><circle cx="66.8" cy="324.0" r="0.8"/><circle cx="77.6" cy="340.5" r="0.8"/><circle cx="89.3" cy="328.2" r="0.6"/><circle cx="39.7" cy="305.4" r="0.6"/><circle cx="52.4" cy="309.1" r="1.0"/><circle cx="79.3" cy="300.9" r="1.1"/><circle cx="78.7" cy="329.0" r="0.6"/><circle cx="52.7" cy="336.0" r="1.0"/><circle cx="80.4" cy="354.8" r="0.6"/><circle cx="63.9" cy="290.1" r="0.6"/><circle cx="35.1" cy="339.9" r="0.6"/><circle cx="71.9" cy="364.4" r="0.8"/><circle cx="34.4" cy="306.1" r="0.6"/><circle cx="102.7" cy="310.1" r="0.6"/><circle cx="73.0" cy="324.0" r="0.7"/><circle cx="87.1" cy="314.9" r="0.6"/><circle cx="58.1" cy="295.7" r="0.7"/><circle cx="59.1" cy="332.0" r="0.6"/><circle cx="39.2" cy="345.7" r="1.4"/><circle cx="84.0" cy="314.1" r="1.1"/><circle cx="61.0" cy="348.9" r="0.8"/><circle cx="67.3" cy="364.9" r="0.6"/><circle cx="64.5" cy="335.5" r="0.9"/><circle cx="87.1" cy="314.6" r="0.7"/><circle cx="67.5" cy="366.8" r="1.1"/><circle cx="83.3" cy="336.0" r="1.3"/><circle cx="91.1" cy="296.2" r="0.6"/><circle cx="106.3" cy="333.9" r="1.0"/><circle cx="32.1" cy="341.5" r="1.4"/><circle cx="104.5" cy="343.9" r="0.6"/><circle cx="104.5" cy="334.8" r="1.3"/><circle cx="71.7" cy="326.2" r="1.2"/><circle cx="89.4" cy="300.1" r="1.0"/><circle cx="33.8" cy="334.0" r="2.5"/><circle cx="58.0" cy="311.1" r="0.6"/><circle cx="53.9" cy="306.6" r="0.9"/><circle cx="48.2" cy="338.5" r="0.8"/><circle cx="55.8" cy="317.1" r="1.1"/><circle cx="58.1" cy="317.3" r="0.6"/><circle cx="41.0" cy="337.4" r="0.6"/></g>
<circle cx="165.8" cy="329.0" r="46.7" fill="#b8b3bc"/>
<circle cx="165.8" cy="329.0" r="46.0" fill="#f6f5f8"/>
<circle cx="165.8" cy="329.0" r="44.6" fill="none" stroke="#d4d0d8" stroke-width="0.6"/>
<circle cx="165.8" cy="329.0" r="43.0" fill="#bcb7c2"/>
<circle cx="165.8" cy="329.0" r="42.3" fill="url(#wellg)"/>
<circle cx="165.8" cy="329.0" r="42.3" fill="url(#wellp)"/>
<ellipse cx="155.8" cy="339.0" rx="25" ry="25" fill="url(#tint)" opacity="0.5"/>
<g fill="#2c36a2" filter="url(#dblur)"><circle cx="196.2" cy="340.9" r="1.3"/><circle cx="186.8" cy="345.9" r="0.6"/><circle cx="180.5" cy="326.1" r="0.7"/><circle cx="177.3" cy="318.6" r="0.6"/><circle cx="194.9" cy="338.2" r="0.5"/><circle cx="145.9" cy="353.8" r="0.6"/><circle cx="176.9" cy="291.1" r="0.7"/><circle cx="175.2" cy="329.1" r="1.1"/><circle cx="163.5" cy="306.7" r="1.0"/><circle cx="177.6" cy="366.8" r="1.0"/><circle cx="201.9" cy="315.1" r="1.0"/><circle cx="155.0" cy="335.2" r="0.9"/><circle cx="159.9" cy="315.6" r="0.7"/><circle cx="183.9" cy="359.7" r="1.2"/><circle cx="172.5" cy="291.6" r="1.0"/><circle cx="171.0" cy="347.2" r="0.5"/><circle cx="147.9" cy="357.1" r="1.4"/><circle cx="131.5" cy="316.9" r="0.5"/><circle cx="194.2" cy="315.9" r="0.5"/><circle cx="160.4" cy="350.9" r="0.6"/><circle cx="146.0" cy="360.6" r="0.5"/><circle cx="159.4" cy="326.7" r="0.8"/><circle cx="180.6" cy="337.8" r="0.7"/><circle cx="142.8" cy="313.0" r="1.9"/><circle cx="136.0" cy="343.5" r="0.5"/><circle cx="137.3" cy="355.5" r="0.8"/><circle cx="144.6" cy="347.5" r="0.9"/><circle cx="203.7" cy="312.0" r="0.7"/><circle cx="176.3" cy="351.7" r="0.5"/><circle cx="192.7" cy="325.5" r="0.7"/><circle cx="142.2" cy="348.4" r="1.2"/><circle cx="148.0" cy="349.0" r="1.4"/><circle cx="166.8" cy="328.9" r="0.6"/><circle cx="195.2" cy="302.2" r="0.6"/><circle cx="196.0" cy="351.7" r="0.5"/><circle cx="176.5" cy="345.4" r="0.5"/><circle cx="151.4" cy="335.8" r="1.1"/><circle cx="185.4" cy="319.6" r="0.7"/><circle cx="165.1" cy="348.7" r="1.3"/><circle cx="175.1" cy="320.2" r="0.6"/><circle cx="173.0" cy="336.1" r="0.7"/><circle cx="145.9" cy="339.7" r="0.9"/><circle cx="131.3" cy="322.8" r="1.0"/><circle cx="186.9" cy="346.6" r="1.1"/><circle cx="142.1" cy="303.7" r="0.7"/><circle cx="164.6" cy="300.4" r="1.4"/><circle cx="141.1" cy="297.0" r="0.6"/><circle cx="143.9" cy="340.5" r="0.7"/><circle cx="175.8" cy="312.1" r="0.6"/><circle cx="174.4" cy="356.2" r="0.5"/><circle cx="169.6" cy="299.1" r="0.5"/><circle cx="170.2" cy="333.9" r="1.2"/><circle cx="193.1" cy="303.6" r="1.5"/><circle cx="153.1" cy="328.7" r="1.1"/><circle cx="195.6" cy="343.4" r="0.6"/><circle cx="141.5" cy="305.5" r="0.5"/><circle cx="160.7" cy="364.2" r="1.4"/><circle cx="185.2" cy="362.0" r="0.8"/><circle cx="134.5" cy="334.1" r="0.7"/><circle cx="199.0" cy="335.6" r="1.0"/><circle cx="181.0" cy="325.3" r="1.3"/><circle cx="200.6" cy="333.5" r="0.7"/><circle cx="205.6" cy="327.2" r="1.4"/><circle cx="186.5" cy="352.7" r="1.1"/><circle cx="177.1" cy="365.4" r="1.2"/><circle cx="126.9" cy="327.9" r="1.1"/><circle cx="201.8" cy="309.0" r="1.0"/><circle cx="170.9" cy="322.6" r="1.2"/><circle cx="137.0" cy="330.5" r="0.7"/><circle cx="169.1" cy="366.1" r="0.6"/><circle cx="153.2" cy="292.1" r="0.6"/><circle cx="180.8" cy="309.5" r="1.0"/><circle cx="149.3" cy="348.8" r="0.9"/><circle cx="156.9" cy="358.2" r="1.1"/><circle cx="178.6" cy="350.2" r="1.8"/><circle cx="154.3" cy="299.6" r="0.9"/><circle cx="201.5" cy="327.1" r="0.6"/><circle cx="157.4" cy="363.9" r="0.5"/><circle cx="175.9" cy="356.2" r="0.5"/><circle cx="164.6" cy="323.8" r="0.5"/><circle cx="199.5" cy="321.0" r="0.9"/><circle cx="170.6" cy="351.8" r="0.6"/><circle cx="129.3" cy="344.1" r="0.6"/><circle cx="132.0" cy="346.7" r="0.5"/><circle cx="138.9" cy="311.9" r="0.5"/><circle cx="141.7" cy="338.8" r="0.7"/><circle cx="139.0" cy="301.4" r="0.6"/><circle cx="156.7" cy="313.9" r="1.2"/><circle cx="176.2" cy="332.8" r="0.6"/><circle cx="153.3" cy="309.9" r="1.2"/><circle cx="157.8" cy="332.2" r="1.2"/><circle cx="197.6" cy="302.9" r="1.0"/><circle cx="165.9" cy="343.3" r="0.5"/><circle cx="150.3" cy="297.6" r="0.8"/><circle cx="189.4" cy="300.0" r="0.7"/><circle cx="178.0" cy="353.3" r="0.5"/><circle cx="147.9" cy="336.8" r="1.1"/><circle cx="179.3" cy="297.5" r="0.5"/><circle cx="200.8" cy="340.7" r="0.5"/><circle cx="165.6" cy="334.9" r="1.0"/><circle cx="153.1" cy="359.4" r="1.0"/><circle cx="186.4" cy="326.8" r="1.0"/><circle cx="197.0" cy="333.8" r="0.5"/><circle cx="137.3" cy="303.6" r="1.0"/><circle cx="192.0" cy="321.2" r="1.3"/><circle cx="182.3" cy="337.9" r="1.3"/><circle cx="175.7" cy="364.2" r="1.1"/><circle cx="158.1" cy="362.3" r="0.6"/><circle cx="128.9" cy="318.0" r="0.6"/><circle cx="132.7" cy="329.9" r="1.2"/><circle cx="139.1" cy="326.4" r="0.5"/><circle cx="151.1" cy="362.9" r="1.1"/><circle cx="184.8" cy="295.2" r="0.5"/><circle cx="163.9" cy="291.3" r="1.2"/><circle cx="201.2" cy="344.0" r="0.9"/><circle cx="142.3" cy="349.0" r="0.5"/><circle cx="140.3" cy="357.9" r="0.5"/><circle cx="145.4" cy="300.0" r="0.6"/><circle cx="168.1" cy="343.2" r="0.8"/><circle cx="202.8" cy="331.7" r="1.4"/><circle cx="156.3" cy="328.9" r="0.8"/><circle cx="181.9" cy="319.4" r="1.0"/><circle cx="168.5" cy="324.0" r="1.2"/><circle cx="143.7" cy="357.7" r="0.5"/><circle cx="125.5" cy="325.5" r="0.5"/><circle cx="159.7" cy="341.7" r="0.7"/><circle cx="186.8" cy="304.8" r="1.5"/><circle cx="149.0" cy="296.2" r="1.0"/><circle cx="190.7" cy="359.6" r="0.6"/><circle cx="173.8" cy="349.7" r="0.7"/><circle cx="140.0" cy="356.2" r="0.7"/><circle cx="147.3" cy="339.7" r="0.6"/><circle cx="173.5" cy="293.0" r="0.5"/><circle cx="161.8" cy="337.8" r="0.6"/><circle cx="194.8" cy="349.2" r="0.6"/><circle cx="187.3" cy="337.3" r="0.5"/><circle cx="172.6" cy="346.5" r="0.6"/><circle cx="190.9" cy="316.9" r="0.7"/><circle cx="137.6" cy="339.8" r="1.1"/><circle cx="162.3" cy="369.1" r="0.5"/><circle cx="148.8" cy="325.5" r="1.5"/><circle cx="160.6" cy="363.3" r="0.6"/><circle cx="177.6" cy="348.4" r="0.5"/><circle cx="127.1" cy="328.3" r="0.5"/><circle cx="189.4" cy="357.1" r="1.3"/><circle cx="134.2" cy="355.3" r="0.5"/><circle cx="135.9" cy="340.6" r="0.9"/><circle cx="140.5" cy="341.3" r="0.8"/><circle cx="196.9" cy="313.9" r="0.5"/><circle cx="138.6" cy="351.8" r="1.0"/><circle cx="194.1" cy="349.3" r="0.5"/><circle cx="170.5" cy="366.5" r="2.3"/><circle cx="138.3" cy="302.3" r="0.8"/><circle cx="166.6" cy="346.3" r="0.6"/><circle cx="186.3" cy="358.9" r="0.9"/><circle cx="166.2" cy="292.6" r="0.9"/><circle cx="129.6" cy="326.8" r="0.8"/><circle cx="183.9" cy="342.6" r="0.6"/><circle cx="162.6" cy="349.6" r="0.8"/><circle cx="166.9" cy="328.6" r="1.2"/><circle cx="155.4" cy="366.0" r="0.5"/><circle cx="160.3" cy="357.4" r="0.6"/><circle cx="138.2" cy="318.8" r="0.9"/><circle cx="182.4" cy="353.7" r="0.5"/><circle cx="170.6" cy="291.0" r="1.1"/><circle cx="150.7" cy="328.6" r="0.5"/><circle cx="167.6" cy="297.0" r="0.6"/><circle cx="179.1" cy="312.6" r="1.4"/><circle cx="147.2" cy="299.1" r="0.7"/><circle cx="145.7" cy="356.3" r="0.6"/></g>
<circle cx="265.0" cy="328.6" r="46.7" fill="#b8b3bc"/>
<circle cx="265.0" cy="328.6" r="46.0" fill="#f6f5f8"/>
<circle cx="265.0" cy="328.6" r="44.6" fill="none" stroke="#d4d0d8" stroke-width="0.6"/>
<circle cx="265.0" cy="328.6" r="43.0" fill="#bcb7c2"/>
<circle cx="265.0" cy="328.6" r="42.3" fill="url(#wellg)"/>
<circle cx="265.0" cy="328.6" r="42.3" fill="url(#wellp)"/>
<ellipse cx="250.0" cy="333.6" rx="20" ry="30" fill="url(#tint)" opacity="0.6"/>
<g fill="#2c36a2" filter="url(#dblur)"><circle cx="281.3" cy="361.5" r="0.6"/><circle cx="278.3" cy="364.7" r="1.1"/><circle cx="245.1" cy="324.4" r="0.6"/><circle cx="228.6" cy="347.0" r="1.1"/><circle cx="230.2" cy="318.3" r="1.1"/><circle cx="231.8" cy="350.2" r="0.6"/><circle cx="246.3" cy="352.2" r="0.6"/><circle cx="255.3" cy="289.7" r="0.6"/><circle cx="297.3" cy="320.6" r="1.4"/><circle cx="258.6" cy="340.7" r="0.9"/><circle cx="286.5" cy="361.0" r="1.3"/><circle cx="283.6" cy="297.3" r="0.7"/><circle cx="267.3" cy="367.1" r="0.6"/><circle cx="241.5" cy="341.8" r="1.1"/><circle cx="271.3" cy="338.1" r="0.6"/><circle cx="278.2" cy="365.4" r="0.6"/><circle cx="230.6" cy="319.5" r="1.3"/><circle cx="279.7" cy="326.9" r="1.5"/><circle cx="294.5" cy="320.5" r="1.1"/><circle cx="285.0" cy="355.9" r="0.7"/><circle cx="226.3" cy="327.5" r="1.0"/><circle cx="276.1" cy="293.1" r="0.6"/><circle cx="280.9" cy="354.7" r="0.7"/><circle cx="293.9" cy="323.5" r="0.6"/><circle cx="281.3" cy="295.1" r="0.6"/><circle cx="267.4" cy="291.9" r="1.0"/><circle cx="285.2" cy="320.9" r="0.7"/><circle cx="293.9" cy="329.1" r="1.1"/><circle cx="302.8" cy="342.2" r="1.0"/><circle cx="271.9" cy="325.2" r="1.0"/><circle cx="254.2" cy="312.7" r="1.0"/><circle cx="270.9" cy="292.7" r="0.6"/><circle cx="298.1" cy="346.2" r="0.6"/><circle cx="274.0" cy="344.0" r="1.0"/><circle cx="256.4" cy="341.6" r="1.1"/><circle cx="301.1" cy="326.7" r="0.6"/><circle cx="282.2" cy="337.9" r="1.7"/><circle cx="266.7" cy="311.3" r="0.6"/><circle cx="248.0" cy="338.5" r="0.6"/><circle cx="273.7" cy="329.1" r="0.8"/><circle cx="304.6" cy="330.5" r="0.8"/><circle cx="232.3" cy="351.7" r="0.6"/><circle cx="244.8" cy="362.7" r="1.4"/><circle cx="298.5" cy="349.5" r="1.1"/><circle cx="242.3" cy="307.8" r="1.2"/><circle cx="243.4" cy="354.7" r="0.6"/><circle cx="231.7" cy="307.5" r="0.9"/><circle cx="260.2" cy="310.2" r="1.1"/><circle cx="259.3" cy="330.9" r="0.7"/><circle cx="254.4" cy="291.2" r="1.0"/><circle cx="293.7" cy="330.8" r="0.6"/><circle cx="233.0" cy="342.7" r="0.6"/><circle cx="286.5" cy="356.0" r="0.6"/><circle cx="237.3" cy="344.3" r="1.2"/><circle cx="286.2" cy="294.3" r="0.9"/><circle cx="253.2" cy="327.0" r="0.7"/><circle cx="291.7" cy="356.9" r="1.3"/><circle cx="228.0" cy="325.8" r="1.1"/><circle cx="292.7" cy="314.0" r="0.6"/><circle cx="247.8" cy="300.4" r="0.6"/><circle cx="272.9" cy="350.4" r="1.6"/><circle cx="280.8" cy="319.2" r="1.0"/><circle cx="290.7" cy="340.2" r="0.7"/><circle cx="237.9" cy="357.2" r="0.8"/><circle cx="226.8" cy="335.0" r="0.6"/><circle cx="286.2" cy="316.0" r="1.1"/><circle cx="299.6" cy="313.5" r="0.6"/><circle cx="264.0" cy="357.7" r="1.3"/><circle cx="299.6" cy="335.2" r="0.6"/><circle cx="288.1" cy="299.7" r="0.7"/><circle cx="271.8" cy="354.6" r="0.7"/><circle cx="275.9" cy="363.8" r="0.7"/><circle cx="249.4" cy="337.9" r="1.4"/><circle cx="276.6" cy="343.8" r="0.6"/><circle cx="271.8" cy="303.1" r="1.4"/><circle cx="250.6" cy="343.6" r="0.6"/><circle cx="258.1" cy="306.6" r="1.1"/><circle cx="278.2" cy="322.1" r="0.6"/><circle cx="247.5" cy="361.4" r="1.2"/><circle cx="257.7" cy="350.5" r="0.7"/><circle cx="245.0" cy="332.9" r="0.6"/><circle cx="287.8" cy="321.8" r="0.7"/><circle cx="288.2" cy="298.7" r="1.0"/><circle cx="225.6" cy="320.1" r="1.4"/><circle cx="296.8" cy="321.0" r="0.6"/><circle cx="244.1" cy="320.8" r="0.8"/><circle cx="279.7" cy="366.6" r="0.6"/><circle cx="256.3" cy="347.8" r="0.6"/><circle cx="226.1" cy="316.5" r="1.1"/><circle cx="256.5" cy="298.1" r="0.6"/><circle cx="241.4" cy="331.0" r="0.7"/><circle cx="260.3" cy="310.9" r="0.6"/><circle cx="294.2" cy="334.2" r="0.9"/><circle cx="270.7" cy="296.2" r="0.6"/><circle cx="275.1" cy="368.8" r="0.7"/><circle cx="302.2" cy="327.2" r="0.6"/><circle cx="289.6" cy="328.6" r="0.6"/><circle cx="231.3" cy="345.1" r="0.7"/><circle cx="251.2" cy="292.1" r="1.5"/><circle cx="286.1" cy="311.9" r="1.0"/><circle cx="296.1" cy="349.7" r="0.6"/><circle cx="273.2" cy="299.8" r="1.1"/><circle cx="257.6" cy="352.5" r="0.7"/><circle cx="248.3" cy="295.6" r="1.4"/><circle cx="258.3" cy="337.6" r="0.9"/><circle cx="268.1" cy="367.6" r="0.9"/><circle cx="264.1" cy="327.0" r="1.2"/><circle cx="227.4" cy="332.4" r="0.7"/><circle cx="302.7" cy="317.6" r="0.7"/><circle cx="296.9" cy="302.5" r="0.6"/><circle cx="243.0" cy="323.6" r="0.6"/><circle cx="250.1" cy="361.9" r="0.6"/><circle cx="275.2" cy="312.9" r="0.7"/><circle cx="261.9" cy="312.4" r="0.6"/><circle cx="263.4" cy="299.6" r="0.6"/><circle cx="278.9" cy="334.9" r="1.4"/><circle cx="247.0" cy="332.4" r="0.6"/><circle cx="284.0" cy="346.1" r="1.6"/><circle cx="241.5" cy="295.2" r="0.7"/><circle cx="280.4" cy="344.7" r="0.7"/><circle cx="286.9" cy="299.6" r="0.8"/><circle cx="241.8" cy="358.3" r="1.2"/><circle cx="235.0" cy="351.0" r="0.6"/><circle cx="298.7" cy="315.7" r="0.6"/><circle cx="253.3" cy="363.5" r="0.6"/><circle cx="263.1" cy="343.8" r="1.0"/><circle cx="231.3" cy="343.4" r="1.1"/><circle cx="225.7" cy="338.4" r="0.6"/><circle cx="265.4" cy="294.9" r="0.6"/><circle cx="278.4" cy="353.1" r="1.3"/><circle cx="294.1" cy="320.1" r="0.9"/><circle cx="251.7" cy="299.2" r="1.2"/><circle cx="229.6" cy="342.5" r="1.1"/><circle cx="272.9" cy="339.6" r="0.8"/><circle cx="267.3" cy="313.7" r="0.7"/><circle cx="269.0" cy="343.4" r="1.2"/><circle cx="287.3" cy="340.2" r="0.6"/><circle cx="293.1" cy="343.4" r="1.3"/><circle cx="290.5" cy="315.8" r="0.6"/><circle cx="250.2" cy="367.0" r="1.2"/><circle cx="241.5" cy="339.6" r="0.7"/><circle cx="282.8" cy="339.1" r="0.6"/><circle cx="233.5" cy="307.1" r="1.5"/><circle cx="238.6" cy="299.8" r="0.6"/><circle cx="230.5" cy="319.3" r="1.4"/><circle cx="280.4" cy="327.3" r="0.6"/><circle cx="281.9" cy="337.6" r="0.6"/><circle cx="298.2" cy="312.8" r="0.6"/><circle cx="301.1" cy="346.7" r="0.7"/><circle cx="274.3" cy="308.4" r="0.9"/><circle cx="299.2" cy="340.5" r="1.3"/><circle cx="251.7" cy="353.7" r="0.6"/><circle cx="233.7" cy="343.2" r="1.2"/><circle cx="289.9" cy="319.6" r="0.7"/><circle cx="252.1" cy="289.7" r="1.1"/><circle cx="259.9" cy="292.6" r="1.2"/><circle cx="298.5" cy="313.0" r="0.7"/><circle cx="241.4" cy="359.0" r="0.6"/><circle cx="253.4" cy="303.5" r="0.6"/><circle cx="270.9" cy="296.4" r="0.6"/></g>
</g>
<rect x="17.4" y="184.7" width="296.3" height="191.4" fill="none" stroke="#444" stroke-width="1"/>
<text x="333.6" y="191.7" font-size="15" font-weight="bold" text-anchor="start" font-family="'Liberation Serif', 'Times New Roman', serif" fill="#000" letter-spacing="0.9">(e)</text>
<text x="418" y="202.4" font-size="15.4" font-weight="bold" text-anchor="middle" font-family="'Liberation Sans', Arial, sans-serif" fill="#111"  stroke="#111" stroke-width="0.3">U87</text>
<rect x="366.8" y="208.1" width="109.0" height="116.9" fill="none" stroke="#111" stroke-width="1.2"/>
<line x1="363.8" y1="325" x2="366.8" y2="325" stroke="#111" stroke-width="1"/>
<text x="363.4" y="328" font-size="8.4" font-weight="bold" text-anchor="end" font-family="'Liberation Sans', Arial, sans-serif" fill="#111"  stroke="#111" stroke-width="0.18">0</text>
<line x1="363.8" y1="301.6" x2="366.8" y2="301.6" stroke="#111" stroke-width="1"/>
<text x="363.4" y="304.6" font-size="8.4" font-weight="bold" text-anchor="end" font-family="'Liberation Sans', Arial, sans-serif" fill="#111"  stroke="#111" stroke-width="0.18">50</text>
<line x1="363.8" y1="278.2" x2="366.8" y2="278.2" stroke="#111" stroke-width="1"/>
<text x="363.4" y="281.2" font-size="8.4" font-weight="bold" text-anchor="end" font-family="'Liberation Sans', Arial, sans-serif" fill="#111"  stroke="#111" stroke-width="0.18">100</text>
<line x1="363.8" y1="254.9" x2="366.8" y2="254.9" stroke="#111" stroke-width="1"/>
<text x="363.4" y="257.9" font-size="8.4" font-weight="bold" text-anchor="end" font-family="'Liberation Sans', Arial, sans-serif" fill="#111"  stroke="#111" stroke-width="0.18">150</text>
<line x1="363.8" y1="231.5" x2="366.8" y2="231.5" stroke="#111" stroke-width="1"/>
<text x="363.4" y="234.5" font-size="8.4" font-weight="bold" text-anchor="end" font-family="'Liberation Sans', Arial, sans-serif" fill="#111"  stroke="#111" stroke-width="0.18">200</text>
<line x1="363.8" y1="208.1" x2="366.8" y2="208.1" stroke="#111" stroke-width="1"/>
<text x="363.4" y="211.1" font-size="8.4" font-weight="bold" text-anchor="end" font-family="'Liberation Sans', Arial, sans-serif" fill="#111"  stroke="#111" stroke-width="0.18">250</text>
<text transform="translate(342.5,267.1) rotate(-90)" font-size="9.4" font-weight="bold" text-anchor="middle" font-family="'Liberation Sans', Arial, sans-serif" fill="#111" stroke="#111" stroke-width="0.3">Colony number</text>
<rect x="381" y="231.5" width="20" height="93.5" fill="none" stroke="#2f5aa8" stroke-width="1.7"/>
<line x1="391" y1="325.0" x2="391" y2="327.8" stroke="#111" stroke-width="1"/>
<text x="391" y="339.8" font-size="8.2" font-weight="bold" text-anchor="middle" font-family="'Liberation Sans', Arial, sans-serif" fill="#111"  stroke="#111" stroke-width="0.18">PBS</text>
<rect x="412.5" y="306.6" width="20.0" height="18.4" fill="none" stroke="#5536a2" stroke-width="1.7"/>
<line x1="422.5" y1="325.0" x2="422.5" y2="327.8" stroke="#111" stroke-width="1"/>
<text x="422.5" y="339.8" font-size="8.2" font-weight="bold" text-anchor="middle" font-family="'Liberation Sans', Arial, sans-serif" fill="#111"  stroke="#111" stroke-width="0.18">50µM</text>
<rect x="444" y="309.3" width="20" height="15.7" fill="none" stroke="#a02ea6" stroke-width="1.7"/>
<line x1="454" y1="325.0" x2="454" y2="327.8" stroke="#111" stroke-width="1"/>
<text x="454" y="339.8" font-size="8.2" font-weight="bold" text-anchor="middle" font-family="'Liberation Sans', Arial, sans-serif" fill="#111"  stroke="#111" stroke-width="0.18">100µM</text>
<circle cx="386.5" cy="225.2" r="2.2" fill="#fff" stroke="#2f5aa8" stroke-width="1"/>
<circle cx="395.7" cy="229.1" r="2.2" fill="#fff" stroke="#2f5aa8" stroke-width="1"/>
<circle cx="391" cy="240.4" r="2.2" fill="#fff" stroke="#2f5aa8" stroke-width="1"/>
<rect x="415.7" y="300.7" width="4" height="4" fill="none" stroke="#5536a2" stroke-width="1"/>
<rect x="415.7" y="307.3" width="4" height="4" fill="none" stroke="#5536a2" stroke-width="1"/>
<rect x="425.2" y="303.8" width="4" height="4" fill="none" stroke="#5536a2" stroke-width="1"/>
<path d="M446.1 308.70000000000005 L448.5 312.90000000000003 L443.70000000000005 312.90000000000003 Z" fill="none" stroke="#a02ea6" stroke-width="1"/>
<path d="M454 303.40000000000003 L456.4 307.6 L451.6 307.6 Z" fill="none" stroke="#a02ea6" stroke-width="1"/>
<path d="M461.9 306.90000000000003 L464.29999999999995 311.1 L459.5 311.1 Z" fill="none" stroke="#a02ea6" stroke-width="1"/>
<text x="423.2" y="304.6" font-size="12.5" font-weight="bold" text-anchor="middle" font-family="'Liberation Sans', Arial, sans-serif" fill="#111" letter-spacing="1.4" stroke="#111" stroke-width="0.3">***</text>
<text x="454.7" y="306.7" font-size="12.5" font-weight="bold" text-anchor="middle" font-family="'Liberation Sans', Arial, sans-serif" fill="#111" letter-spacing="1.4" stroke="#111" stroke-width="0.3">***</text>
<text x="415.9" y="354.3" font-size="8.7" font-weight="bold" text-anchor="middle" font-family="'Liberation Sans', Arial, sans-serif" fill="#111"  stroke="#111" stroke-width="0.18">Lpo@THP Concentration (µM)</text>
<path d="M391 224 V240 M388.5 224 H393.5 M388.5 240 H393.5" stroke="#3a62ac" stroke-width="0.8" fill="none"/>
<text x="503" y="194" font-size="15" font-weight="bold" text-anchor="start" font-family="'Liberation Serif', 'Times New Roman', serif" fill="#000" letter-spacing="0.9">(f)</text>
<text x="598.8" y="202.4" font-size="15.4" font-weight="bold" text-anchor="middle" font-family="'Liberation Sans', Arial, sans-serif" fill="#111"  stroke="#111" stroke-width="0.3">GL261</text>
<rect x="545.9" y="208.6" width="104.5" height="116.70000000000002" fill="none" stroke="#111" stroke-width="1.2"/>
<line x1="542.9" y1="325.3" x2="545.9" y2="325.3" stroke="#111" stroke-width="1"/>
<text x="542.5" y="328.3" font-size="8.4" font-weight="bold" text-anchor="end" font-family="'Liberation Sans', Arial, sans-serif" fill="#111"  stroke="#111" stroke-width="0.18">0</text>
<line x1="542.9" y1="286.4" x2="545.9" y2="286.4" stroke="#111" stroke-width="1"/>
<text x="542.5" y="289.4" font-size="8.4" font-weight="bold" text-anchor="end" font-family="'Liberation Sans', Arial, sans-serif" fill="#111"  stroke="#111" stroke-width="0.18">100</text>
<line x1="542.9" y1="247.5" x2="545.9" y2="247.5" stroke="#111" stroke-width="1"/>
<text x="542.5" y="250.5" font-size="8.4" font-weight="bold" text-anchor="end" font-family="'Liberation Sans', Arial, sans-serif" fill="#111"  stroke="#111" stroke-width="0.18">200</text>
<line x1="542.9" y1="208.6" x2="545.9" y2="208.6" stroke="#111" stroke-width="1"/>
<text x="542.5" y="211.6" font-size="8.4" font-weight="bold" text-anchor="end" font-family="'Liberation Sans', Arial, sans-serif" fill="#111"  stroke="#111" stroke-width="0.18">300</text>
<text transform="translate(519.2,267.4) rotate(-90)" font-size="9.4" font-weight="bold" text-anchor="middle" font-family="'Liberation Sans', Arial, sans-serif" fill="#111" stroke="#111" stroke-width="0.3">Colony number</text>
<rect x="556.7" y="238.2" width="20.299999999999955" height="87.1" fill="none" stroke="#2f5aa8" stroke-width="1.7"/>
<line x1="566.9" y1="325.3" x2="566.9" y2="328.1" stroke="#111" stroke-width="1"/>
<text x="566.9" y="339.8" font-size="8.2" font-weight="bold" text-anchor="middle" font-family="'Liberation Sans', Arial, sans-serif" fill="#111"  stroke="#111" stroke-width="0.18">PBS</text>
<rect x="588.6" y="299.1" width="19.399999999999977" height="26.2" fill="none" stroke="#5536a2" stroke-width="1.7"/>
<line x1="598.3" y1="325.3" x2="598.3" y2="328.1" stroke="#111" stroke-width="1"/>
<text x="598.3" y="339.8" font-size="8.2" font-weight="bold" text-anchor="middle" font-family="'Liberation Sans', Arial, sans-serif" fill="#111"  stroke="#111" stroke-width="0.18">50µM</text>
<rect x="620.2" y="311.3" width="19.399999999999977" height="14" fill="none" stroke="#a02ea6" stroke-width="1.7"/>
<line x1="629.9" y1="325.3" x2="629.9" y2="328.1" stroke="#111" stroke-width="1"/>
<text x="629.9" y="339.8" font-size="8.2" font-weight="bold" text-anchor="middle" font-family="'Liberation Sans', Arial, sans-serif" fill="#111"  stroke="#111" stroke-width="0.18">100µM</text>
<circle cx="566.7" cy="226.7" r="2.2" fill="#fff" stroke="#2f5aa8" stroke-width="1"/>
<circle cx="566.7" cy="234.3" r="2.2" fill="#fff" stroke="#2f5aa8" stroke-width="1"/>
<circle cx="566.7" cy="253.2" r="2.2" fill="#fff" stroke="#2f5aa8" stroke-width="1"/>
<rect x="591.2" y="299.2" width="4" height="4" fill="none" stroke="#5536a2" stroke-width="1"/>
<rect x="596" y="292.8" width="4" height="4" fill="none" stroke="#5536a2" stroke-width="1"/>
<rect x="601.2" y="298.2" width="4" height="4" fill="none" stroke="#5536a2" stroke-width="1"/>
<path d="M624.8 304.8 L627.1999999999999 309.0 L622.4 309.0 Z" fill="none" stroke="#a02ea6" stroke-width="1"/>
<path d="M629.6 313.40000000000003 L632.0 317.6 L627.2 317.6 Z" fill="none" stroke="#a02ea6" stroke-width="1"/>
<path d="M634.2 308.0 L636.6 312.2 L631.8000000000001 312.2 Z" fill="none" stroke="#a02ea6" stroke-width="1"/>
<text x="598.7" y="296" font-size="12.5" font-weight="bold" text-anchor="middle" font-family="'Liberation Sans', Arial, sans-serif" fill="#111" letter-spacing="1.4" stroke="#111" stroke-width="0.3">***</text>
<text x="630.7" y="307.6" font-size="12.5" font-weight="bold" text-anchor="middle" font-family="'Liberation Sans', Arial, sans-serif" fill="#111" letter-spacing="1.4" stroke="#111" stroke-width="0.3">***</text>
<text x="598" y="354.3" font-size="8.7" font-weight="bold" text-anchor="middle" font-family="'Liberation Sans', Arial, sans-serif" fill="#111"  stroke="#111" stroke-width="0.18">Lpo@THP Concentration (µM)</text>
<text x="0" y="398.6" font-size="15" font-weight="bold" text-anchor="start" font-family="'Liberation Serif', 'Times New Roman', serif" fill="#000" letter-spacing="0.9">(g)</text>
<line x1="22" y1="395.5" x2="345" y2="395.5" stroke="#111" stroke-width="1.3"/>
<text x="181.4" y="391.4" font-size="12.5" font-weight="bold" text-anchor="middle" font-family="'Liberation Sans', Arial, sans-serif" fill="#111"  stroke="#111" stroke-width="0.3">U87</text>
<text x="70" y="413" font-size="15.0" font-weight="bold" text-anchor="middle" font-family="'Liberation Sans', Arial, sans-serif" fill="#111"  stroke="#111" stroke-width="0.3">0h</text>
<text x="180.2" y="413" font-size="15.0" font-weight="bold" text-anchor="middle" font-family="'Liberation Sans', Arial, sans-serif" fill="#111"  stroke="#111" stroke-width="0.3">24h</text>
<text x="288" y="413" font-size="15.0" font-weight="bold" text-anchor="middle" font-family="'Liberation Sans', Arial, sans-serif" fill="#111"  stroke="#111" stroke-width="0.3">48h</text>
<text x="348" y="399.8" font-size="15" font-weight="bold" text-anchor="start" font-family="'Liberation Serif', 'Times New Roman', serif" fill="#000" letter-spacing="0.9">(h)</text>
<line x1="367.6" y1="395.0" x2="683" y2="395.0" stroke="#111" stroke-width="1.3"/>
<text x="526.5" y="390.9" font-size="12.5" font-weight="bold" text-anchor="middle" font-family="'Liberation Sans', Arial, sans-serif" fill="#111"  stroke="#111" stroke-width="0.3">GL261</text>
<text x="416.5" y="413" font-size="15.0" font-weight="bold" text-anchor="middle" font-family="'Liberation Sans', Arial, sans-serif" fill="#111"  stroke="#111" stroke-width="0.3">0h</text>
<text x="526.2" y="413" font-size="15.0" font-weight="bold" text-anchor="middle" font-family="'Liberation Sans', Arial, sans-serif" fill="#111"  stroke="#111" stroke-width="0.3">24h</text>
<text x="634.3" y="413" font-size="15.0" font-weight="bold" text-anchor="middle" font-family="'Liberation Sans', Arial, sans-serif" fill="#111"  stroke="#111" stroke-width="0.3">48h</text>
<text transform="translate(15.2,465.8) rotate(-90)" font-size="12.2" font-weight="bold" text-anchor="middle" font-family="'Liberation Sans', Arial, sans-serif" fill="#111" stroke="#111" stroke-width="0.3">PBS</text>
<text transform="translate(361.2,465.8) rotate(-90)" font-size="12.2" font-weight="bold" text-anchor="middle" font-family="'Liberation Sans', Arial, sans-serif" fill="#111" stroke="#111" stroke-width="0.3">PBS</text>
<text transform="translate(15.2,567.9) rotate(-90)" font-size="13.1" font-weight="bold" text-anchor="middle" font-family="'Liberation Sans', Arial, sans-serif" fill="#111" stroke="#111" stroke-width="0.3">Lpo@THP</text>
<text transform="translate(361.2,567.9) rotate(-90)" font-size="13.1" font-weight="bold" text-anchor="middle" font-family="'Liberation Sans', Arial, sans-serif" fill="#111" stroke="#111" stroke-width="0.3">Lpo@THP</text>
<g clip-path="url(#cp0)">
<rect x="19.4" y="415.2" width="104" height="103.3" filter="url(#tx0)"/>
<rect x="56.5" y="409.2" width="29" height="115.3" fill="url(#sg0)" filter="url(#sd0)"/>
<rect x="19.4" y="415.2" width="104" height="103.3" fill="url(#gg0)"/>

<text x="20.2" y="419.4" font-size="4.2" font-weight="bold" font-family="'Liberation Sans', Arial, sans-serif" fill="#000">bC</text>
<rect x="117" y="501.7" width="5" height="1.1" fill="#d24545"/>
</g>
<g clip-path="url(#cp1)">
<rect x="127.6" y="415.2" width="103.7" height="103.3" filter="url(#tx1)"/>
<rect x="166.5" y="409.2" width="27" height="115.3" fill="url(#sg1)" filter="url(#sd1)"/>
<rect x="127.6" y="415.2" width="103.7" height="103.3" fill="url(#gg1)"/>

<text x="128.4" y="419.4" font-size="4.2" font-weight="bold" font-family="'Liberation Sans', Arial, sans-serif" fill="#000">bC</text>
<rect x="224.9" y="501.7" width="5" height="1.1" fill="#d24545"/>
</g>
<g clip-path="url(#cp2)">
<rect x="235.5" y="415.2" width="104.1" height="103.3" filter="url(#tx2)"/>
<rect x="278.5" y="409.2" width="25" height="115.3" fill="url(#sg2)" filter="url(#sd2)"/>
<rect x="235.5" y="415.2" width="104.1" height="103.3" fill="url(#gg2)"/>

<text x="236.3" y="419.4" font-size="4.2" font-weight="bold" font-family="'Liberation Sans', Arial, sans-serif" fill="#000">bC</text>
<rect x="333.2" y="501.7" width="5" height="1.1" fill="#d24545"/>
</g>
<g clip-path="url(#cp3)">
<rect x="19.4" y="522.0" width="104" height="103.4" filter="url(#tx3)"/>
<rect x="57.5" y="516" width="29" height="115.4" fill="url(#sg3)" filter="url(#sd3)"/>
<rect x="19.4" y="522.0" width="104" height="103.4" fill="url(#gg3)"/>

<text x="20.2" y="526.2" font-size="4.2" font-weight="bold" font-family="'Liberation Sans', Arial, sans-serif" fill="#000">bC</text>
<rect x="117" y="608.5" width="5" height="1.1" fill="#d24545"/>
</g>
<g clip-path="url(#cp4)">
<rect x="127.6" y="522.0" width="103.7" height="103.4" filter="url(#tx4)"/>
<rect x="168.5" y="516" width="26" height="115.4" fill="url(#sg4)" filter="url(#sd4)"/>
<rect x="127.6" y="522.0" width="103.7" height="103.4" fill="url(#gg4)"/>

<text x="128.4" y="526.2" font-size="4.2" font-weight="bold" font-family="'Liberation Sans', Arial, sans-serif" fill="#000">bC</text>
<rect x="224.9" y="608.5" width="5" height="1.1" fill="#d24545"/>
</g>
<g clip-path="url(#cp5)">
<rect x="235.5" y="522.0" width="104.1" height="103.4" filter="url(#tx5)"/>
<rect x="268.5" y="516" width="35" height="115.4" fill="url(#sg5)" filter="url(#sd5)"/>
<rect x="235.5" y="522.0" width="104.1" height="103.4" fill="url(#gg5)"/>
<ellipse cx="248" cy="553" rx="22" ry="24" fill="url(#rdk)" opacity="1.2"/>
<text x="236.3" y="526.2" font-size="4.2" font-weight="bold" font-family="'Liberation Sans', Arial, sans-serif" fill="#000">bC</text>
<rect x="333.2" y="608.5" width="5" height="1.1" fill="#d24545"/>
</g>
<g clip-path="url(#cp6)">
<rect x="365.7" y="414.8" width="104.2" height="103.2" filter="url(#tx6)"/>
<rect x="401.5" y="408.8" width="28.5" height="115.2" fill="url(#sg6)" filter="url(#sd6)"/>
<rect x="365.7" y="414.8" width="104.2" height="103.2" fill="url(#gg6)"/>
<ellipse cx="447" cy="462" rx="22" ry="30" fill="url(#rdk)" opacity="1"/><ellipse cx="380" cy="470" rx="22" ry="40" fill="url(#rlt)" opacity="1"/>
<text x="366.5" y="419" font-size="4.2" font-weight="bold" font-family="'Liberation Sans', Arial, sans-serif" fill="#000">um</text>
<rect x="463.5" y="501.3" width="5" height="1.1" fill="#d24545"/>
</g>
<g clip-path="url(#cp7)">
<rect x="473.1" y="414.8" width="103.8" height="103.2" filter="url(#tx7)"/>
<rect x="513" y="408.8" width="23.5" height="115.2" fill="url(#sg7)" filter="url(#sd7)"/>
<rect x="473.1" y="414.8" width="103.8" height="103.2" fill="url(#gg7)"/>

<text x="473.9" y="419" font-size="4.2" font-weight="bold" font-family="'Liberation Sans', Arial, sans-serif" fill="#000"></text>
</g>
<g clip-path="url(#cp8)">
<rect x="580.4" y="414.8" width="105.1" height="103.2" filter="url(#tx8)"/>
<rect x="625" y="408.8" width="20.5" height="115.2" fill="url(#sg8)" filter="url(#sd8)"/>
<rect x="580.4" y="414.8" width="105.1" height="103.2" fill="url(#gg8)"/>
<ellipse cx="600" cy="455" rx="30" ry="50" fill="url(#rdk)" opacity="0.8"/>
<text x="581.2" y="419" font-size="4.2" font-weight="bold" font-family="'Liberation Sans', Arial, sans-serif" fill="#000"></text>
</g>
<g clip-path="url(#cp9)">
<rect x="365.7" y="521.8" width="104.2" height="103" filter="url(#tx9)"/>
<rect x="401.5" y="515.8" width="31" height="115" fill="url(#sg9)" filter="url(#sd9)"/>
<rect x="365.7" y="521.8" width="104.2" height="103" fill="url(#gg9)"/>
<ellipse cx="448" cy="565" rx="20" ry="28" fill="url(#rdk)" opacity="1"/><ellipse cx="380" cy="580" rx="22" ry="40" fill="url(#rlt)" opacity="1"/><circle cx="467" cy="606" r="1.5" fill="#111"/>
<text x="366.5" y="526" font-size="4.2" font-weight="bold" font-family="'Liberation Sans', Arial, sans-serif" fill="#000">um</text>
<rect x="463.5" y="608.3" width="5" height="1.1" fill="#d24545"/>
</g>
<g clip-path="url(#cp10)">
<rect x="473.1" y="521.8" width="103.8" height="103" filter="url(#tx10)"/>
<rect x="510.5" y="515.8" width="31" height="115" fill="url(#sg10)" filter="url(#sd10)"/>
<rect x="473.1" y="521.8" width="103.8" height="103" fill="url(#gg10)"/>
<ellipse cx="577" cy="522" rx="35" ry="30" fill="url(#rdk)" opacity="1.6"/><ellipse cx="495" cy="575" rx="25" ry="40" fill="url(#rlt)" opacity="1"/>
<text x="473.9" y="526" font-size="4.2" font-weight="bold" font-family="'Liberation Sans', Arial, sans-serif" fill="#000"></text>
</g>
<g clip-path="url(#cp11)">
<rect x="580.4" y="521.8" width="105.1" height="103" filter="url(#tx11)"/>
<rect x="619.5" y="515.8" width="29" height="115" fill="url(#sg11)" filter="url(#sd11)"/>
<rect x="580.4" y="521.8" width="105.1" height="103" fill="url(#gg11)"/>

<text x="581.2" y="526" font-size="4.2" font-weight="bold" font-family="'Liberation Sans', Arial, sans-serif" fill="#000"></text>
</g>
<defs><radialGradient id="rdk"><stop offset="0" stop-color="#000" stop-opacity="0.2"/><stop offset="1" stop-color="#000" stop-opacity="0"/></radialGradient><radialGradient id="rlt"><stop offset="0" stop-color="#fff" stop-opacity="0.22"/><stop offset="1" stop-color="#fff" stop-opacity="0"/></radialGradient><filter id="tx0" x="0" y="0" width="1" height="1" color-interpolation-filters="sRGB">
<feTurbulence type="fractalNoise" baseFrequency="0.6" numOctaves="2" seed="3" result="h0"/>
<feColorMatrix in="h0" type="matrix" values="1 0 0 0 0 1 0 0 0 0 1 0 0 0 0 0 0 0 0 1" result="h"/>
<feTurbulence type="fractalNoise" baseFrequency="0.07" numOctaves="2" seed="53" result="l0"/>
<feColorMatrix in="l0" type="matrix" values="1 0 0 0 0 1 0 0 0 0 1 0 0 0 0 0 0 0 0 1" result="l"/>
<feComposite in="h" in2="l" operator="arithmetic" k1="0" k2="1" k3="0.3" k4="-0.150" result="m"/>
<feColorMatrix in="m" type="matrix" values="0 0 0 0 0.22 0 0 0 0 0.22 0 0 0 0 0.22 -6 0 0 0 2.520" result="d0"/>
<feComponentTransfer in="d0" result="d"><feFuncA type="linear" slope="0.6"/></feComponentTransfer>
<feColorMatrix in="h" type="matrix" values="0.25 0 0 0 0.375 0.25 0 0 0 0.375 0.25 0 0 0 0.375 0 0 0 0 1" result="g"/>
<feColorMatrix in="h0" type="matrix" values="0 0 0 0 0.8 0 0 0 0 0.8 0 0 0 0 0.8 0 6 0 0 -3.840" result="w0"/>
<feComponentTransfer in="w0" result="w"><feFuncA type="linear" slope="0.55"/></feComponentTransfer>
<feMerge><feMergeNode in="g"/><feMergeNode in="w"/><feMergeNode in="d"/></feMerge>
<feGaussianBlur stdDeviation="0.55"/>
</filter>
<clipPath id="cp0"><rect x="19.4" y="415.2" width="104" height="103.3"/></clipPath><linearGradient id="sg0" x1="56.5" x2="85.5" y1="0" y2="0" gradientUnits="userSpaceOnUse">
<stop offset="0" stop-color="#8c8c8c" stop-opacity="0"/><stop offset="0.2" stop-color="#8c8c8c" stop-opacity="1.0"/>
<stop offset="0.8" stop-color="#8c8c8c" stop-opacity="1.0"/><stop offset="1" stop-color="#8c8c8c" stop-opacity="0"/></linearGradient><filter id="sd0" x="-0.5" y="0" width="2" height="1" color-interpolation-filters="sRGB">
<feTurbulence type="fractalNoise" baseFrequency="0.08 0.25" numOctaves="2" seed="10" result="t"/>
<feDisplacementMap in="SourceGraphic" in2="t" scale="22" xChannelSelector="R" yChannelSelector="G" result="dm"/>
<feGaussianBlur in="dm" stdDeviation="1.3"/>
</filter><linearGradient id="gg0" x1="0" x2="1" y1="0" y2="0"><stop offset="0" stop-color="#fff" stop-opacity="0.06"/><stop offset="0.5" stop-color="#fff" stop-opacity="0"/><stop offset="1" stop-color="#000" stop-opacity="0.2"/></linearGradient><filter id="tx1" x="0" y="0" width="1" height="1" color-interpolation-filters="sRGB">
<feTurbulence type="fractalNoise" baseFrequency="0.6" numOctaves="2" seed="5" result="h0"/>
<feColorMatrix in="h0" type="matrix" values="1 0 0 0 0 1 0 0 0 0 1 0 0 0 0 0 0 0 0 1" result="h"/>
<feTurbulence type="fractalNoise" baseFrequency="0.07" numOctaves="2" seed="55" result="l0"/>
<feColorMatrix in="l0" type="matrix" values="1 0 0 0 0 1 0 0 0 0 1 0 0 0 0 0 0 0 0 1" result="l"/>
<feComposite in="h" in2="l" operator="arithmetic" k1="0" k2="1" k3="0.3" k4="-0.150" result="m"/>
<feColorMatrix in="m" type="matrix" values="0 0 0 0 0.22 0 0 0 0 0.22 0 0 0 0 0.22 -6 0 0 0 2.520" result="d0"/>
<feComponentTransfer in="d0" result="d"><feFuncA type="linear" slope="0.6"/></feComponentTransfer>
<feColorMatrix in="h" type="matrix" values="0.25 0 0 0 0.385 0.25 0 0 0 0.385 0.25 0 0 0 0.385 0 0 0 0 1" result="g"/>
<feColorMatrix in="h0" type="matrix" values="0 0 0 0 0.8 0 0 0 0 0.8 0 0 0 0 0.8 0 6 0 0 -3.840" result="w0"/>
<feComponentTransfer in="w0" result="w"><feFuncA type="linear" slope="0.55"/></feComponentTransfer>
<feMerge><feMergeNode in="g"/><feMergeNode in="w"/><feMergeNode in="d"/></feMerge>
<feGaussianBlur stdDeviation="0.55"/>
</filter>
<clipPath id="cp1"><rect x="127.6" y="415.2" width="103.7" height="103.3"/></clipPath><linearGradient id="sg1" x1="166.5" x2="193.5" y1="0" y2="0" gradientUnits="userSpaceOnUse">
<stop offset="0" stop-color="#909090" stop-opacity="0"/><stop offset="0.3" stop-color="#909090" stop-opacity="0.7"/>
<stop offset="0.7" stop-color="#909090" stop-opacity="0.7"/><stop offset="1" stop-color="#909090" stop-opacity="0"/></linearGradient><filter id="sd1" x="-0.5" y="0" width="2" height="1" color-interpolation-filters="sRGB">
<feTurbulence type="fractalNoise" baseFrequency="0.08 0.25" numOctaves="2" seed="12" result="t"/>
<feDisplacementMap in="SourceGraphic" in2="t" scale="22" xChannelSelector="R" yChannelSelector="G" result="dm"/>
<feGaussianBlur in="dm" stdDeviation="1.3"/>
</filter><linearGradient id="gg1" x1="0" x2="1" y1="0" y2="0"><stop offset="0" stop-color="#fff" stop-opacity="0.08"/><stop offset="0.45" stop-color="#fff" stop-opacity="0"/><stop offset="0.7" stop-color="#000" stop-opacity="0.1"/><stop offset="1" stop-color="#000" stop-opacity="0.3"/></linearGradient><filter id="tx2" x="0" y="0" width="1" height="1" color-interpolation-filters="sRGB">
<feTurbulence type="fractalNoise" baseFrequency="0.65" numOctaves="2" seed="7" result="h0"/>
<feColorMatrix in="h0" type="matrix" values="1 0 0 0 0 1 0 0 0 0 1 0 0 0 0 0 0 0 0 1" result="h"/>
<feTurbulence type="fractalNoise" baseFrequency="0.07" numOctaves="2" seed="57" result="l0"/>
<feColorMatrix in="l0" type="matrix" values="1 0 0 0 0 1 0 0 0 0 1 0 0 0 0 0 0 0 0 1" result="l"/>
<feComposite in="h" in2="l" operator="arithmetic" k1="0" k2="1" k3="0.2" k4="-0.100" result="m"/>
<feColorMatrix in="m" type="matrix" values="0 0 0 0 0.22 0 0 0 0 0.22 0 0 0 0 0.22 -6 0 0 0 2.580" result="d0"/>
<feComponentTransfer in="d0" result="d"><feFuncA type="linear" slope="0.55"/></feComponentTransfer>
<feColorMatrix in="h" type="matrix" values="0.25 0 0 0 0.375 0.25 0 0 0 0.375 0.25 0 0 0 0.375 0 0 0 0 1" result="g"/>
<feColorMatrix in="h0" type="matrix" values="0 0 0 0 0.8 0 0 0 0 0.8 0 0 0 0 0.8 0 6 0 0 -3.840" result="w0"/>
<feComponentTransfer in="w0" result="w"><feFuncA type="linear" slope="0.55"/></feComponentTransfer>
<feMerge><feMergeNode in="g"/><feMergeNode in="w"/><feMergeNode in="d"/></feMerge>
<feGaussianBlur stdDeviation="0.55"/>
</filter>
<clipPath id="cp2"><rect x="235.5" y="415.2" width="104.1" height="103.3"/></clipPath><linearGradient id="sg2" x1="278.5" x2="303.5" y1="0" y2="0" gradientUnits="userSpaceOnUse">
<stop offset="0" stop-color="#8e8e8e" stop-opacity="0"/><stop offset="0.3" stop-color="#8e8e8e" stop-opacity="0.35"/>
<stop offset="0.7" stop-color="#8e8e8e" stop-opacity="0.35"/><stop offset="1" stop-color="#8e8e8e" stop-opacity="0"/></linearGradient><filter id="sd2" x="-0.5" y="0" width="2" height="1" color-interpolation-filters="sRGB">
<feTurbulence type="fractalNoise" baseFrequency="0.08 0.25" numOctaves="2" seed="14" result="t"/>
<feDisplacementMap in="SourceGraphic" in2="t" scale="22" xChannelSelector="R" yChannelSelector="G" result="dm"/>
<feGaussianBlur in="dm" stdDeviation="1.3"/>
</filter><linearGradient id="gg2" x1="0" x2="1" y1="0" y2="0"><stop offset="0" stop-color="#fff" stop-opacity="0.03"/><stop offset="0.5" stop-color="#fff" stop-opacity="0"/><stop offset="1" stop-color="#000" stop-opacity="0.25"/></linearGradient><filter id="tx3" x="0" y="0" width="1" height="1" color-interpolation-filters="sRGB">
<feTurbulence type="fractalNoise" baseFrequency="0.6" numOctaves="2" seed="9" result="h0"/>
<feColorMatrix in="h0" type="matrix" values="1 0 0 0 0 1 0 0 0 0 1 0 0 0 0 0 0 0 0 1" result="h"/>
<feTurbulence type="fractalNoise" baseFrequency="0.07" numOctaves="2" seed="59" result="l0"/>
<feColorMatrix in="l0" type="matrix" values="1 0 0 0 0 1 0 0 0 0 1 0 0 0 0 0 0 0 0 1" result="l"/>
<feComposite in="h" in2="l" operator="arithmetic" k1="0" k2="1" k3="0.3" k4="-0.150" result="m"/>
<feColorMatrix in="m" type="matrix" values="0 0 0 0 0.22 0 0 0 0 0.22 0 0 0 0 0.22 -6 0 0 0 2.520" result="d0"/>
<feComponentTransfer in="d0" result="d"><feFuncA type="linear" slope="0.6"/></feComponentTransfer>
<feColorMatrix in="h" type="matrix" values="0.25 0 0 0 0.375 0.25 0 0 0 0.375 0.25 0 0 0 0.375 0 0 0 0 1" result="g"/>
<feColorMatrix in="h0" type="matrix" values="0 0 0 0 0.8 0 0 0 0 0.8 0 0 0 0 0.8 0 6 0 0 -3.840" result="w0"/>
<feComponentTransfer in="w0" result="w"><feFuncA type="linear" slope="0.55"/></feComponentTransfer>
<feMerge><feMergeNode in="g"/><feMergeNode in="w"/><feMergeNode in="d"/></feMerge>
<feGaussianBlur stdDeviation="0.55"/>
</filter>
<clipPath id="cp3"><rect x="19.4" y="522.0" width="104" height="103.4"/></clipPath><linearGradient id="sg3" x1="57.5" x2="86.5" y1="0" y2="0" gradientUnits="userSpaceOnUse">
<stop offset="0" stop-color="#8a8a8a" stop-opacity="0"/><stop offset="0.2" stop-color="#8a8a8a" stop-opacity="1.0"/>
<stop offset="0.8" stop-color="#8a8a8a" stop-opacity="1.0"/><stop offset="1" stop-color="#8a8a8a" stop-opacity="0"/></linearGradient><filter id="sd3" x="-0.5" y="0" width="2" height="1" color-interpolation-filters="sRGB">
<feTurbulence type="fractalNoise" baseFrequency="0.08 0.25" numOctaves="2" seed="16" result="t"/>
<feDisplacementMap in="SourceGraphic" in2="t" scale="22" xChannelSelector="R" yChannelSelector="G" result="dm"/>
<feGaussianBlur in="dm" stdDeviation="1.3"/>
</filter><linearGradient id="gg3" x1="0" x2="1" y1="0" y2="0"><stop offset="0" stop-color="#fff" stop-opacity="0.03"/><stop offset="0.5" stop-color="#fff" stop-opacity="0"/><stop offset="1" stop-color="#000" stop-opacity="0.2"/></linearGradient><filter id="tx4" x="0" y="0" width="1" height="1" color-interpolation-filters="sRGB">
<feTurbulence type="fractalNoise" baseFrequency="0.43" numOctaves="2" seed="11" result="h0"/>
<feColorMatrix in="h0" type="matrix" values="1 0 0 0 0 1 0 0 0 0 1 0 0 0 0 0 0 0 0 1" result="h"/>
<feTurbulence type="fractalNoise" baseFrequency="0.07" numOctaves="2" seed="61" result="l0"/>
<feColorMatrix in="l0" type="matrix" values="1 0 0 0 0 1 0 0 0 0 1 0 0 0 0 0 0 0 0 1" result="l"/>
<feComposite in="h" in2="l" operator="arithmetic" k1="0" k2="1" k3="0.25" k4="-0.125" result="m"/>
<feColorMatrix in="m" type="matrix" values="0 0 0 0 0.22 0 0 0 0 0.22 0 0 0 0 0.22 -6 0 0 0 2.460" result="d0"/>
<feComponentTransfer in="d0" result="d"><feFuncA type="linear" slope="0.7"/></feComponentTransfer>
<feColorMatrix in="h" type="matrix" values="0.3 0 0 0 0.380 0.3 0 0 0 0.380 0.3 0 0 0 0.380 0 0 0 0 1" result="g"/>
<feColorMatrix in="h0" type="matrix" values="0 0 0 0 0.8 0 0 0 0 0.8 0 0 0 0 0.8 0 6 0 0 -3.840" result="w0"/>
<feComponentTransfer in="w0" result="w"><feFuncA type="linear" slope="0.55"/></feComponentTransfer>
<feMerge><feMergeNode in="g"/><feMergeNode in="w"/><feMergeNode in="d"/></feMerge>
<feGaussianBlur stdDeviation="0.5"/>
</filter>
<clipPath id="cp4"><rect x="127.6" y="522.0" width="103.7" height="103.4"/></clipPath><linearGradient id="sg4" x1="168.5" x2="194.5" y1="0" y2="0" gradientUnits="userSpaceOnUse">
<stop offset="0" stop-color="#8e8e8e" stop-opacity="0"/><stop offset="0.3" stop-color="#8e8e8e" stop-opacity="1.0"/>
<stop offset="0.7" stop-color="#8e8e8e" stop-opacity="1.0"/><stop offset="1" stop-color="#8e8e8e" stop-opacity="0"/></linearGradient><filter id="sd4" x="-0.5" y="0" width="2" height="1" color-interpolation-filters="sRGB">
<feTurbulence type="fractalNoise" baseFrequency="0.08 0.25" numOctaves="2" seed="18" result="t"/>
<feDisplacementMap in="SourceGraphic" in2="t" scale="22" xChannelSelector="R" yChannelSelector="G" result="dm"/>
<feGaussianBlur in="dm" stdDeviation="1.3"/>
</filter><linearGradient id="gg4" x1="0" x2="1" y1="0" y2="0"><stop offset="0" stop-color="#fff" stop-opacity="0.06"/><stop offset="0.45" stop-color="#fff" stop-opacity="0.02"/><stop offset="0.65" stop-color="#000" stop-opacity="0.15"/><stop offset="1" stop-color="#000" stop-opacity="0.4"/></linearGradient><filter id="tx5" x="0" y="0" width="1" height="1" color-interpolation-filters="sRGB">
<feTurbulence type="fractalNoise" baseFrequency="0.65" numOctaves="2" seed="13" result="h0"/>
<feColorMatrix in="h0" type="matrix" values="1 0 0 0 0 1 0 0 0 0 1 0 0 0 0 0 0 0 0 1" result="h"/>
<feTurbulence type="fractalNoise" baseFrequency="0.07" numOctaves="2" seed="63" result="l0"/>
<feColorMatrix in="l0" type="matrix" values="1 0 0 0 0 1 0 0 0 0 1 0 0 0 0 0 0 0 0 1" result="l"/>
<feComposite in="h" in2="l" operator="arithmetic" k1="0" k2="1" k3="0.2" k4="-0.100" result="m"/>
<feColorMatrix in="m" type="matrix" values="0 0 0 0 0.22 0 0 0 0 0.22 0 0 0 0 0.22 -6 0 0 0 2.580" result="d0"/>
<feComponentTransfer in="d0" result="d"><feFuncA type="linear" slope="0.55"/></feComponentTransfer>
<feColorMatrix in="h" type="matrix" values="0.25 0 0 0 0.355 0.25 0 0 0 0.355 0.25 0 0 0 0.355 0 0 0 0 1" result="g"/>
<feColorMatrix in="h0" type="matrix" values="0 0 0 0 0.8 0 0 0 0 0.8 0 0 0 0 0.8 0 6 0 0 -3.840" result="w0"/>
<feComponentTransfer in="w0" result="w"><feFuncA type="linear" slope="0.55"/></feComponentTransfer>
<feMerge><feMergeNode in="g"/><feMergeNode in="w"/><feMergeNode in="d"/></feMerge>
<feGaussianBlur stdDeviation="0.55"/>
</filter>
<clipPath id="cp5"><rect x="235.5" y="522.0" width="104.1" height="103.4"/></clipPath><linearGradient id="sg5" x1="268.5" x2="303.5" y1="0" y2="0" gradientUnits="userSpaceOnUse">
<stop offset="0" stop-color="#8e8e8e" stop-opacity="0"/><stop offset="0.2" stop-color="#8e8e8e" stop-opacity="0.5"/>
<stop offset="0.8" stop-color="#8e8e8e" stop-opacity="0.5"/><stop offset="1" stop-color="#8e8e8e" stop-opacity="0"/></linearGradient><filter id="sd5" x="-0.5" y="0" width="2" height="1" color-interpolation-filters="sRGB">
<feTurbulence type="fractalNoise" baseFrequency="0.08 0.25" numOctaves="2" seed="20" result="t"/>
<feDisplacementMap in="SourceGraphic" in2="t" scale="22" xChannelSelector="R" yChannelSelector="G" result="dm"/>
<feGaussianBlur in="dm" stdDeviation="1.3"/>
</filter><linearGradient id="gg5" x1="0" x2="1" y1="0" y2="0"><stop offset="0" stop-color="#000" stop-opacity="0.08"/><stop offset="0.5" stop-color="#fff" stop-opacity="0.03"/><stop offset="0.75" stop-color="#000" stop-opacity="0.12"/><stop offset="1" stop-color="#000" stop-opacity="0.3"/></linearGradient><filter id="tx6" x="0" y="0" width="1" height="1" color-interpolation-filters="sRGB">
<feTurbulence type="fractalNoise" baseFrequency="0.7" numOctaves="2" seed="15" result="h0"/>
<feColorMatrix in="h0" type="matrix" values="1 0 0 0 0 1 0 0 0 0 1 0 0 0 0 0 0 0 0 1" result="h"/>
<feTurbulence type="fractalNoise" baseFrequency="0.07" numOctaves="2" seed="65" result="l0"/>
<feColorMatrix in="l0" type="matrix" values="1 0 0 0 0 1 0 0 0 0 1 0 0 0 0 0 0 0 0 1" result="l"/>
<feComposite in="h" in2="l" operator="arithmetic" k1="0" k2="1" k3="0.3" k4="-0.150" result="m"/>
<feColorMatrix in="m" type="matrix" values="0 0 0 0 0.22 0 0 0 0 0.22 0 0 0 0 0.22 -6 0 0 0 2.460" result="d0"/>
<feComponentTransfer in="d0" result="d"><feFuncA type="linear" slope="0.75"/></feComponentTransfer>
<feColorMatrix in="h" type="matrix" values="0.35 0 0 0 0.335 0.35 0 0 0 0.335 0.35 0 0 0 0.335 0 0 0 0 1" result="g"/>
<feColorMatrix in="h0" type="matrix" values="0 0 0 0 0.8 0 0 0 0 0.8 0 0 0 0 0.8 0 6 0 0 -3.840" result="w0"/>
<feComponentTransfer in="w0" result="w"><feFuncA type="linear" slope="0.55"/></feComponentTransfer>
<feMerge><feMergeNode in="g"/><feMergeNode in="w"/><feMergeNode in="d"/></feMerge>
<feGaussianBlur stdDeviation="0.4"/>
</filter>
<clipPath id="cp6"><rect x="365.7" y="414.8" width="104.2" height="103.2"/></clipPath><linearGradient id="sg6" x1="401.5" x2="430" y1="0" y2="0" gradientUnits="userSpaceOnUse">
<stop offset="0" stop-color="#848484" stop-opacity="0"/><stop offset="0.2" stop-color="#848484" stop-opacity="1.0"/>
<stop offset="0.8" stop-color="#848484" stop-opacity="1.0"/><stop offset="1" stop-color="#848484" stop-opacity="0"/></linearGradient><filter id="sd6" x="-0.5" y="0" width="2" height="1" color-interpolation-filters="sRGB">
<feTurbulence type="fractalNoise" baseFrequency="0.08 0.25" numOctaves="2" seed="22" result="t"/>
<feDisplacementMap in="SourceGraphic" in2="t" scale="22" xChannelSelector="R" yChannelSelector="G" result="dm"/>
<feGaussianBlur in="dm" stdDeviation="1.3"/>
</filter><linearGradient id="gg6" x1="0" x2="1" y1="0" y2="0"><stop offset="0" stop-color="#fff" stop-opacity="0.1"/><stop offset="0.35" stop-color="#fff" stop-opacity="0.05"/><stop offset="0.6" stop-color="#000" stop-opacity="0.08"/><stop offset="1" stop-color="#000" stop-opacity="0.18"/></linearGradient><filter id="tx7" x="0" y="0" width="1" height="1" color-interpolation-filters="sRGB">
<feTurbulence type="fractalNoise" baseFrequency="0.7" numOctaves="2" seed="17" result="h0"/>
<feColorMatrix in="h0" type="matrix" values="1 0 0 0 0 1 0 0 0 0 1 0 0 0 0 0 0 0 0 1" result="h"/>
<feTurbulence type="fractalNoise" baseFrequency="0.07" numOctaves="2" seed="67" result="l0"/>
<feColorMatrix in="l0" type="matrix" values="1 0 0 0 0 1 0 0 0 0 1 0 0 0 0 0 0 0 0 1" result="l"/>
<feComposite in="h" in2="l" operator="arithmetic" k1="0" k2="1" k3="0.2" k4="-0.100" result="m"/>
<feColorMatrix in="m" type="matrix" values="0 0 0 0 0.22 0 0 0 0 0.22 0 0 0 0 0.22 -6 0 0 0 2.580" result="d0"/>
<feComponentTransfer in="d0" result="d"><feFuncA type="linear" slope="0.8"/></feComponentTransfer>
<feColorMatrix in="h" type="matrix" values="0.55 0 0 0 0.215 0.55 0 0 0 0.215 0.55 0 0 0 0.215 0 0 0 0 1" result="g"/>
<feColorMatrix in="h0" type="matrix" values="0 0 0 0 0.8 0 0 0 0 0.8 0 0 0 0 0.8 0 6 0 0 -3.840" result="w0"/>
<feComponentTransfer in="w0" result="w"><feFuncA type="linear" slope="0.55"/></feComponentTransfer>
<feMerge><feMergeNode in="g"/><feMergeNode in="w"/><feMergeNode in="d"/></feMerge>
<feGaussianBlur stdDeviation="0.4"/>
</filter>
<clipPath id="cp7"><rect x="473.1" y="414.8" width="103.8" height="103.2"/></clipPath><linearGradient id="sg7" x1="513" x2="536.5" y1="0" y2="0" gradientUnits="userSpaceOnUse">
<stop offset="0" stop-color="#858585" stop-opacity="0"/><stop offset="0.3" stop-color="#858585" stop-opacity="1.0"/>
<stop offset="0.7" stop-color="#858585" stop-opacity="1.0"/><stop offset="1" stop-color="#858585" stop-opacity="0"/></linearGradient><filter id="sd7" x="-0.5" y="0" width="2" height="1" color-interpolation-filters="sRGB">
<feTurbulence type="fractalNoise" baseFrequency="0.08 0.25" numOctaves="2" seed="24" result="t"/>
<feDisplacementMap in="SourceGraphic" in2="t" scale="22" xChannelSelector="R" yChannelSelector="G" result="dm"/>
<feGaussianBlur in="dm" stdDeviation="1.3"/>
</filter><linearGradient id="gg7" x1="0" x2="1" y1="0" y2="0"><stop offset="0" stop-color="#fff" stop-opacity="0.05"/><stop offset="0.5" stop-color="#fff" stop-opacity="0"/><stop offset="1" stop-color="#000" stop-opacity="0.12"/></linearGradient><filter id="tx8" x="0" y="0" width="1" height="1" color-interpolation-filters="sRGB">
<feTurbulence type="fractalNoise" baseFrequency="0.7" numOctaves="2" seed="19" result="h0"/>
<feColorMatrix in="h0" type="matrix" values="1 0 0 0 0 1 0 0 0 0 1 0 0 0 0 0 0 0 0 1" result="h"/>
<feTurbulence type="fractalNoise" baseFrequency="0.07" numOctaves="2" seed="69" result="l0"/>
<feColorMatrix in="l0" type="matrix" values="1 0 0 0 0 1 0 0 0 0 1 0 0 0 0 0 0 0 0 1" result="l"/>
<feComposite in="h" in2="l" operator="arithmetic" k1="0" k2="1" k3="0.2" k4="-0.100" result="m"/>
<feColorMatrix in="m" type="matrix" values="0 0 0 0 0.22 0 0 0 0 0.22 0 0 0 0 0.22 -6 0 0 0 2.880" result="d0"/>
<feComponentTransfer in="d0" result="d"><feFuncA type="linear" slope="0.85"/></feComponentTransfer>
<feColorMatrix in="h" type="matrix" values="0.55 0 0 0 0.105 0.55 0 0 0 0.105 0.55 0 0 0 0.105 0 0 0 0 1" result="g"/>
<feColorMatrix in="h0" type="matrix" values="0 0 0 0 0.8 0 0 0 0 0.8 0 0 0 0 0.8 0 6 0 0 -3.840" result="w0"/>
<feComponentTransfer in="w0" result="w"><feFuncA type="linear" slope="0.55"/></feComponentTransfer>
<feMerge><feMergeNode in="g"/><feMergeNode in="w"/><feMergeNode in="d"/></feMerge>
<feGaussianBlur stdDeviation="0.4"/>
</filter>
<clipPath id="cp8"><rect x="580.4" y="414.8" width="105.1" height="103.2"/></clipPath><linearGradient id="sg8" x1="625" x2="645.5" y1="0" y2="0" gradientUnits="userSpaceOnUse">
<stop offset="0" stop-color="#848484" stop-opacity="0"/><stop offset="0.3" stop-color="#848484" stop-opacity="0.8"/>
<stop offset="0.7" stop-color="#848484" stop-opacity="0.8"/><stop offset="1" stop-color="#848484" stop-opacity="0"/></linearGradient><filter id="sd8" x="-0.5" y="0" width="2" height="1" color-interpolation-filters="sRGB">
<feTurbulence type="fractalNoise" baseFrequency="0.08 0.25" numOctaves="2" seed="26" result="t"/>
<feDisplacementMap in="SourceGraphic" in2="t" scale="22" xChannelSelector="R" yChannelSelector="G" result="dm"/>
<feGaussianBlur in="dm" stdDeviation="1.3"/>
</filter><linearGradient id="gg8" x1="0" x2="1" y1="0" y2="0"><stop offset="0" stop-color="#000" stop-opacity="0.08"/><stop offset="0.5" stop-color="#000" stop-opacity="0.04"/><stop offset="1" stop-color="#000" stop-opacity="0.12"/></linearGradient><filter id="tx9" x="0" y="0" width="1" height="1" color-interpolation-filters="sRGB">
<feTurbulence type="fractalNoise" baseFrequency="0.7" numOctaves="2" seed="21" result="h0"/>
<feColorMatrix in="h0" type="matrix" values="1 0 0 0 0 1 0 0 0 0 1 0 0 0 0 0 0 0 0 1" result="h"/>
<feTurbulence type="fractalNoise" baseFrequency="0.07" numOctaves="2" seed="71" result="l0"/>
<feColorMatrix in="l0" type="matrix" values="1 0 0 0 0 1 0 0 0 0 1 0 0 0 0 0 0 0 0 1" result="l"/>
<feComposite in="h" in2="l" operator="arithmetic" k1="0" k2="1" k3="0.3" k4="-0.150" result="m"/>
<feColorMatrix in="m" type="matrix" values="0 0 0 0 0.22 0 0 0 0 0.22 0 0 0 0 0.22 -6 0 0 0 2.460" result="d0"/>
<feComponentTransfer in="d0" result="d"><feFuncA type="linear" slope="0.75"/></feComponentTransfer>
<feColorMatrix in="h" type="matrix" values="0.35 0 0 0 0.335 0.35 0 0 0 0.335 0.35 0 0 0 0.335 0 0 0 0 1" result="g"/>
<feColorMatrix in="h0" type="matrix" values="0 0 0 0 0.8 0 0 0 0 0.8 0 0 0 0 0.8 0 6 0 0 -3.840" result="w0"/>
<feComponentTransfer in="w0" result="w"><feFuncA type="linear" slope="0.55"/></feComponentTransfer>
<feMerge><feMergeNode in="g"/><feMergeNode in="w"/><feMergeNode in="d"/></feMerge>
<feGaussianBlur stdDeviation="0.4"/>
</filter>
<clipPath id="cp9"><rect x="365.7" y="521.8" width="104.2" height="103"/></clipPath><linearGradient id="sg9" x1="401.5" x2="432.5" y1="0" y2="0" gradientUnits="userSpaceOnUse">
<stop offset="0" stop-color="#858585" stop-opacity="0"/><stop offset="0.2" stop-color="#858585" stop-opacity="1.0"/>
<stop offset="0.8" stop-color="#858585" stop-opacity="1.0"/><stop offset="1" stop-color="#858585" stop-opacity="0"/></linearGradient><filter id="sd9" x="-0.5" y="0" width="2" height="1" color-interpolation-filters="sRGB">
<feTurbulence type="fractalNoise" baseFrequency="0.08 0.25" numOctaves="2" seed="28" result="t"/>
<feDisplacementMap in="SourceGraphic" in2="t" scale="22" xChannelSelector="R" yChannelSelector="G" result="dm"/>
<feGaussianBlur in="dm" stdDeviation="1.3"/>
</filter><linearGradient id="gg9" x1="0" x2="1" y1="0" y2="0"><stop offset="0" stop-color="#fff" stop-opacity="0.08"/><stop offset="0.35" stop-color="#fff" stop-opacity="0.03"/><stop offset="0.6" stop-color="#000" stop-opacity="0.08"/><stop offset="1" stop-color="#000" stop-opacity="0.18"/></linearGradient><filter id="tx10" x="0" y="0" width="1" height="1" color-interpolation-filters="sRGB">
<feTurbulence type="fractalNoise" baseFrequency="0.7" numOctaves="2" seed="23" result="h0"/>
<feColorMatrix in="h0" type="matrix" values="1 0 0 0 0 1 0 0 0 0 1 0 0 0 0 0 0 0 0 1" result="h"/>
<feTurbulence type="fractalNoise" baseFrequency="0.07" numOctaves="2" seed="73" result="l0"/>
<feColorMatrix in="l0" type="matrix" values="1 0 0 0 0 1 0 0 0 0 1 0 0 0 0 0 0 0 0 1" result="l"/>
<feComposite in="h" in2="l" operator="arithmetic" k1="0" k2="1" k3="0.2" k4="-0.100" result="m"/>
<feColorMatrix in="m" type="matrix" values="0 0 0 0 0.22 0 0 0 0 0.22 0 0 0 0 0.22 -6 0 0 0 2.520" result="d0"/>
<feComponentTransfer in="d0" result="d"><feFuncA type="linear" slope="0.8"/></feComponentTransfer>
<feColorMatrix in="h" type="matrix" values="0.45 0 0 0 0.295 0.45 0 0 0 0.295 0.45 0 0 0 0.295 0 0 0 0 1" result="g"/>
<feColorMatrix in="h0" type="matrix" values="0 0 0 0 0.8 0 0 0 0 0.8 0 0 0 0 0.8 0 6 0 0 -3.840" result="w0"/>
<feComponentTransfer in="w0" result="w"><feFuncA type="linear" slope="0.55"/></feComponentTransfer>
<feMerge><feMergeNode in="g"/><feMergeNode in="w"/><feMergeNode in="d"/></feMerge>
<feGaussianBlur stdDeviation="0.4"/>
</filter>
<clipPath id="cp10"><rect x="473.1" y="521.8" width="103.8" height="103"/></clipPath><linearGradient id="sg10" x1="510.5" x2="541.5" y1="0" y2="0" gradientUnits="userSpaceOnUse">
<stop offset="0" stop-color="#7f7f7f" stop-opacity="0"/><stop offset="0.2" stop-color="#7f7f7f" stop-opacity="1.0"/>
<stop offset="0.8" stop-color="#7f7f7f" stop-opacity="1.0"/><stop offset="1" stop-color="#7f7f7f" stop-opacity="0"/></linearGradient><filter id="sd10" x="-0.5" y="0" width="2" height="1" color-interpolation-filters="sRGB">
<feTurbulence type="fractalNoise" baseFrequency="0.08 0.25" numOctaves="2" seed="30" result="t"/>
<feDisplacementMap in="SourceGraphic" in2="t" scale="22" xChannelSelector="R" yChannelSelector="G" result="dm"/>
<feGaussianBlur in="dm" stdDeviation="1.3"/>
</filter><linearGradient id="gg10" x1="0" x2="1" y1="0" y2="0"><stop offset="0" stop-color="#fff" stop-opacity="0.08"/><stop offset="0.5" stop-color="#fff" stop-opacity="0"/><stop offset="1" stop-color="#000" stop-opacity="0.3"/></linearGradient><filter id="tx11" x="0" y="0" width="1" height="1" color-interpolation-filters="sRGB">
<feTurbulence type="fractalNoise" baseFrequency="0.6" numOctaves="2" seed="25" result="h0"/>
<feColorMatrix in="h0" type="matrix" values="1 0 0 0 0 1 0 0 0 0 1 0 0 0 0 0 0 0 0 1" result="h"/>
<feTurbulence type="fractalNoise" baseFrequency="0.07" numOctaves="2" seed="75" result="l0"/>
<feColorMatrix in="l0" type="matrix" values="1 0 0 0 0 1 0 0 0 0 1 0 0 0 0 0 0 0 0 1" result="l"/>
<feComposite in="h" in2="l" operator="arithmetic" k1="0" k2="1" k3="0.2" k4="-0.100" result="m"/>
<feColorMatrix in="m" type="matrix" values="0 0 0 0 0.22 0 0 0 0 0.22 0 0 0 0 0.22 -6 0 0 0 2.820" result="d0"/>
<feComponentTransfer in="d0" result="d"><feFuncA type="linear" slope="0.9"/></feComponentTransfer>
<feColorMatrix in="h" type="matrix" values="0.45 0 0 0 0.235 0.45 0 0 0 0.235 0.45 0 0 0 0.235 0 0 0 0 1" result="g"/>
<feColorMatrix in="h0" type="matrix" values="0 0 0 0 0.8 0 0 0 0 0.8 0 0 0 0 0.8 0 6 0 0 -3.840" result="w0"/>
<feComponentTransfer in="w0" result="w"><feFuncA type="linear" slope="0.55"/></feComponentTransfer>
<feMerge><feMergeNode in="g"/><feMergeNode in="w"/><feMergeNode in="d"/></feMerge>
<feGaussianBlur stdDeviation="0.4"/>
</filter>
<clipPath id="cp11"><rect x="580.4" y="521.8" width="105.1" height="103"/></clipPath><linearGradient id="sg11" x1="619.5" x2="648.5" y1="0" y2="0" gradientUnits="userSpaceOnUse">
<stop offset="0" stop-color="#848484" stop-opacity="0"/><stop offset="0.2" stop-color="#848484" stop-opacity="1.0"/>
<stop offset="0.8" stop-color="#848484" stop-opacity="1.0"/><stop offset="1" stop-color="#848484" stop-opacity="0"/></linearGradient><filter id="sd11" x="-0.5" y="0" width="2" height="1" color-interpolation-filters="sRGB">
<feTurbulence type="fractalNoise" baseFrequency="0.08 0.25" numOctaves="2" seed="32" result="t"/>
<feDisplacementMap in="SourceGraphic" in2="t" scale="22" xChannelSelector="R" yChannelSelector="G" result="dm"/>
<feGaussianBlur in="dm" stdDeviation="1.3"/>
</filter><linearGradient id="gg11" x1="0" x2="1" y1="0" y2="0"><stop offset="0" stop-color="#000" stop-opacity="0.04"/><stop offset="0.5" stop-color="#000" stop-opacity="0.0"/><stop offset="1" stop-color="#000" stop-opacity="0.08"/></linearGradient></defs>
<text x="9.8" y="648.4" font-size="15" font-weight="bold" text-anchor="start" font-family="'Liberation Serif', 'Times New Roman', serif" fill="#000" letter-spacing="0.9">(i)</text>
<line x1="28" y1="649.5" x2="342" y2="649.5" stroke="#111" stroke-width="1.3"/>
<text x="183.3" y="645.3" font-size="12.6" font-weight="bold" text-anchor="middle" font-family="'Liberation Sans', Arial, sans-serif" fill="#111"  stroke="#111" stroke-width="0.3">U87</text>
<text x="349" y="649.8" font-size="15" font-weight="bold" text-anchor="start" font-family="'Liberation Serif', 'Times New Roman', serif" fill="#000" letter-spacing="0.9">(j)</text>
<line x1="368" y1="649.5" x2="682.6" y2="649.5" stroke="#111" stroke-width="1.3"/>
<text x="525.5" y="645.3" font-size="12.6" font-weight="bold" text-anchor="middle" font-family="'Liberation Sans', Arial, sans-serif" fill="#111"  stroke="#111" stroke-width="0.3">GL261</text>
<text x="75" y="662.6" font-size="13.2" font-weight="bold" text-anchor="middle" font-family="'Liberation Sans', Arial, sans-serif" fill="#111"  stroke="#111" stroke-width="0.3">PBS</text>
<text x="188.5" y="662.6" font-size="13.2" font-weight="bold" text-anchor="middle" font-family="'Liberation Sans', Arial, sans-serif" fill="#111"  stroke="#111" stroke-width="0.3">50µM</text>
<text x="297.9" y="662.6" font-size="13.2" font-weight="bold" text-anchor="middle" font-family="'Liberation Sans', Arial, sans-serif" fill="#111"  stroke="#111" stroke-width="0.3">100µM</text>
<text x="414" y="662.6" font-size="13.2" font-weight="bold" text-anchor="middle" font-family="'Liberation Sans', Arial, sans-serif" fill="#111"  stroke="#111" stroke-width="0.3">PBS</text>
<text x="527.3" y="662.6" font-size="13.2" font-weight="bold" text-anchor="middle" font-family="'Liberation Sans', Arial, sans-serif" fill="#111"  stroke="#111" stroke-width="0.3">50µM</text>
<text x="636.8" y="662.6" font-size="13.2" font-weight="bold" text-anchor="middle" font-family="'Liberation Sans', Arial, sans-serif" fill="#111"  stroke="#111" stroke-width="0.3">100µM</text>
<text x="25.7" y="756.5" font-size="3.9" text-anchor="end" font-family="'Liberation Sans', Arial, sans-serif" fill="#444" font-style="italic">10⁰</text>
<text x="25.7" y="746.8" font-size="3.9" text-anchor="end" font-family="'Liberation Sans', Arial, sans-serif" fill="#444" font-style="italic">10¹</text>
<text x="25.7" y="734.9" font-size="3.9" text-anchor="end" font-family="'Liberation Sans', Arial, sans-serif" fill="#444" font-style="italic">10²</text>
<text x="25.7" y="722.9" font-size="3.9" text-anchor="end" font-family="'Liberation Sans', Arial, sans-serif" fill="#444" font-style="italic">10³</text>
<text x="25.7" y="710.6" font-size="3.9" text-anchor="end" font-family="'Liberation Sans', Arial, sans-serif" fill="#444" font-style="italic">10⁴</text>
<text x="25.7" y="699" font-size="3.9" text-anchor="end" font-family="'Liberation Sans', Arial, sans-serif" fill="#444" font-style="italic">10⁵</text>
<text x="25.7" y="687.1" font-size="3.9" text-anchor="end" font-family="'Liberation Sans', Arial, sans-serif" fill="#444" font-style="italic">10⁶</text>
<text x="25.7" y="674.9" font-size="3.9" text-anchor="end" font-family="'Liberation Sans', Arial, sans-serif" fill="#444" font-style="italic">10⁷</text>
<path d="M26.1 755.2H28.1M27.1 752.3H28.1M27.1 750.6H28.1M27.1 749.4H28.1M27.1 748.4H28.1M27.1 747.7H28.1M27.1 747H28.1M27.1 746.4H28.1M27.1 745.9H28.1M26.1 745.5H28.1M27.1 741.9H28.1M27.1 739.8H28.1M27.1 738.3H28.1M27.1 737.2H28.1M27.1 736.2H28.1M27.1 735.4H28.1M27.1 734.8H28.1M27.1 734.1H28.1M26.1 733.6H28.1M27.1 730H28.1M27.1 727.9H28.1M27.1 726.4H28.1M27.1 725.2H28.1M27.1 724.3H28.1M27.1 723.5H28.1M27.1 722.8H28.1M27.1 722.1H28.1M26.1 721.6H28.1M27.1 717.9H28.1M27.1 715.7H28.1M27.1 714.2H28.1M27.1 713H28.1M27.1 712H28.1M27.1 711.2H28.1M27.1 710.5H28.1M27.1 709.9H28.1M26.1 709.3H28.1M27.1 705.8H28.1M27.1 703.8H28.1M27.1 702.3H28.1M27.1 701.2H28.1M27.1 700.3H28.1M27.1 699.5H28.1M27.1 698.8H28.1M27.1 698.2H28.1M26.1 697.7H28.1M27.1 694.1H28.1M27.1 692H28.1M27.1 690.5H28.1M27.1 689.4H28.1M27.1 688.4H28.1M27.1 687.6H28.1M27.1 687H28.1M27.1 686.3H28.1M26.1 685.8H28.1M27.1 682.1H28.1M27.1 680H28.1M27.1 678.5H28.1M27.1 677.3H28.1M27.1 676.3H28.1M27.1 675.5H28.1M27.1 674.8H28.1M27.1 674.2H28.1M26.1 673.6H28.1M31.1 756.8V758.8M37.6 756.8V757.8M41.4 756.8V757.8M44.1 756.8V757.8M46.2 756.8V757.8M47.9 756.8V757.8M49.4 756.8V757.8M50.6 756.8V757.8M51.7 756.8V757.8M52.7 756.8V758.8M59.2 756.8V757.8M63 756.8V757.8M65.7 756.8V757.8M67.8 756.8V757.8M69.5 756.8V757.8M71 756.8V757.8M72.2 756.8V757.8M73.3 756.8V757.8M74.3 756.8V758.8M80.8 756.8V757.8M84.6 756.8V757.8M87.3 756.8V757.8M89.4 756.8V757.8M91.1 756.8V757.8M92.6 756.8V757.8M93.8 756.8V757.8M94.9 756.8V757.8M95.9 756.8V758.8M102.4 756.8V757.8M106.2 756.8V757.8M108.9 756.8V757.8M111 756.8V757.8M112.7 756.8V757.8M114.2 756.8V757.8M115.4 756.8V757.8M116.5 756.8V757.8M117.5 756.8V758.8" stroke="#333" stroke-width="0.6" fill="none"/>
<rect x="28.1" y="665.1" width="92.4" height="91.7" fill="none" stroke="#222" stroke-width="1.1"/>
<line x1="72.1" y1="665.1" x2="72.1" y2="756.8" stroke="#444" stroke-width="0.9"/>
<line x1="28.1" y1="704.4" x2="120.5" y2="704.4" stroke="#555" stroke-width="0.9"/>
<text x="30.1" y="676.5" font-size="6.3" font-weight="normal" text-anchor="start" font-family="'Liberation Sans', Arial, sans-serif" fill="#222" font-style="italic" stroke="#222" stroke-width="0.2">Q1</text>
<text x="30.1" y="685.4" font-size="6.3" font-weight="normal" text-anchor="start" font-family="'Liberation Sans', Arial, sans-serif" fill="#222" font-style="italic" stroke="#222" stroke-width="0.2">0</text>
<text x="111.7" y="676.5" font-size="6.3" font-weight="normal" text-anchor="end" font-family="'Liberation Sans', Arial, sans-serif" fill="#222" font-style="italic" stroke="#222" stroke-width="0.2">Q2</text>
<text x="111.7" y="685.4" font-size="6.3" font-weight="normal" text-anchor="end" font-family="'Liberation Sans', Arial, sans-serif" fill="#222" font-style="italic" stroke="#222" stroke-width="0.2">0.017</text>
<text x="30.1" y="741.7" font-size="6.3" font-weight="normal" text-anchor="start" font-family="'Liberation Sans', Arial, sans-serif" fill="#222" font-style="italic" stroke="#222" stroke-width="0.2">Q4</text>
<text x="30.1" y="750.8" font-size="6.3" font-weight="normal" text-anchor="start" font-family="'Liberation Sans', Arial, sans-serif" fill="#222" font-style="italic" stroke="#222" stroke-width="0.2">100.0</text>
<text x="112.5" y="741.7" font-size="6.3" font-weight="normal" text-anchor="end" font-family="'Liberation Sans', Arial, sans-serif" fill="#222" font-style="italic" stroke="#222" stroke-width="0.2">Q3</text>
<text x="112.5" y="750.8" font-size="6.3" font-weight="normal" text-anchor="end" font-family="'Liberation Sans', Arial, sans-serif" fill="#222" font-style="italic" stroke="#222" stroke-width="0.2">0</text>
<text x="31.1" y="764.2" font-size="3.6" text-anchor="middle" font-family="'Liberation Sans', Arial, sans-serif" fill="#555" font-style="italic">10¹</text>
<text x="52.7" y="764.2" font-size="3.6" text-anchor="middle" font-family="'Liberation Sans', Arial, sans-serif" fill="#555" font-style="italic">10²</text>
<text x="74.3" y="764.2" font-size="3.6" text-anchor="middle" font-family="'Liberation Sans', Arial, sans-serif" fill="#555" font-style="italic">10⁴</text>
<text x="95.9" y="764.2" font-size="3.6" text-anchor="middle" font-family="'Liberation Sans', Arial, sans-serif" fill="#555" font-style="italic">10⁵</text>
<text x="117.5" y="764.2" font-size="3.6" text-anchor="middle" font-family="'Liberation Sans', Arial, sans-serif" fill="#555" font-style="italic">10⁷</text>
<text x="140.4" y="756.5" font-size="3.9" text-anchor="end" font-family="'Liberation Sans', Arial, sans-serif" fill="#444" font-style="italic">10⁰</text>
<text x="140.4" y="746.8" font-size="3.9" text-anchor="end" font-family="'Liberation Sans', Arial, sans-serif" fill="#444" font-style="italic">10¹</text>
<text x="140.4" y="734.9" font-size="3.9" text-anchor="end" font-family="'Liberation Sans', Arial, sans-serif" fill="#444" font-style="italic">10²</text>
<text x="140.4" y="722.9" font-size="3.9" text-anchor="end" font-family="'Liberation Sans', Arial, sans-serif" fill="#444" font-style="italic">10³</text>
<text x="140.4" y="710.6" font-size="3.9" text-anchor="end" font-family="'Liberation Sans', Arial, sans-serif" fill="#444" font-style="italic">10⁴</text>
<text x="140.4" y="699" font-size="3.9" text-anchor="end" font-family="'Liberation Sans', Arial, sans-serif" fill="#444" font-style="italic">10⁵</text>
<text x="140.4" y="687.1" font-size="3.9" text-anchor="end" font-family="'Liberation Sans', Arial, sans-serif" fill="#444" font-style="italic">10⁶</text>
<text x="140.4" y="674.9" font-size="3.9" text-anchor="end" font-family="'Liberation Sans', Arial, sans-serif" fill="#444" font-style="italic">10⁷</text>
<path d="M140.8 755.2H142.8M141.8 752.3H142.8M141.8 750.6H142.8M141.8 749.4H142.8M141.8 748.4H142.8M141.8 747.7H142.8M141.8 747H142.8M141.8 746.4H142.8M141.8 745.9H142.8M140.8 745.5H142.8M141.8 741.9H142.8M141.8 739.8H142.8M141.8 738.3H142.8M141.8 737.2H142.8M141.8 736.2H142.8M141.8 735.4H142.8M141.8 734.8H142.8M141.8 734.1H142.8M140.8 733.6H142.8M141.8 730H142.8M141.8 727.9H142.8M141.8 726.4H142.8M141.8 725.2H142.8M141.8 724.3H142.8M141.8 723.5H142.8M141.8 722.8H142.8M141.8 722.1H142.8M140.8 721.6H142.8M141.8 717.9H142.8M141.8 715.7H142.8M141.8 714.2H142.8M141.8 713H142.8M141.8 712H142.8M141.8 711.2H142.8M141.8 710.5H142.8M141.8 709.9H142.8M140.8 709.3H142.8M141.8 705.8H142.8M141.8 703.8H142.8M141.8 702.3H142.8M141.8 701.2H142.8M141.8 700.3H142.8M141.8 699.5H142.8M141.8 698.8H142.8M141.8 698.2H142.8M140.8 697.7H142.8M141.8 694.1H142.8M141.8 692H142.8M141.8 690.5H142.8M141.8 689.4H142.8M141.8 688.4H142.8M141.8 687.6H142.8M141.8 687H142.8M141.8 686.3H142.8M140.8 685.8H142.8M141.8 682.1H142.8M141.8 680H142.8M141.8 678.5H142.8M141.8 677.3H142.8M141.8 676.3H142.8M141.8 675.5H142.8M141.8 674.8H142.8M141.8 674.2H142.8M140.8 673.6H142.8M145.8 756.8V758.8M152.2 756.8V757.8M155.9 756.8V757.8M158.5 756.8V757.8M160.6 756.8V757.8M162.3 756.8V757.8M163.7 756.8V757.8M164.9 756.8V757.8M166 756.8V757.8M167 756.8V758.8M173.3 756.8V757.8M177.1 756.8V757.8M179.7 756.8V757.8M181.8 756.8V757.8M183.5 756.8V757.8M184.9 756.8V757.8M186.1 756.8V757.8M187.2 756.8V757.8M188.2 756.8V758.8M194.5 756.8V757.8M198.3 756.8V757.8M200.9 756.8V757.8M203 756.8V757.8M204.6 756.8V757.8M206 756.8V757.8M207.3 756.8V757.8M208.4 756.8V757.8M209.3 756.8V758.8M215.7 756.8V757.8M219.4 756.8V757.8M222.1 756.8V757.8M224.1 756.8V757.8M225.8 756.8V757.8M227.2 756.8V757.8M228.4 756.8V757.8M229.5 756.8V757.8M230.5 756.8V758.8" stroke="#333" stroke-width="0.6" fill="none"/>
<rect x="142.8" y="665.1" width="90.7" height="91.7" fill="none" stroke="#222" stroke-width="1.1"/>
<line x1="186.4" y1="665.1" x2="186.4" y2="756.8" stroke="#444" stroke-width="0.9"/>
<line x1="142.8" y1="704.4" x2="233.5" y2="704.4" stroke="#555" stroke-width="0.9"/>
<text x="144.8" y="676.5" font-size="6.3" font-weight="normal" text-anchor="start" font-family="'Liberation Sans', Arial, sans-serif" fill="#222" font-style="italic" stroke="#222" stroke-width="0.2">Q1</text>
<text x="144.8" y="685.4" font-size="6.3" font-weight="normal" text-anchor="start" font-family="'Liberation Sans', Arial, sans-serif" fill="#222" font-style="italic" stroke="#222" stroke-width="0.2">0.016</text>
<text x="224.7" y="676.5" font-size="6.3" font-weight="normal" text-anchor="end" font-family="'Liberation Sans', Arial, sans-serif" fill="#222" font-style="italic" stroke="#222" stroke-width="0.2">Q2</text>
<text x="224.7" y="685.4" font-size="6.3" font-weight="normal" text-anchor="end" font-family="'Liberation Sans', Arial, sans-serif" fill="#222" font-style="italic" stroke="#222" stroke-width="0.2">3.13</text>
<text x="144.8" y="741.7" font-size="6.3" font-weight="normal" text-anchor="start" font-family="'Liberation Sans', Arial, sans-serif" fill="#222" font-style="italic" stroke="#222" stroke-width="0.2">Q4</text>
<text x="144.8" y="750.8" font-size="6.3" font-weight="normal" text-anchor="start" font-family="'Liberation Sans', Arial, sans-serif" fill="#222" font-style="italic" stroke="#222" stroke-width="0.2">71.7</text>
<text x="225.5" y="741.7" font-size="6.3" font-weight="normal" text-anchor="end" font-family="'Liberation Sans', Arial, sans-serif" fill="#222" font-style="italic" stroke="#222" stroke-width="0.2">Q3</text>
<text x="225.5" y="750.8" font-size="6.3" font-weight="normal" text-anchor="end" font-family="'Liberation Sans', Arial, sans-serif" fill="#222" font-style="italic" stroke="#222" stroke-width="0.2">25.1</text>
<text x="145.8" y="764.2" font-size="3.6" text-anchor="middle" font-family="'Liberation Sans', Arial, sans-serif" fill="#555" font-style="italic">10¹</text>
<text x="167" y="764.2" font-size="3.6" text-anchor="middle" font-family="'Liberation Sans', Arial, sans-serif" fill="#555" font-style="italic">10²</text>
<text x="188.2" y="764.2" font-size="3.6" text-anchor="middle" font-family="'Liberation Sans', Arial, sans-serif" fill="#555" font-style="italic">10⁴</text>
<text x="209.3" y="764.2" font-size="3.6" text-anchor="middle" font-family="'Liberation Sans', Arial, sans-serif" fill="#555" font-style="italic">10⁵</text>
<text x="230.5" y="764.2" font-size="3.6" text-anchor="middle" font-family="'Liberation Sans', Arial, sans-serif" fill="#555" font-style="italic">10⁷</text>
<text x="250" y="756.5" font-size="3.9" text-anchor="end" font-family="'Liberation Sans', Arial, sans-serif" fill="#444" font-style="italic">10⁰</text>
<text x="250" y="746.8" font-size="3.9" text-anchor="end" font-family="'Liberation Sans', Arial, sans-serif" fill="#444" font-style="italic">10¹</text>
<text x="250" y="734.9" font-size="3.9" text-anchor="end" font-family="'Liberation Sans', Arial, sans-serif" fill="#444" font-style="italic">10²</text>
<text x="250" y="722.9" font-size="3.9" text-anchor="end" font-family="'Liberation Sans', Arial, sans-serif" fill="#444" font-style="italic">10³</text>
<text x="250" y="710.6" font-size="3.9" text-anchor="end" font-family="'Liberation Sans', Arial, sans-serif" fill="#444" font-style="italic">10⁴</text>
<text x="250" y="699" font-size="3.9" text-anchor="end" font-family="'Liberation Sans', Arial, sans-serif" fill="#444" font-style="italic">10⁵</text>
<text x="250" y="687.1" font-size="3.9" text-anchor="end" font-family="'Liberation Sans', Arial, sans-serif" fill="#444" font-style="italic">10⁶</text>
<text x="250" y="674.9" font-size="3.9" text-anchor="end" font-family="'Liberation Sans', Arial, sans-serif" fill="#444" font-style="italic">10⁷</text>
<path d="M250.4 755.2H252.4M251.4 752.3H252.4M251.4 750.6H252.4M251.4 749.4H252.4M251.4 748.4H252.4M251.4 747.7H252.4M251.4 747H252.4M251.4 746.4H252.4M251.4 745.9H252.4M250.4 745.5H252.4M251.4 741.9H252.4M251.4 739.8H252.4M251.4 738.3H252.4M251.4 737.2H252.4M251.4 736.2H252.4M251.4 735.4H252.4M251.4 734.8H252.4M251.4 734.1H252.4M250.4 733.6H252.4M251.4 730H252.4M251.4 727.9H252.4M251.4 726.4H252.4M251.4 725.2H252.4M251.4 724.3H252.4M251.4 723.5H252.4M251.4 722.8H252.4M251.4 722.1H252.4M250.4 721.6H252.4M251.4 717.9H252.4M251.4 715.7H252.4M251.4 714.2H252.4M251.4 713H252.4M251.4 712H252.4M251.4 711.2H252.4M251.4 710.5H252.4M251.4 709.9H252.4M250.4 709.3H252.4M251.4 705.8H252.4M251.4 703.8H252.4M251.4 702.3H252.4M251.4 701.2H252.4M251.4 700.3H252.4M251.4 699.5H252.4M251.4 698.8H252.4M251.4 698.2H252.4M250.4 697.7H252.4M251.4 694.1H252.4M251.4 692H252.4M251.4 690.5H252.4M251.4 689.4H252.4M251.4 688.4H252.4M251.4 687.6H252.4M251.4 687H252.4M251.4 686.3H252.4M250.4 685.8H252.4M251.4 682.1H252.4M251.4 680H252.4M251.4 678.5H252.4M251.4 677.3H252.4M251.4 676.3H252.4M251.4 675.5H252.4M251.4 674.8H252.4M251.4 674.2H252.4M250.4 673.6H252.4M255.4 756.8V758.8M261.7 756.8V757.8M265.4 756.8V757.8M268.1 756.8V757.8M270.1 756.8V757.8M271.8 756.8V757.8M273.2 756.8V757.8M274.4 756.8V757.8M275.5 756.8V757.8M276.4 756.8V758.8M282.8 756.8V757.8M286.5 756.8V757.8M289.1 756.8V757.8M291.1 756.8V757.8M292.8 756.8V757.8M294.2 756.8V757.8M295.4 756.8V757.8M296.5 756.8V757.8M297.4 756.8V758.8M303.8 756.8V757.8M307.5 756.8V757.8M310.1 756.8V757.8M312.1 756.8V757.8M313.8 756.8V757.8M315.2 756.8V757.8M316.4 756.8V757.8M317.5 756.8V757.8M318.5 756.8V758.8M324.8 756.8V757.8M328.5 756.8V757.8M331.1 756.8V757.8M333.2 756.8V757.8M334.8 756.8V757.8M336.2 756.8V757.8M337.5 756.8V757.8M338.5 756.8V757.8M339.5 756.8V758.8" stroke="#333" stroke-width="0.6" fill="none"/>
<rect x="252.4" y="666" width="90.1" height="90.8" fill="none" stroke="#222" stroke-width="1.1"/>
<line x1="295.5" y1="666" x2="295.5" y2="756.8" stroke="#444" stroke-width="0.9"/>
<line x1="252.4" y1="704.4" x2="342.5" y2="704.4" stroke="#555" stroke-width="0.9"/>
<text x="254.4" y="677.4" font-size="6.3" font-weight="normal" text-anchor="start" font-family="'Liberation Sans', Arial, sans-serif" fill="#222" font-style="italic" stroke="#222" stroke-width="0.2">Q1</text>
<text x="254.4" y="686.3" font-size="6.3" font-weight="normal" text-anchor="start" font-family="'Liberation Sans', Arial, sans-serif" fill="#222" font-style="italic" stroke="#222" stroke-width="0.2">0.050</text>
<text x="333.7" y="677.4" font-size="6.3" font-weight="normal" text-anchor="end" font-family="'Liberation Sans', Arial, sans-serif" fill="#222" font-style="italic" stroke="#222" stroke-width="0.2">Q2</text>
<text x="333.7" y="686.3" font-size="6.3" font-weight="normal" text-anchor="end" font-family="'Liberation Sans', Arial, sans-serif" fill="#222" font-style="italic" stroke="#222" stroke-width="0.2">31.6</text>
<text x="254.4" y="741.7" font-size="6.3" font-weight="normal" text-anchor="start" font-family="'Liberation Sans', Arial, sans-serif" fill="#222" font-style="italic" stroke="#222" stroke-width="0.2">Q4</text>
<text x="254.4" y="750.8" font-size="6.3" font-weight="normal" text-anchor="start" font-family="'Liberation Sans', Arial, sans-serif" fill="#222" font-style="italic" stroke="#222" stroke-width="0.2">26.5</text>
<text x="334.5" y="741.7" font-size="6.3" font-weight="normal" text-anchor="end" font-family="'Liberation Sans', Arial, sans-serif" fill="#222" font-style="italic" stroke="#222" stroke-width="0.2">Q3</text>
<text x="334.5" y="750.8" font-size="6.3" font-weight="normal" text-anchor="end" font-family="'Liberation Sans', Arial, sans-serif" fill="#222" font-style="italic" stroke="#222" stroke-width="0.2">41.9</text>
<text x="255.4" y="764.2" font-size="3.6" text-anchor="middle" font-family="'Liberation Sans', Arial, sans-serif" fill="#555" font-style="italic">10¹</text>
<text x="276.4" y="764.2" font-size="3.6" text-anchor="middle" font-family="'Liberation Sans', Arial, sans-serif" fill="#555" font-style="italic">10²</text>
<text x="297.4" y="764.2" font-size="3.6" text-anchor="middle" font-family="'Liberation Sans', Arial, sans-serif" fill="#555" font-style="italic">10⁴</text>
<text x="318.5" y="764.2" font-size="3.6" text-anchor="middle" font-family="'Liberation Sans', Arial, sans-serif" fill="#555" font-style="italic">10⁵</text>
<text x="339.5" y="764.2" font-size="3.6" text-anchor="middle" font-family="'Liberation Sans', Arial, sans-serif" fill="#555" font-style="italic">10⁷</text>
<path stroke="#2050c0" stroke-width=".75" d="M67.8 706.7h.75M68.6 706.7h.75M69.3 706.7h.75M65.6 707.5h.75M66.3 707.5h.75M67.1 707.5h.75M68.6 707.5h.75M69.3 707.5h.75M69.3 708.2h.75M61.1 709.0h.75M69.3 709.0h.75M60.4 709.7h.75M69.3 709.7h.75M59.6 710.5h.75M69.3 711.2h.75M54.4 712.7h.75M55.1 712.7h.75M55.9 712.7h.75M53.6 713.5h.75M54.4 713.5h.75M70.1 713.5h.75M52.9 714.2h.75M53.6 714.2h.75M70.1 714.2h.75M52.9 715.0h.75M53.6 715.0h.75M54.4 715.0h.75M70.1 715.0h.75M52.9 715.7h.75M53.6 715.7h.75M70.1 715.7h.75M52.1 716.5h.75M52.9 716.5h.75M53.6 716.5h.75M55.1 716.5h.75M55.9 716.5h.75M51.4 717.2h.75M52.1 717.2h.75M52.9 717.2h.75M54.4 717.2h.75M55.1 717.2h.75M55.9 717.2h.75M51.4 718.0h.75M52.1 718.0h.75M52.9 718.0h.75M53.6 718.0h.75M54.4 718.0h.75M55.9 718.0h.75M52.1 718.7h.75M55.1 718.7h.75M56.6 718.7h.75M55.9 719.5h.75M56.6 719.5h.75M69.3 719.5h.75M56.6 720.2h.75M58.1 720.2h.75M68.6 720.2h.75M57.4 721.0h.75M58.1 721.0h.75M67.8 721.0h.75M58.1 721.7h.75M58.9 721.7h.75M59.6 722.5h.75M67.1 722.5h.75M61.1 724.0h.75M61.9 724.0h.75M61.1 724.7h.75M61.9 724.7h.75M62.6 724.7h.75M64.8 724.7h.75M65.6 724.7h.75M60.4 725.5h.75M61.9 725.5h.75M62.6 725.5h.75M63.4 725.5h.75M64.8 725.5h.75M60.4 726.2h.75M61.1 726.2h.75M61.9 726.2h.75M62.6 726.2h.75M63.4 726.2h.75"/>
<path stroke="#2060b0" stroke-width=".75" d="M68.6 709.0h.75M60.4 710.5h.75M56.6 714.2h.75M69.3 715.7h.75M57.4 718.0h.75M68.6 719.5h.75M66.3 722.5h.75M63.4 724.0h.75M64.8 724.0h.75"/>
<path stroke="#2060c0" stroke-width=".75" d="M62.6 708.2h.75M64.8 708.2h.75M67.8 708.2h.75M68.6 708.2h.75M62.6 709.0h.75M61.1 709.7h.75M58.9 711.2h.75M58.1 712.0h.75M56.6 712.7h.75M57.4 712.7h.75M69.3 712.7h.75M55.1 713.5h.75M55.9 713.5h.75M54.4 714.2h.75M55.1 714.2h.75M55.9 715.0h.75M56.6 715.0h.75M56.6 715.7h.75M56.6 716.5h.75M69.3 716.5h.75M69.3 717.2h.75M56.6 718.0h.75M51.4 718.7h.75M57.4 718.7h.75M58.9 720.2h.75M59.6 721.0h.75M60.4 721.7h.75M61.1 722.5h.75M61.9 723.2h.75M66.3 723.2h.75M62.6 724.0h.75M65.6 724.0h.75M63.4 724.7h.75M64.1 724.7h.75"/>
<path stroke="#2070b0" stroke-width=".75" d="M65.6 708.2h.75M66.3 708.2h.75M63.4 709.0h.75M67.1 709.0h.75M67.8 709.0h.75M61.9 709.7h.75M68.6 709.7h.75M61.1 710.5h.75M68.6 710.5h.75M68.6 711.2h.75M58.9 712.0h.75M58.1 712.7h.75M57.4 713.5h.75M69.3 713.5h.75M57.4 714.2h.75M69.3 714.2h.75M57.4 715.0h.75M57.4 715.7h.75M57.4 716.5h.75M57.4 717.2h.75M58.1 718.0h.75M58.1 718.7h.75M68.6 718.7h.75M58.9 719.5h.75M59.6 720.2h.75M67.8 720.2h.75M60.4 721.0h.75M67.1 721.0h.75M61.1 721.7h.75M66.3 721.7h.75M61.9 722.5h.75M62.6 723.2h.75M65.6 723.2h.75"/>
<path stroke="#2080b0" stroke-width=".75" d="M64.1 709.0h.75M64.8 709.0h.75M65.6 709.0h.75M66.3 709.0h.75M62.6 709.7h.75M67.1 709.7h.75M67.8 709.7h.75M61.9 710.5h.75M60.4 711.2h.75M59.6 712.0h.75M68.6 712.0h.75M58.9 712.7h.75M68.6 712.7h.75M58.1 713.5h.75M58.9 713.5h.75M58.1 714.2h.75M58.9 714.2h.75M58.1 715.7h.75M58.9 715.7h.75M58.1 716.5h.75M58.9 716.5h.75M68.6 716.5h.75M58.1 717.2h.75M68.6 717.2h.75M68.6 718.0h.75M58.9 718.7h.75M67.8 719.5h.75M60.4 720.2h.75M67.1 720.2h.75M61.1 721.0h.75M61.9 721.7h.75M62.6 722.5h.75M65.6 722.5h.75M63.4 723.2h.75M64.1 723.2h.75M64.8 723.2h.75"/>
<path stroke="#2090a0" stroke-width=".75" d="M67.8 711.2h.75"/>
<path stroke="#2090b0" stroke-width=".75" d="M63.4 709.7h.75M66.3 709.7h.75M62.6 710.5h.75M67.8 710.5h.75M61.1 711.2h.75M60.4 712.0h.75M59.6 712.7h.75M59.6 713.5h.75M68.6 713.5h.75M59.6 714.2h.75M68.6 714.2h.75M59.6 715.0h.75M68.6 715.0h.75M59.6 715.7h.75M68.6 715.7h.75M58.9 717.2h.75M58.9 718.0h.75M59.6 719.5h.75M65.6 721.7h.75M63.4 722.5h.75M64.1 722.5h.75M64.8 722.5h.75"/>
<path stroke="#3060c0" stroke-width=".75" d="M69.3 706.0h.75M65.6 706.7h.75M66.3 706.7h.75M60.4 709.0h.75M54.4 712.0h.75M55.1 712.0h.75M55.9 712.0h.75M70.1 712.0h.75M53.6 712.7h.75M52.9 713.5h.75M52.1 714.2h.75M51.4 715.7h.75M52.1 715.7h.75M46.9 716.5h.75M47.6 716.5h.75M48.4 716.5h.75M49.1 716.5h.75M49.9 716.5h.75M50.6 716.5h.75M46.9 717.2h.75M47.6 717.2h.75M48.4 717.2h.75M50.6 717.2h.75M70.1 717.2h.75M48.4 718.0h.75M50.6 718.7h.75M53.6 718.7h.75M50.6 719.5h.75M54.4 719.5h.75M55.1 719.5h.75M51.4 720.2h.75M55.9 720.2h.75M69.3 720.2h.75M51.4 721.0h.75M52.1 721.0h.75M53.6 721.0h.75M54.4 721.0h.75M55.1 721.0h.75M69.3 721.0h.75M51.4 721.7h.75M52.1 721.7h.75M54.4 721.7h.75M55.9 721.7h.75M57.4 721.7h.75M68.6 721.7h.75M52.1 722.5h.75M53.6 722.5h.75M54.4 722.5h.75M56.6 722.5h.75M58.9 722.5h.75M56.6 723.2h.75M57.4 723.2h.75M58.1 723.2h.75M58.9 723.2h.75M58.9 724.0h.75M67.1 724.0h.75M58.1 724.7h.75M66.3 724.7h.75M58.9 725.5h.75M59.6 725.5h.75M65.6 725.5h.75M59.6 726.2h.75M64.1 726.2h.75M64.8 726.2h.75M61.1 727.0h.75M62.6 727.0h.75M63.4 727.0h.75M64.1 727.0h.75M61.1 727.7h.75M62.6 727.7h.75M61.9 728.5h.75M62.6 728.5h.75M63.4 728.5h.75M63.4 729.2h.75"/>
<path stroke="#3060d0" stroke-width=".75" d="M59.6 709.0h.75M58.1 710.5h.75M51.4 715.0h.75M48.4 715.7h.75M49.9 715.7h.75M70.8 715.7h.75M46.9 718.0h.75M48.4 718.7h.75M49.1 718.7h.75M49.9 719.5h.75M52.9 723.2h.75M53.6 723.2h.75M54.4 723.2h.75M55.9 723.2h.75M57.4 724.7h.75M67.1 724.7h.75M58.1 726.2h.75M58.9 727.0h.75M60.4 727.7h.75M64.1 727.7h.75"/>
<path stroke="#3090a0" stroke-width=".75" d="M64.1 709.7h.75M59.6 718.7h.75M67.8 718.7h.75"/>
<path stroke="#30a080" stroke-width=".75" d="M66.3 710.5h.75M62.6 711.2h.75M61.1 712.7h.75M60.4 715.0h.75M67.8 715.0h.75M60.4 715.7h.75M67.8 715.7h.75M60.4 716.5h.75M67.8 716.5h.75M67.8 717.2h.75M67.8 718.0h.75M60.4 718.7h.75M61.1 719.5h.75M61.9 720.2h.75M62.6 721.0h.75M64.1 721.7h.75"/>
<path stroke="#30a090" stroke-width=".75" d="M63.4 710.5h.75M61.1 712.0h.75M67.8 712.0h.75M60.4 712.7h.75M60.4 713.5h.75M60.4 714.2h.75M65.6 721.0h.75M63.4 721.7h.75M64.8 721.7h.75"/>
<path stroke="#30a0a0" stroke-width=".75" d="M64.8 709.7h.75M65.6 709.7h.75M67.1 710.5h.75M61.9 711.2h.75M59.6 716.5h.75M59.6 717.2h.75M59.6 718.0h.75M60.4 719.5h.75M67.1 719.5h.75M61.1 720.2h.75M66.3 720.2h.75M61.9 721.0h.75M62.6 721.7h.75"/>
<path stroke="#4060d0" stroke-width=".75" d="M48.4 715.0h.75M49.9 715.0h.75M46.1 715.7h.75M45.4 717.2h.75M46.1 718.0h.75M48.4 719.5h.75M68.6 722.5h.75M55.9 724.0h.75M56.6 724.7h.75M61.9 729.2h.75M63.4 730.0h.75"/>
<path stroke="#4070d0" stroke-width=".75" d="M49.1 714.2h.75M45.4 715.7h.75M70.8 718.7h.75M68.6 723.2h.75M63.4 730.7h.75"/>
<path stroke="#40a070" stroke-width=".75" d="M64.1 710.5h.75M65.6 710.5h.75M61.9 712.0h.75M67.8 713.5h.75M67.8 714.2h.75M60.4 717.2h.75M60.4 718.0h.75"/>
<path stroke="#40a080" stroke-width=".75" d="M67.1 711.2h.75"/>
<path stroke="#40b050" stroke-width=".75" d="M62.6 712.0h.75M61.9 712.7h.75M61.1 715.0h.75M61.1 718.0h.75"/>
<path stroke="#40b060" stroke-width=".75" d="M63.4 711.2h.75M66.3 711.2h.75M67.1 712.0h.75M61.1 714.2h.75M61.1 718.7h.75M61.9 719.5h.75M62.6 720.2h.75M63.4 721.0h.75M64.1 721.0h.75"/>
<path stroke="#40b070" stroke-width=".75" d="M64.8 710.5h.75M61.1 713.5h.75M67.1 718.7h.75M66.3 719.5h.75M65.6 720.2h.75M64.8 721.0h.75"/>
<path stroke="#5070d0" stroke-width=".75" d="M61.1 706.7h.75"/>
<path stroke="#5080d0" stroke-width=".75" d="M60.4 706.7h.75"/>
<path stroke="#50b050" stroke-width=".75" d="M64.1 711.2h.75M65.6 711.2h.75M67.1 712.7h.75M61.1 715.7h.75M61.1 717.2h.75M67.1 718.0h.75M61.9 718.7h.75"/>
<path stroke="#60c050" stroke-width=".75" d="M64.8 711.2h.75M61.9 713.5h.75M67.1 713.5h.75M61.1 716.5h.75M62.6 719.5h.75M65.6 719.5h.75M63.4 720.2h.75M64.8 720.2h.75"/>
<path stroke="#70c050" stroke-width=".75" d="M66.3 712.0h.75M67.1 714.2h.75M67.1 715.0h.75M67.1 715.7h.75M67.1 716.5h.75M67.1 717.2h.75M61.9 718.0h.75M66.3 718.7h.75M64.1 720.2h.75"/>
<path stroke="#80c040" stroke-width=".75" d="M63.4 712.0h.75M62.6 712.7h.75"/>
<path stroke="#90c040" stroke-width=".75" d="M61.9 714.2h.75M62.6 718.7h.75"/>
<path stroke="#a0c040" stroke-width=".75" d="M65.6 712.0h.75M66.3 712.7h.75M63.4 719.5h.75"/>
<path stroke="#a0d040" stroke-width=".75" d="M64.1 712.0h.75M61.9 717.2h.75M64.8 719.5h.75"/>
<path stroke="#b0d040" stroke-width=".75" d="M64.8 712.0h.75M61.9 715.0h.75M66.3 718.0h.75M64.1 719.5h.75"/>
<path stroke="#c0d040" stroke-width=".75" d="M62.6 713.5h.75M66.3 713.5h.75M61.9 715.7h.75M61.9 716.5h.75M62.6 718.0h.75M65.6 718.7h.75"/>
<path stroke="#d0d040" stroke-width=".75" d="M63.4 712.7h.75M65.6 712.7h.75M66.3 714.2h.75M63.4 718.7h.75"/>
<path stroke="#e02020" stroke-width=".75" d="M64.1 715.7h.75"/>
<path stroke="#e03020" stroke-width=".75" d="M64.1 715.0h.75M64.1 716.5h.75"/>
<path stroke="#e04020" stroke-width=".75" d="M64.8 715.0h.75M63.4 715.7h.75M64.8 715.7h.75"/>
<path stroke="#e05020" stroke-width=".75" d="M63.4 716.5h.75M64.8 716.5h.75"/>
<path stroke="#e06020" stroke-width=".75" d="M64.1 714.2h.75M64.8 714.2h.75M63.4 715.0h.75M64.1 717.2h.75"/>
<path stroke="#e09030" stroke-width=".75" d="M64.1 713.5h.75M64.8 713.5h.75M65.6 714.2h.75M62.6 715.7h.75M62.6 716.5h.75M65.6 717.2h.75M64.1 718.0h.75M64.8 718.0h.75"/>
<path stroke="#e0a030" stroke-width=".75" d="M62.6 715.0h.75"/>
<path stroke="#e0b030" stroke-width=".75" d="M63.4 713.5h.75M63.4 718.0h.75"/>
<path stroke="#e0c030" stroke-width=".75" d="M65.6 713.5h.75M62.6 717.2h.75M65.6 718.0h.75"/>
<path stroke="#e0c040" stroke-width=".75" d="M64.1 712.7h.75M64.8 712.7h.75M64.1 718.7h.75"/>
<path stroke="#e0d040" stroke-width=".75" d="M62.6 714.2h.75M66.3 715.0h.75M66.3 715.7h.75M66.3 716.5h.75M66.3 717.2h.75M64.8 718.7h.75"/>
<path stroke="#f06020" stroke-width=".75" d="M64.8 717.2h.75"/>
<path stroke="#f08030" stroke-width=".75" d="M63.4 714.2h.75M65.6 715.0h.75M65.6 715.7h.75M65.6 716.5h.75M63.4 717.2h.75"/>
<path stroke="#2050c0" stroke-width=".75" d="M202.8 700.7h.75M203.6 700.7h.75M199.1 701.5h.75M204.3 701.5h.75M189.3 702.2h.75M190.8 702.2h.75M194.6 702.2h.75M204.3 702.2h.75M187.1 703.0h.75M184.8 703.7h.75M203.6 703.7h.75M199.8 705.2h.75M201.3 705.2h.75M197.6 706.0h.75M181.1 706.7h.75M193.8 706.7h.75M190.8 707.5h.75M177.3 709.0h.75M175.8 709.7h.75M166.8 712.7h.75M167.6 712.7h.75M168.3 712.7h.75M172.8 712.7h.75M172.1 713.5h.75M183.3 713.5h.75M165.3 714.2h.75M172.1 714.2h.75M172.8 714.2h.75M165.3 715.0h.75M172.8 715.0h.75M164.6 715.7h.75M165.3 715.7h.75M172.1 715.7h.75M172.8 715.7h.75M178.8 715.7h.75M171.3 716.5h.75M172.1 716.5h.75M175.8 716.5h.75M176.6 716.5h.75M166.1 717.2h.75M169.1 717.2h.75M168.3 718.0h.75M166.8 718.7h.75"/>
<path stroke="#2060b0" stroke-width=".75" d="M189.3 703.0h.75M184.1 712.7h.75M167.6 715.0h.75M171.3 715.0h.75M175.1 715.0h.75M167.6 715.7h.75M168.3 715.7h.75M167.6 716.5h.75M169.8 716.5h.75"/>
<path stroke="#2060c0" stroke-width=".75" d="M201.3 700.7h.75M199.8 701.5h.75M196.1 702.2h.75M196.1 703.0h.75M197.6 703.0h.75M203.6 703.0h.75M185.6 703.7h.75M199.1 704.5h.75M199.8 704.5h.75M202.1 704.5h.75M193.1 706.7h.75M178.8 708.2h.75M188.6 709.7h.75M175.1 710.5h.75M174.3 711.2h.75M167.6 712.0h.75M186.3 712.0h.75M166.1 712.7h.75M173.6 712.7h.75M184.8 712.7h.75M166.8 713.5h.75M167.6 713.5h.75M173.6 713.5h.75M182.6 713.5h.75M166.8 714.2h.75M167.6 714.2h.75M170.6 714.2h.75M181.1 714.2h.75M166.1 715.0h.75M169.1 715.0h.75M172.1 715.0h.75M174.3 715.0h.75M175.1 715.7h.75M178.1 715.7h.75M166.8 716.5h.75M170.6 716.5h.75M166.8 717.2h.75M168.3 717.2h.75M167.6 718.0h.75"/>
<path stroke="#2070b0" stroke-width=".75" d="M200.6 701.5h.75M202.1 701.5h.75M202.8 701.5h.75M190.8 703.0h.75M199.8 703.0h.75M186.3 703.7h.75M196.8 703.7h.75M197.6 703.7h.75M198.3 703.7h.75M199.1 703.7h.75M202.8 703.7h.75M184.8 704.5h.75M196.8 705.2h.75M197.6 705.2h.75M195.3 706.0h.75M190.1 706.7h.75M189.3 707.5h.75M180.3 708.2h.75M188.6 709.0h.75M177.3 709.7h.75M175.1 711.2h.75M174.3 712.0h.75M174.3 712.7h.75M183.3 712.7h.75M174.3 713.5h.75M180.3 714.2h.75M169.8 715.0h.75M170.6 715.0h.75M175.8 715.0h.75M178.1 715.0h.75M169.8 715.7h.75M170.6 715.7h.75M176.6 715.7h.75"/>
<path stroke="#2080b0" stroke-width=".75" d="M201.3 701.5h.75M200.6 702.2h.75M201.3 702.2h.75M202.1 702.2h.75M202.8 702.2h.75M193.8 703.0h.75M194.6 703.0h.75M200.6 703.0h.75M202.1 703.0h.75M202.8 703.0h.75M187.8 703.7h.75M188.6 703.7h.75M189.3 703.7h.75M201.3 703.7h.75M202.1 703.7h.75M196.1 704.5h.75M196.8 704.5h.75M197.6 704.5h.75M196.1 705.2h.75M193.8 706.0h.75M188.6 708.2h.75M179.6 709.0h.75M178.1 709.7h.75M187.8 709.7h.75M176.6 710.5h.75M175.8 711.2h.75M175.1 712.0h.75M185.6 712.0h.75M175.1 712.7h.75M182.6 712.7h.75M175.1 713.5h.75M175.8 713.5h.75M181.1 713.5h.75M175.8 714.2h.75M176.6 714.2h.75M179.6 714.2h.75M177.3 715.0h.75"/>
<path stroke="#2090a0" stroke-width=".75" d="M177.3 710.5h.75"/>
<path stroke="#2090b0" stroke-width=".75" d="M190.1 703.7h.75M195.3 704.5h.75M195.3 705.2h.75M190.1 706.0h.75M190.8 706.0h.75M192.3 706.0h.75M193.1 706.0h.75M182.6 706.7h.75M187.1 710.5h.75M176.6 711.2h.75M186.3 711.2h.75M183.3 712.0h.75M184.8 712.0h.75M175.8 712.7h.75M176.6 712.7h.75M181.8 712.7h.75M177.3 713.5h.75M178.8 714.2h.75"/>
<path stroke="#3060c0" stroke-width=".75" d="M199.8 700.0h.75M201.3 700.0h.75M203.6 700.0h.75M204.3 704.5h.75M199.1 706.0h.75M191.6 707.5h.75M193.1 707.5h.75M175.8 709.0h.75M173.6 710.5h.75M168.3 711.2h.75M172.8 711.2h.75M164.6 713.5h.75M163.8 714.2h.75M163.8 715.0h.75M164.6 716.5h.75M178.8 716.5h.75M165.3 718.0h.75"/>
<path stroke="#3060d0" stroke-width=".75" d="M166.1 712.0h.75M163.1 715.0h.75M165.3 718.7h.75M166.8 719.5h.75"/>
<path stroke="#3090a0" stroke-width=".75" d="M194.6 705.2h.75M188.6 707.5h.75"/>
<path stroke="#30a080" stroke-width=".75" d="M192.3 703.7h.75M193.1 703.7h.75M187.1 704.5h.75M187.8 704.5h.75M188.6 705.2h.75M190.8 705.2h.75M184.1 706.0h.75M188.6 706.0h.75M179.6 709.7h.75M181.8 712.0h.75M178.1 712.7h.75"/>
<path stroke="#30a090" stroke-width=".75" d="M191.6 703.7h.75M193.8 703.7h.75M188.6 704.5h.75M194.6 704.5h.75M184.8 705.2h.75M190.1 705.2h.75M193.8 705.2h.75M188.6 706.7h.75M178.1 710.5h.75M177.3 712.0h.75M181.1 712.7h.75M179.6 713.5h.75"/>
<path stroke="#30a0a0" stroke-width=".75" d="M190.8 703.7h.75M194.6 703.7h.75M189.3 704.5h.75M181.8 707.5h.75M181.1 708.2h.75M178.1 713.5h.75M180.3 713.5h.75"/>
<path stroke="#4060d0" stroke-width=".75" d="M207.3 691.7h.75M206.6 693.2h.75M207.3 693.2h.75M208.8 694.0h.75M197.6 701.5h.75M205.8 701.5h.75M202.8 706.0h.75M169.1 711.2h.75M181.1 715.7h.75M163.1 716.5h.75"/>
<path stroke="#4070d0" stroke-width=".75" d="M207.3 691.0h.75M208.8 691.7h.75M205.8 694.0h.75M210.3 694.0h.75M208.8 694.7h.75M209.6 696.2h.75M202.1 697.0h.75M202.8 697.7h.75M204.3 697.7h.75M201.3 698.5h.75M199.1 699.2h.75M205.1 705.2h.75M199.1 707.5h.75M171.3 711.2h.75"/>
<path stroke="#40a070" stroke-width=".75" d="M190.8 704.5h.75M193.8 704.5h.75M187.8 708.2h.75"/>
<path stroke="#40a080" stroke-width=".75" d="M193.1 705.2h.75M187.1 709.7h.75"/>
<path stroke="#40b050" stroke-width=".75" d="M187.8 705.2h.75M182.6 707.5h.75M187.8 707.5h.75M181.8 708.2h.75M181.8 711.2h.75"/>
<path stroke="#40b060" stroke-width=".75" d="M191.6 704.5h.75M192.3 704.5h.75M193.1 704.5h.75M185.6 705.2h.75M181.1 709.0h.75M180.3 709.7h.75M178.8 710.5h.75M186.3 710.5h.75M182.6 711.2h.75M183.3 711.2h.75M184.1 711.2h.75M184.8 711.2h.75M178.1 712.0h.75M181.1 712.0h.75M178.8 712.7h.75M179.6 712.7h.75"/>
<path stroke="#40b070" stroke-width=".75" d="M191.6 705.2h.75M192.3 705.2h.75M183.3 706.7h.75M178.1 711.2h.75M180.3 712.7h.75"/>
<path stroke="#5070d0" stroke-width=".75" d="M204.3 696.2h.75M199.1 697.7h.75"/>
<path stroke="#5080d0" stroke-width=".75" d="M209.6 697.7h.75M185.6 715.0h.75M175.1 718.7h.75"/>
<path stroke="#50b050" stroke-width=".75" d="M187.1 709.0h.75M178.8 711.2h.75M178.8 712.0h.75"/>
<path stroke="#50c050" stroke-width=".75" d="M180.3 712.0h.75"/>
<path stroke="#6080e0" stroke-width=".75" d="M205.1 682.7h.75M202.8 685.0h.75M208.1 685.0h.75M211.8 689.5h.75M204.3 690.2h.75"/>
<path stroke="#60c050" stroke-width=".75" d="M186.3 705.2h.75M187.8 706.0h.75M187.8 706.7h.75M181.1 709.7h.75M179.6 710.5h.75M181.1 711.2h.75"/>
<path stroke="#70c050" stroke-width=".75" d="M187.1 705.2h.75M184.8 706.0h.75M179.6 712.0h.75"/>
<path stroke="#80c040" stroke-width=".75" d="M181.1 710.5h.75M185.6 710.5h.75M180.3 711.2h.75"/>
<path stroke="#80c050" stroke-width=".75" d="M180.3 710.5h.75M179.6 711.2h.75"/>
<path stroke="#90c040" stroke-width=".75" d="M184.1 706.7h.75M181.8 709.0h.75M186.3 709.7h.75M181.8 710.5h.75"/>
<path stroke="#a0c040" stroke-width=".75" d="M187.1 708.2h.75M182.6 710.5h.75"/>
<path stroke="#a0d040" stroke-width=".75" d="M181.8 709.7h.75"/>
<path stroke="#b0d040" stroke-width=".75" d="M182.6 708.2h.75"/>
<path stroke="#c0d040" stroke-width=".75" d="M185.6 706.0h.75M187.1 706.0h.75M183.3 710.5h.75M184.1 710.5h.75M184.8 710.5h.75"/>
<path stroke="#d0d040" stroke-width=".75" d="M186.3 706.0h.75M187.1 707.5h.75"/>
<path stroke="#e02020" stroke-width=".75" d="M184.8 708.2h.75"/>
<path stroke="#e04020" stroke-width=".75" d="M185.6 708.2h.75M184.8 709.0h.75"/>
<path stroke="#e05020" stroke-width=".75" d="M184.8 707.5h.75M185.6 707.5h.75M184.1 709.0h.75"/>
<path stroke="#e06020" stroke-width=".75" d="M184.1 708.2h.75M185.6 709.0h.75"/>
<path stroke="#e08030" stroke-width=".75" d="M186.3 707.5h.75M183.3 709.0h.75M184.1 709.7h.75M184.8 709.7h.75"/>
<path stroke="#e09030" stroke-width=".75" d="M185.6 706.7h.75M186.3 708.2h.75"/>
<path stroke="#e0a030" stroke-width=".75" d="M186.3 706.7h.75M184.1 707.5h.75M183.3 708.2h.75M183.3 709.7h.75"/>
<path stroke="#e0b030" stroke-width=".75" d="M185.6 709.7h.75"/>
<path stroke="#e0c030" stroke-width=".75" d="M184.8 706.7h.75"/>
<path stroke="#e0c040" stroke-width=".75" d="M182.6 709.0h.75M186.3 709.0h.75"/>
<path stroke="#e0d040" stroke-width=".75" d="M187.1 706.7h.75M182.6 709.7h.75"/>
<path stroke="#2050c0" stroke-width=".75" d="M317.6 674.6h.75M318.4 674.6h.75M319.1 674.6h.75M320.6 674.6h.75M321.4 674.6h.75M317.6 675.4h.75M319.1 675.4h.75M319.9 675.4h.75M321.4 675.4h.75M321.4 685.9h.75M322.9 685.9h.75M321.4 686.6h.75M322.1 686.6h.75M320.6 687.4h.75M321.4 688.1h.75M322.1 688.1h.75M319.9 691.1h.75M316.9 696.4h.75M317.6 696.4h.75M320.6 696.4h.75M313.9 697.1h.75M314.6 697.1h.75M317.6 697.1h.75M320.6 697.1h.75M319.9 697.9h.75M316.9 698.6h.75M313.1 699.4h.75M300.4 700.1h.75M317.6 700.1h.75M298.1 701.6h.75M313.1 704.6h.75M292.1 705.4h.75M312.4 705.4h.75M307.1 706.1h.75M307.9 706.1h.75M309.4 706.1h.75M289.9 706.9h.75M304.1 706.9h.75M286.9 711.4h.75M283.1 712.1h.75M284.6 712.1h.75M285.4 712.1h.75M295.1 712.1h.75M283.1 712.9h.75M283.1 715.1h.75M289.1 715.1h.75M283.9 715.9h.75M284.6 715.9h.75M286.1 715.9h.75M286.9 715.9h.75"/>
<path stroke="#2060b0" stroke-width=".75" d="M319.1 696.4h.75M318.4 697.1h.75M315.4 698.6h.75M313.1 700.9h.75M312.4 703.9h.75M289.9 707.6h.75M295.1 711.4h.75"/>
<path stroke="#2060c0" stroke-width=".75" d="M318.4 696.4h.75M319.9 697.1h.75M313.9 697.9h.75M314.6 697.9h.75M319.1 697.9h.75M316.9 699.4h.75M310.9 700.1h.75M311.6 700.1h.75M313.1 700.1h.75M313.9 700.1h.75M314.6 700.1h.75M315.4 700.1h.75M316.1 700.1h.75M316.9 700.1h.75M313.9 701.6h.75M313.9 702.4h.75M312.4 704.6h.75M310.1 705.4h.75M291.4 706.1h.75M305.6 706.1h.75M288.4 709.1h.75M298.1 709.1h.75M296.6 709.9h.75M294.4 712.1h.75M283.9 712.9h.75M285.4 712.9h.75M291.4 712.9h.75M290.6 713.6h.75M289.9 714.4h.75M286.1 715.1h.75M286.9 715.1h.75M287.6 715.1h.75"/>
<path stroke="#2070b0" stroke-width=".75" d="M319.1 697.1h.75M314.6 698.6h.75M314.6 699.4h.75M315.4 699.4h.75M301.9 700.1h.75M303.4 700.1h.75M300.4 700.9h.75M311.6 700.9h.75M313.1 701.6h.75M313.1 702.4h.75M311.6 703.9h.75M310.9 704.6h.75M292.1 706.1h.75M304.1 706.1h.75M290.6 706.9h.75M301.9 706.9h.75M288.4 709.9h.75M287.6 711.4h.75M287.6 712.1h.75M292.1 712.1h.75M290.6 712.9h.75M283.9 713.6h.75M284.6 713.6h.75M285.4 713.6h.75M286.1 713.6h.75M287.6 713.6h.75M289.9 713.6h.75M283.9 714.4h.75M287.6 714.4h.75"/>
<path stroke="#2080b0" stroke-width=".75" d="M306.4 700.9h.75M310.9 700.9h.75M311.6 701.6h.75M311.6 702.4h.75M312.4 702.4h.75M296.6 703.1h.75M309.4 704.6h.75M310.1 704.6h.75M305.6 705.4h.75M292.9 706.1h.75M291.4 706.9h.75M290.6 707.6h.75M298.9 708.4h.75M295.1 710.6h.75M288.4 711.4h.75M293.6 711.4h.75M294.4 711.4h.75M291.4 712.1h.75M288.4 712.9h.75M289.9 712.9h.75M288.4 713.6h.75M289.1 713.6h.75"/>
<path stroke="#2090a0" stroke-width=".75" d="M307.1 704.6h.75M293.6 706.1h.75M299.6 707.6h.75"/>
<path stroke="#2090b0" stroke-width=".75" d="M301.1 700.9h.75M304.9 700.9h.75M305.6 700.9h.75M307.1 700.9h.75M310.1 700.9h.75M299.6 701.6h.75M310.9 703.1h.75M295.9 703.9h.75M310.1 703.9h.75M295.1 704.6h.75M308.6 704.6h.75M303.4 706.1h.75M292.1 706.9h.75M291.4 707.6h.75M290.6 708.4h.75M298.1 708.4h.75M289.9 709.1h.75M289.1 709.9h.75M295.1 709.9h.75M289.1 710.6h.75M293.6 710.6h.75M289.1 711.4h.75M291.4 711.4h.75M289.1 712.1h.75M289.9 712.1h.75"/>
<path stroke="#3060c0" stroke-width=".75" d="M318.4 673.9h.75M320.6 673.9h.75M316.9 675.4h.75M322.1 675.4h.75M319.1 676.1h.75M319.9 676.1h.75M320.6 685.1h.75M323.6 685.1h.75M323.6 686.6h.75M320.6 688.1h.75M321.4 688.9h.75M322.1 689.6h.75M319.1 690.4h.75M320.6 691.1h.75M319.1 692.6h.75M318.4 693.4h.75M319.1 693.4h.75M318.4 694.1h.75M319.9 694.1h.75M316.9 695.6h.75M320.6 695.6h.75M311.6 698.6h.75M312.4 698.6h.75M301.9 699.4h.75M319.1 699.4h.75M297.4 701.6h.75M317.6 701.6h.75M314.6 703.1h.75M311.6 706.1h.75M307.1 706.9h.75M303.4 707.6h.75M287.6 708.4h.75M301.1 708.4h.75M282.4 712.1h.75M277.9 713.6h.75M281.6 713.6h.75M293.6 713.6h.75M277.1 714.4h.75M278.6 714.4h.75M292.9 714.4h.75M277.9 715.1h.75M281.6 715.1h.75M291.4 715.1h.75M292.1 715.1h.75M281.6 715.9h.75M280.1 716.6h.75M281.6 716.6h.75M285.4 716.6h.75M279.4 717.4h.75M280.9 717.4h.75M283.9 717.4h.75M280.1 718.1h.75M280.9 718.1h.75"/>
<path stroke="#3060d0" stroke-width=".75" d="M316.1 674.6h.75M319.1 684.4h.75M324.4 685.1h.75M324.4 686.6h.75M318.4 701.6h.75M301.9 708.4h.75M284.6 710.6h.75M285.4 710.6h.75M280.1 715.1h.75M283.1 718.1h.75"/>
<path stroke="#30a080" stroke-width=".75" d="M303.4 700.9h.75M306.4 701.6h.75M307.1 701.6h.75M310.1 701.6h.75M310.1 703.1h.75M307.1 703.9h.75M307.9 703.9h.75M308.6 703.9h.75M305.6 704.6h.75M294.4 706.1h.75M291.4 709.1h.75M295.1 709.1h.75M291.4 709.9h.75M292.1 709.9h.75"/>
<path stroke="#30a090" stroke-width=".75" d="M301.9 700.9h.75M304.1 700.9h.75M298.9 702.4h.75M309.4 703.9h.75M302.6 706.1h.75M295.9 709.1h.75M290.6 709.9h.75M293.6 709.9h.75M289.9 710.6h.75M291.4 710.6h.75"/>
<path stroke="#30a0a0" stroke-width=".75" d="M308.6 700.9h.75M309.4 700.9h.75M304.1 705.4h.75M289.9 709.9h.75M294.4 709.9h.75M292.1 710.6h.75M292.9 710.6h.75M289.9 711.4h.75M290.6 711.4h.75"/>
<path stroke="#4060d0" stroke-width=".75" d="M313.1 673.9h.75M313.1 674.6h.75M314.6 674.6h.75M322.9 674.6h.75M311.6 675.4h.75M324.4 682.1h.75M319.9 682.9h.75M319.1 683.6h.75M323.6 683.6h.75M318.4 685.9h.75M319.1 688.9h.75M323.6 688.9h.75M322.9 690.4h.75M319.9 700.1h.75M316.9 702.4h.75M286.1 708.4h.75M279.4 712.1h.75M280.1 712.1h.75M294.4 714.4h.75M292.1 715.9h.75M277.9 716.6h.75M287.6 717.4h.75M277.1 718.1h.75M286.1 718.1h.75M277.1 718.9h.75M277.9 718.9h.75M279.4 719.6h.75M281.6 719.6h.75M282.4 719.6h.75"/>
<path stroke="#4070d0" stroke-width=".75" d="M314.6 676.1h.75M322.9 680.6h.75M320.6 682.1h.75M317.6 685.9h.75M325.1 688.1h.75M317.6 689.6h.75M322.1 694.9h.75M313.1 706.9h.75M284.6 719.6h.75M283.9 720.4h.75M280.1 721.1h.75M280.9 721.9h.75"/>
<path stroke="#40a070" stroke-width=".75" d="M305.6 701.6h.75M306.4 703.9h.75M304.9 704.6h.75M292.1 708.4h.75M296.6 708.4h.75M292.1 709.1h.75"/>
<path stroke="#40b050" stroke-width=".75" d="M301.1 701.6h.75M308.6 701.6h.75M309.4 701.6h.75M299.6 702.4h.75M305.6 702.4h.75M295.1 706.1h.75M294.4 706.9h.75M293.6 708.4h.75M294.4 708.4h.75M295.1 708.4h.75"/>
<path stroke="#40b060" stroke-width=".75" d="M304.9 701.6h.75M307.9 701.6h.75M306.4 702.4h.75M307.1 702.4h.75M298.1 703.1h.75M306.4 703.1h.75M307.1 703.1h.75M296.6 703.9h.75M305.6 703.9h.75M295.9 704.6h.75M301.1 706.1h.75M292.9 707.6h.75M298.9 707.6h.75M292.9 708.4h.75M295.9 708.4h.75"/>
<path stroke="#40b070" stroke-width=".75" d="M310.1 702.4h.75M293.6 706.9h.75M292.9 709.1h.75"/>
<path stroke="#5070d0" stroke-width=".75" d="M321.4 679.9h.75M323.6 691.9h.75M292.9 703.1h.75"/>
<path stroke="#5080d0" stroke-width=".75" d="M317.6 704.6h.75"/>
<path stroke="#50b050" stroke-width=".75" d="M307.9 702.4h.75M305.6 703.1h.75M308.6 703.1h.75M293.6 707.6h.75"/>
<path stroke="#6080d0" stroke-width=".75" d="M318.4 679.9h.75M324.4 696.4h.75"/>
<path stroke="#60c050" stroke-width=".75" d="M304.1 701.6h.75M309.4 702.4h.75M304.9 703.9h.75M295.1 706.9h.75M299.6 706.9h.75M294.4 707.6h.75M298.1 707.6h.75"/>
<path stroke="#70c050" stroke-width=".75" d="M308.6 702.4h.75M302.6 705.4h.75M295.1 707.6h.75M295.9 707.6h.75M297.4 707.6h.75"/>
<path stroke="#80c040" stroke-width=".75" d="M301.9 701.6h.75M303.4 701.6h.75M304.9 702.4h.75M297.4 703.9h.75M295.9 705.4h.75"/>
<path stroke="#80c050" stroke-width=".75" d="M298.9 703.1h.75"/>
<path stroke="#90c040" stroke-width=".75" d="M302.6 701.6h.75M304.9 703.1h.75M304.1 703.9h.75M303.4 704.6h.75M295.9 706.9h.75"/>
<path stroke="#a0c040" stroke-width=".75" d="M300.4 702.4h.75M295.9 706.1h.75"/>
<path stroke="#b0d040" stroke-width=".75" d="M296.6 704.6h.75"/>
<path stroke="#c0d040" stroke-width=".75" d="M304.1 702.4h.75M304.1 703.1h.75M301.9 705.4h.75"/>
<path stroke="#d0d040" stroke-width=".75" d="M299.6 703.1h.75M298.1 703.9h.75M296.6 706.9h.75"/>
<path stroke="#e02020" stroke-width=".75" d="M298.1 705.4h.75"/>
<path stroke="#e03020" stroke-width=".75" d="M298.9 705.4h.75"/>
<path stroke="#e04020" stroke-width=".75" d="M298.1 706.1h.75"/>
<path stroke="#e05020" stroke-width=".75" d="M298.9 704.6h.75"/>
<path stroke="#e06020" stroke-width=".75" d="M301.1 703.9h.75M301.9 703.9h.75M299.6 704.6h.75M297.4 705.4h.75M297.4 706.1h.75M298.9 706.1h.75"/>
<path stroke="#e08030" stroke-width=".75" d="M299.6 703.9h.75"/>
<path stroke="#e09030" stroke-width=".75" d="M302.6 703.1h.75M302.6 703.9h.75M301.9 704.6h.75"/>
<path stroke="#e0a030" stroke-width=".75" d="M300.4 703.1h.75"/>
<path stroke="#e0b030" stroke-width=".75" d="M298.9 703.9h.75M296.6 705.4h.75M300.4 705.4h.75M296.6 706.1h.75M297.4 706.9h.75M298.1 706.9h.75"/>
<path stroke="#e0c030" stroke-width=".75" d="M301.9 702.4h.75M302.6 702.4h.75M303.4 703.1h.75M299.6 706.1h.75"/>
<path stroke="#e0c040" stroke-width=".75" d="M302.6 704.6h.75"/>
<path stroke="#e0d040" stroke-width=".75" d="M301.1 702.4h.75M303.4 702.4h.75M303.4 703.9h.75M301.1 705.4h.75M298.9 706.9h.75"/>
<path stroke="#f06020" stroke-width=".75" d="M298.1 704.6h.75"/>
<path stroke="#f07020" stroke-width=".75" d="M300.4 703.9h.75M300.4 704.6h.75M299.6 705.4h.75"/>
<path stroke="#f07030" stroke-width=".75" d="M301.9 703.1h.75"/>
<path stroke="#f08030" stroke-width=".75" d="M301.1 703.1h.75M301.1 704.6h.75"/>
<path d="M13.3 771.4 V722.2 M13.3 771.4 H59.6" stroke="#111" stroke-width="1.3" fill="none"/>
<path d="M10.7 722.8 L13.3 719.2 L15.9 722.8 Z" fill="#111"/>
<path d="M59 768.8 L62.6 771.4 L59 774 Z" fill="#111"/>
<text transform="translate(16.7,711.7) rotate(-90)" font-size="10.4" font-weight="bold" text-anchor="middle" font-family="'Liberation Sans', Arial, sans-serif" fill="#111" stroke="#111" stroke-width="0.3">PI</text>
<text x="63.9" y="775" font-size="10.6" font-weight="bold" text-anchor="start" font-family="'Liberation Sans', Arial, sans-serif" fill="#111"  stroke="#111" stroke-width="0.3">FITC</text>
<text x="367" y="756.1" font-size="3.9" text-anchor="end" font-family="'Liberation Sans', Arial, sans-serif" fill="#444" font-style="italic">10⁰</text>
<text x="367" y="745.8" font-size="3.9" text-anchor="end" font-family="'Liberation Sans', Arial, sans-serif" fill="#444" font-style="italic">10¹</text>
<text x="367" y="732.3" font-size="3.9" text-anchor="end" font-family="'Liberation Sans', Arial, sans-serif" fill="#444" font-style="italic">10²</text>
<text x="367" y="720" font-size="3.9" text-anchor="end" font-family="'Liberation Sans', Arial, sans-serif" fill="#444" font-style="italic">10³</text>
<text x="367" y="707.1" font-size="3.9" text-anchor="end" font-family="'Liberation Sans', Arial, sans-serif" fill="#444" font-style="italic">10⁴</text>
<text x="367" y="695.1" font-size="3.9" text-anchor="end" font-family="'Liberation Sans', Arial, sans-serif" fill="#444" font-style="italic">10⁵</text>
<text x="367" y="681.9" font-size="3.9" text-anchor="end" font-family="'Liberation Sans', Arial, sans-serif" fill="#444" font-style="italic">10⁶</text>
<text x="367" y="669.7" font-size="3.9" text-anchor="end" font-family="'Liberation Sans', Arial, sans-serif" fill="#444" font-style="italic">10⁷</text>
<path d="M367.4 754.8H369.4M368.4 751.7H369.4M368.4 749.9H369.4M368.4 748.6H369.4M368.4 747.6H369.4M368.4 746.8H369.4M368.4 746.1H369.4M368.4 745.5H369.4M368.4 745H369.4M367.4 744.5H369.4M368.4 740.4H369.4M368.4 738.1H369.4M368.4 736.4H369.4M368.4 735.1H369.4M368.4 734H369.4M368.4 733.1H369.4M368.4 732.3H369.4M368.4 731.6H369.4M367.4 731H369.4M368.4 727.3H369.4M368.4 725.1H369.4M368.4 723.6H369.4M368.4 722.4H369.4M368.4 721.4H369.4M368.4 720.6H369.4M368.4 719.9H369.4M368.4 719.3H369.4M367.4 718.7H369.4M368.4 714.8H369.4M368.4 712.5H369.4M368.4 710.9H369.4M368.4 709.7H369.4M368.4 708.7H369.4M368.4 707.8H369.4M368.4 707.1H369.4M368.4 706.4H369.4M367.4 705.8H369.4M368.4 702.2H369.4M368.4 700.1H369.4M368.4 698.6H369.4M368.4 697.4H369.4M368.4 696.5H369.4M368.4 695.7H369.4M368.4 695H369.4M368.4 694.3H369.4M367.4 693.8H369.4M368.4 689.8H369.4M368.4 687.5H369.4M368.4 685.9H369.4M368.4 684.6H369.4M368.4 683.5H369.4M368.4 682.6H369.4M368.4 681.9H369.4M368.4 681.2H369.4M367.4 680.6H369.4M368.4 676.9H369.4M368.4 674.8H369.4M368.4 673.3H369.4M368.4 672.1H369.4M368.4 671.1H369.4M368.4 670.3H369.4M368.4 669.6H369.4M368.4 669H369.4M367.4 668.4H369.4M373.4 756.2V758.2M379.7 756.2V757.2M383.4 756.2V757.2M386.1 756.2V757.2M388.1 756.2V757.2M389.8 756.2V757.2M391.2 756.2V757.2M392.4 756.2V757.2M393.5 756.2V757.2M394.4 756.2V758.2M400.8 756.2V757.2M404.5 756.2V757.2M407.1 756.2V757.2M409.1 756.2V757.2M410.8 756.2V757.2M412.2 756.2V757.2M413.4 756.2V757.2M414.5 756.2V757.2M415.4 756.2V758.2M421.8 756.2V757.2M425.5 756.2V757.2M428.1 756.2V757.2M430.1 756.2V757.2M431.8 756.2V757.2M433.2 756.2V757.2M434.4 756.2V757.2M435.5 756.2V757.2M436.5 756.2V758.2M442.8 756.2V757.2M446.5 756.2V757.2M449.1 756.2V757.2M451.2 756.2V757.2M452.8 756.2V757.2M454.2 756.2V757.2M455.5 756.2V757.2M456.5 756.2V757.2M457.5 756.2V758.2" stroke="#333" stroke-width="0.6" fill="none"/>
<rect x="369.4" y="665.1" width="92.1" height="91.1" fill="none" stroke="#222" stroke-width="1.1"/>
<line x1="435.8" y1="665.1" x2="435.8" y2="756.2" stroke="#444" stroke-width="0.9"/>
<line x1="369.4" y1="692.6" x2="461.5" y2="692.6" stroke="#555" stroke-width="0.9"/>
<text x="371.6" y="671.6" font-size="3.6" font-weight="normal" text-anchor="start" font-family="'Liberation Sans', Arial, sans-serif" fill="#555" >Q1</text>
<text x="371.6" y="677.3" font-size="3.6" font-weight="normal" text-anchor="start" font-family="'Liberation Sans', Arial, sans-serif" fill="#555" >3.17</text>
<text x="454.5" y="671.6" font-size="3.6" font-weight="normal" text-anchor="end" font-family="'Liberation Sans', Arial, sans-serif" fill="#555" >Q2</text>
<text x="454.5" y="677.3" font-size="3.6" font-weight="normal" text-anchor="end" font-family="'Liberation Sans', Arial, sans-serif" fill="#555" >2.28</text>
<text x="371.6" y="746" font-size="3.6" font-weight="normal" text-anchor="start" font-family="'Liberation Sans', Arial, sans-serif" fill="#555" >Q4</text>
<text x="371.6" y="751.7" font-size="3.6" font-weight="normal" text-anchor="start" font-family="'Liberation Sans', Arial, sans-serif" fill="#555" >93.9</text>
<text x="454.5" y="746" font-size="3.6" font-weight="normal" text-anchor="end" font-family="'Liberation Sans', Arial, sans-serif" fill="#555" >Q3</text>
<text x="454.5" y="751.7" font-size="3.6" font-weight="normal" text-anchor="end" font-family="'Liberation Sans', Arial, sans-serif" fill="#555" >1.66</text>
<text x="372.4" y="763.6" font-size="3.6" text-anchor="middle" font-family="'Liberation Sans', Arial, sans-serif" fill="#555" font-style="italic">10⁰</text>
<text x="401.1" y="763.6" font-size="3.6" text-anchor="middle" font-family="'Liberation Sans', Arial, sans-serif" fill="#555" font-style="italic">10²</text>
<text x="429.8" y="763.6" font-size="3.6" text-anchor="middle" font-family="'Liberation Sans', Arial, sans-serif" fill="#555" font-style="italic">10⁴</text>
<text x="458.5" y="763.6" font-size="3.6" text-anchor="middle" font-family="'Liberation Sans', Arial, sans-serif" fill="#555" font-style="italic">10⁶</text>
<text x="477.3" y="756.7" font-size="3.9" text-anchor="end" font-family="'Liberation Sans', Arial, sans-serif" fill="#444" font-style="italic">10⁰</text>
<text x="477.3" y="746.4" font-size="3.9" text-anchor="end" font-family="'Liberation Sans', Arial, sans-serif" fill="#444" font-style="italic">10¹</text>
<text x="477.3" y="732.9" font-size="3.9" text-anchor="end" font-family="'Liberation Sans', Arial, sans-serif" fill="#444" font-style="italic">10²</text>
<text x="477.3" y="720.6" font-size="3.9" text-anchor="end" font-family="'Liberation Sans', Arial, sans-serif" fill="#444" font-style="italic">10³</text>
<text x="477.3" y="707.7" font-size="3.9" text-anchor="end" font-family="'Liberation Sans', Arial, sans-serif" fill="#444" font-style="italic">10⁴</text>
<text x="477.3" y="695.7" font-size="3.9" text-anchor="end" font-family="'Liberation Sans', Arial, sans-serif" fill="#444" font-style="italic">10⁵</text>
<text x="477.3" y="682.5" font-size="3.9" text-anchor="end" font-family="'Liberation Sans', Arial, sans-serif" fill="#444" font-style="italic">10⁶</text>
<text x="477.3" y="670.3" font-size="3.9" text-anchor="end" font-family="'Liberation Sans', Arial, sans-serif" fill="#444" font-style="italic">10⁷</text>
<path d="M477.7 755.4H479.7M478.7 752.3H479.7M478.7 750.5H479.7M478.7 749.2H479.7M478.7 748.2H479.7M478.7 747.4H479.7M478.7 746.7H479.7M478.7 746.1H479.7M478.7 745.6H479.7M477.7 745.1H479.7M478.7 741H479.7M478.7 738.7H479.7M478.7 737H479.7M478.7 735.7H479.7M478.7 734.6H479.7M478.7 733.7H479.7M478.7 732.9H479.7M478.7 732.2H479.7M477.7 731.6H479.7M478.7 727.9H479.7M478.7 725.7H479.7M478.7 724.2H479.7M478.7 723H479.7M478.7 722H479.7M478.7 721.2H479.7M478.7 720.5H479.7M478.7 719.9H479.7M477.7 719.3H479.7M478.7 715.4H479.7M478.7 713.1H479.7M478.7 711.5H479.7M478.7 710.3H479.7M478.7 709.3H479.7M478.7 708.4H479.7M478.7 707.7H479.7M478.7 707H479.7M477.7 706.4H479.7M478.7 702.8H479.7M478.7 700.7H479.7M478.7 699.2H479.7M478.7 698H479.7M478.7 697.1H479.7M478.7 696.3H479.7M478.7 695.6H479.7M478.7 694.9H479.7M477.7 694.4H479.7M478.7 690.4H479.7M478.7 688.1H479.7M478.7 686.5H479.7M478.7 685.2H479.7M478.7 684.1H479.7M478.7 683.2H479.7M478.7 682.5H479.7M478.7 681.8H479.7M477.7 681.2H479.7M478.7 677.5H479.7M478.7 675.4H479.7M478.7 673.9H479.7M478.7 672.7H479.7M478.7 671.7H479.7M478.7 670.9H479.7M478.7 670.2H479.7M478.7 669.6H479.7M477.7 669H479.7M483.7 756.8V758.8M490 756.8V757.8M493.7 756.8V757.8M496.3 756.8V757.8M498.3 756.8V757.8M499.9 756.8V757.8M501.3 756.8V757.8M502.6 756.8V757.8M503.6 756.8V757.8M504.6 756.8V758.8M510.9 756.8V757.8M514.5 756.8V757.8M517.1 756.8V757.8M519.2 756.8V757.8M520.8 756.8V757.8M522.2 756.8V757.8M523.4 756.8V757.8M524.5 756.8V757.8M525.5 756.8V758.8M531.7 756.8V757.8M535.4 756.8V757.8M538 756.8V757.8M540 756.8V757.8M541.7 756.8V757.8M543.1 756.8V757.8M544.3 756.8V757.8M545.4 756.8V757.8M546.3 756.8V758.8M552.6 756.8V757.8M556.3 756.8V757.8M558.9 756.8V757.8M560.9 756.8V757.8M562.6 756.8V757.8M564 756.8V757.8M565.2 756.8V757.8M566.2 756.8V757.8M567.2 756.8V758.8" stroke="#333" stroke-width="0.6" fill="none"/>
<rect x="479.7" y="665.1" width="91.5" height="91.7" fill="none" stroke="#222" stroke-width="1.1"/>
<line x1="545.5" y1="665.1" x2="545.5" y2="756.8" stroke="#444" stroke-width="0.9"/>
<line x1="479.7" y1="692.3" x2="571.2" y2="692.3" stroke="#555" stroke-width="0.9"/>
<text x="481.9" y="671.6" font-size="3.6" font-weight="normal" text-anchor="start" font-family="'Liberation Sans', Arial, sans-serif" fill="#555" >Q1</text>
<text x="481.9" y="677.3" font-size="3.6" font-weight="normal" text-anchor="start" font-family="'Liberation Sans', Arial, sans-serif" fill="#555" >0.29</text>
<text x="564.2" y="671.6" font-size="3.6" font-weight="normal" text-anchor="end" font-family="'Liberation Sans', Arial, sans-serif" fill="#555" >Q2</text>
<text x="564.2" y="677.3" font-size="3.6" font-weight="normal" text-anchor="end" font-family="'Liberation Sans', Arial, sans-serif" fill="#555" >3.08</text>
<text x="481.9" y="746.6" font-size="3.6" font-weight="normal" text-anchor="start" font-family="'Liberation Sans', Arial, sans-serif" fill="#555" >Q4</text>
<text x="481.9" y="752.3" font-size="3.6" font-weight="normal" text-anchor="start" font-family="'Liberation Sans', Arial, sans-serif" fill="#555" >87.9</text>
<text x="564.2" y="746.6" font-size="3.6" font-weight="normal" text-anchor="end" font-family="'Liberation Sans', Arial, sans-serif" fill="#555" >Q3</text>
<text x="564.2" y="752.3" font-size="3.6" font-weight="normal" text-anchor="end" font-family="'Liberation Sans', Arial, sans-serif" fill="#555" >8.73</text>
<text x="482.7" y="764.2" font-size="3.6" text-anchor="middle" font-family="'Liberation Sans', Arial, sans-serif" fill="#555" font-style="italic">10⁰</text>
<text x="511.2" y="764.2" font-size="3.6" text-anchor="middle" font-family="'Liberation Sans', Arial, sans-serif" fill="#555" font-style="italic">10²</text>
<text x="539.7" y="764.2" font-size="3.6" text-anchor="middle" font-family="'Liberation Sans', Arial, sans-serif" fill="#555" font-style="italic">10⁴</text>
<text x="568.2" y="764.2" font-size="3.6" text-anchor="middle" font-family="'Liberation Sans', Arial, sans-serif" fill="#555" font-style="italic">10⁶</text>
<text x="587.9" y="756.3" font-size="3.9" text-anchor="end" font-family="'Liberation Sans', Arial, sans-serif" fill="#444" font-style="italic">10⁰</text>
<text x="587.9" y="746" font-size="3.9" text-anchor="end" font-family="'Liberation Sans', Arial, sans-serif" fill="#444" font-style="italic">10¹</text>
<text x="587.9" y="732.5" font-size="3.9" text-anchor="end" font-family="'Liberation Sans', Arial, sans-serif" fill="#444" font-style="italic">10²</text>
<text x="587.9" y="720.2" font-size="3.9" text-anchor="end" font-family="'Liberation Sans', Arial, sans-serif" fill="#444" font-style="italic">10³</text>
<text x="587.9" y="707.3" font-size="3.9" text-anchor="end" font-family="'Liberation Sans', Arial, sans-serif" fill="#444" font-style="italic">10⁴</text>
<text x="587.9" y="695.3" font-size="3.9" text-anchor="end" font-family="'Liberation Sans', Arial, sans-serif" fill="#444" font-style="italic">10⁵</text>
<text x="587.9" y="682.1" font-size="3.9" text-anchor="end" font-family="'Liberation Sans', Arial, sans-serif" fill="#444" font-style="italic">10⁶</text>
<text x="587.9" y="669.9" font-size="3.9" text-anchor="end" font-family="'Liberation Sans', Arial, sans-serif" fill="#444" font-style="italic">10⁷</text>
<path d="M588.3 755H590.3M589.3 751.9H590.3M589.3 750.1H590.3M589.3 748.8H590.3M589.3 747.8H590.3M589.3 747H590.3M589.3 746.3H590.3M589.3 745.7H590.3M589.3 745.2H590.3M588.3 744.7H590.3M589.3 740.6H590.3M589.3 738.3H590.3M589.3 736.6H590.3M589.3 735.3H590.3M589.3 734.2H590.3M589.3 733.3H590.3M589.3 732.5H590.3M589.3 731.8H590.3M588.3 731.2H590.3M589.3 727.5H590.3M589.3 725.3H590.3M589.3 723.8H590.3M589.3 722.6H590.3M589.3 721.6H590.3M589.3 720.8H590.3M589.3 720.1H590.3M589.3 719.5H590.3M588.3 718.9H590.3M589.3 715H590.3M589.3 712.7H590.3M589.3 711.1H590.3M589.3 709.9H590.3M589.3 708.9H590.3M589.3 708H590.3M589.3 707.3H590.3M589.3 706.6H590.3M588.3 706H590.3M589.3 702.4H590.3M589.3 700.3H590.3M589.3 698.8H590.3M589.3 697.6H590.3M589.3 696.7H590.3M589.3 695.9H590.3M589.3 695.2H590.3M589.3 694.5H590.3M588.3 694H590.3M589.3 690H590.3M589.3 687.7H590.3M589.3 686.1H590.3M589.3 684.8H590.3M589.3 683.7H590.3M589.3 682.8H590.3M589.3 682.1H590.3M589.3 681.4H590.3M588.3 680.8H590.3M589.3 677.1H590.3M589.3 675H590.3M589.3 673.5H590.3M589.3 672.3H590.3M589.3 671.3H590.3M589.3 670.5H590.3M589.3 669.8H590.3M589.3 669.2H590.3M588.3 668.6H590.3M594.3 756.4V758.4M600.6 756.4V757.4M604.3 756.4V757.4M606.9 756.4V757.4M608.9 756.4V757.4M610.6 756.4V757.4M612 756.4V757.4M613.2 756.4V757.4M614.3 756.4V757.4M615.2 756.4V758.4M621.5 756.4V757.4M625.2 756.4V757.4M627.8 756.4V757.4M629.9 756.4V757.4M631.5 756.4V757.4M632.9 756.4V757.4M634.1 756.4V757.4M635.2 756.4V757.4M636.1 756.4V758.4M642.4 756.4V757.4M646.1 756.4V757.4M648.7 756.4V757.4M650.8 756.4V757.4M652.4 756.4V757.4M653.8 756.4V757.4M655 756.4V757.4M656.1 756.4V757.4M657.1 756.4V758.4M663.4 756.4V757.4M667.1 756.4V757.4M669.7 756.4V757.4M671.7 756.4V757.4M673.4 756.4V757.4M674.8 756.4V757.4M676 756.4V757.4M677 756.4V757.4M678 756.4V758.4" stroke="#333" stroke-width="0.6" fill="none"/>
<rect x="590.3" y="664.6" width="91.7" height="91.8" fill="none" stroke="#222" stroke-width="1.1"/>
<line x1="656.7" y1="664.6" x2="656.7" y2="756.4" stroke="#444" stroke-width="0.9"/>
<line x1="590.3" y1="692.3" x2="682" y2="692.3" stroke="#555" stroke-width="0.9"/>
<text x="592.5" y="671.1" font-size="3.6" font-weight="normal" text-anchor="start" font-family="'Liberation Sans', Arial, sans-serif" fill="#555" >Q1</text>
<text x="592.5" y="676.8" font-size="3.6" font-weight="normal" text-anchor="start" font-family="'Liberation Sans', Arial, sans-serif" fill="#555" >0.53</text>
<text x="675" y="671.1" font-size="3.6" font-weight="normal" text-anchor="end" font-family="'Liberation Sans', Arial, sans-serif" fill="#555" >Q2</text>
<text x="675" y="676.8" font-size="3.6" font-weight="normal" text-anchor="end" font-family="'Liberation Sans', Arial, sans-serif" fill="#555" >5.28</text>
<text x="592.5" y="746.2" font-size="3.6" font-weight="normal" text-anchor="start" font-family="'Liberation Sans', Arial, sans-serif" fill="#555" >Q4</text>
<text x="592.5" y="751.9" font-size="3.6" font-weight="normal" text-anchor="start" font-family="'Liberation Sans', Arial, sans-serif" fill="#555" >79.1</text>
<text x="675" y="746.2" font-size="3.6" font-weight="normal" text-anchor="end" font-family="'Liberation Sans', Arial, sans-serif" fill="#555" >Q3</text>
<text x="675" y="751.9" font-size="3.6" font-weight="normal" text-anchor="end" font-family="'Liberation Sans', Arial, sans-serif" fill="#555" >15.1</text>
<text x="593.3" y="763.8" font-size="3.6" text-anchor="middle" font-family="'Liberation Sans', Arial, sans-serif" fill="#555" font-style="italic">10⁰</text>
<text x="621.9" y="763.8" font-size="3.6" text-anchor="middle" font-family="'Liberation Sans', Arial, sans-serif" fill="#555" font-style="italic">10²</text>
<text x="650.4" y="763.8" font-size="3.6" text-anchor="middle" font-family="'Liberation Sans', Arial, sans-serif" fill="#555" font-style="italic">10⁴</text>
<text x="679" y="763.8" font-size="3.6" text-anchor="middle" font-family="'Liberation Sans', Arial, sans-serif" fill="#555" font-style="italic">10⁶</text>
<path stroke="#2050c0" stroke-width=".75" d="M454.1 682.7h.75M454.9 683.5h.75M455.6 683.5h.75M454.9 684.2h.75M456.4 684.2h.75M454.1 685.0h.75M452.6 685.7h.75M453.4 685.7h.75M454.1 685.7h.75M455.6 685.7h.75M447.4 686.5h.75M448.1 686.5h.75M454.1 686.5h.75M448.9 687.2h.75M451.1 690.2h.75M450.4 691.0h.75M451.1 691.0h.75M428.6 697.7h.75M429.4 697.7h.75M427.1 698.5h.75M424.1 700.0h.75M424.9 700.0h.75M423.4 700.7h.75M420.4 703.0h.75M433.1 703.7h.75M417.4 704.5h.75M432.4 704.5h.75M409.9 706.7h.75M407.6 709.7h.75M408.4 709.7h.75M405.4 711.2h.75M406.9 711.2h.75M400.9 712.0h.75M401.6 712.0h.75M404.6 712.0h.75M427.9 712.0h.75M401.6 712.7h.75M427.1 712.7h.75M401.6 713.5h.75M426.4 714.2h.75M399.4 715.0h.75M400.1 715.0h.75M401.6 715.0h.75M401.6 715.7h.75M395.6 716.5h.75M400.9 716.5h.75M394.9 717.2h.75M399.4 717.2h.75M400.1 717.2h.75M400.9 717.2h.75M402.4 717.2h.75M394.9 718.0h.75M395.6 718.0h.75M417.4 718.0h.75M421.1 718.0h.75M417.4 718.7h.75M419.6 718.7h.75M402.4 719.5h.75M416.6 719.5h.75M402.4 720.2h.75M403.9 720.2h.75M416.6 720.2h.75M407.6 721.0h.75M408.4 721.0h.75M411.4 721.0h.75M413.6 721.0h.75M415.1 721.0h.75M414.4 721.7h.75M410.6 724.7h.75M411.4 724.7h.75M410.6 725.5h.75M411.4 725.5h.75"/>
<path stroke="#2060b0" stroke-width=".75" d="M421.9 703.0h.75M432.4 703.0h.75M418.9 704.5h.75M431.6 704.5h.75M415.1 706.0h.75M412.9 707.5h.75M413.6 707.5h.75M409.9 709.7h.75M405.4 712.7h.75M409.1 713.5h.75M403.1 714.2h.75M403.9 714.2h.75M418.9 717.2h.75M419.6 717.2h.75M408.4 719.5h.75M412.1 719.5h.75M409.9 720.2h.75"/>
<path stroke="#2060c0" stroke-width=".75" d="M450.4 689.5h.75M434.6 696.2h.75M427.1 699.2h.75M424.1 700.7h.75M433.1 702.2h.75M419.6 703.7h.75M432.4 705.2h.75M411.4 706.7h.75M412.1 706.7h.75M410.6 708.2h.75M429.4 709.0h.75M409.1 709.7h.75M409.1 710.5h.75M428.6 710.5h.75M407.6 711.2h.75M408.4 711.2h.75M427.9 711.2h.75M406.9 712.0h.75M407.6 712.0h.75M403.1 713.5h.75M402.4 714.2h.75M421.9 715.0h.75M402.4 715.7h.75M403.9 715.7h.75M403.9 716.5h.75M403.1 717.2h.75M403.9 717.2h.75M417.4 717.2h.75M403.1 718.0h.75M403.9 718.0h.75M419.6 718.0h.75M420.4 718.0h.75M404.6 718.7h.75M415.9 718.7h.75M406.1 719.5h.75M407.6 719.5h.75M415.9 719.5h.75M410.6 720.2h.75M413.6 720.2h.75M414.4 720.2h.75"/>
<path stroke="#2070b0" stroke-width=".75" d="M432.4 696.2h.75M433.9 696.2h.75M435.4 697.7h.75M427.9 699.2h.75M435.4 699.2h.75M435.4 700.0h.75M432.4 702.2h.75M431.6 703.7h.75M416.6 705.2h.75M411.4 707.5h.75M429.4 708.2h.75M406.1 712.7h.75M426.4 712.7h.75M404.6 714.2h.75M424.9 714.2h.75M421.1 715.0h.75M405.4 715.7h.75M415.9 717.2h.75M405.4 718.0h.75M406.1 718.0h.75M415.1 718.0h.75M405.4 718.7h.75M406.1 718.7h.75M409.1 718.7h.75M409.9 718.7h.75M409.1 719.5h.75M409.9 719.5h.75M411.4 719.5h.75M413.6 719.5h.75"/>
<path stroke="#2080b0" stroke-width=".75" d="M433.1 696.2h.75M431.6 697.0h.75M434.6 697.0h.75M430.9 697.7h.75M430.1 698.5h.75M435.4 698.5h.75M428.6 699.2h.75M434.6 700.0h.75M425.6 700.7h.75M433.9 700.7h.75M424.9 701.5h.75M433.1 701.5h.75M423.4 702.2h.75M431.6 702.2h.75M422.6 703.0h.75M418.9 705.2h.75M415.9 706.0h.75M415.1 706.7h.75M430.1 706.7h.75M415.1 707.5h.75M414.4 708.2h.75M411.4 709.0h.75M428.6 709.0h.75M427.9 710.5h.75M426.4 712.0h.75M407.6 713.5h.75M409.9 713.5h.75M425.6 713.5h.75M422.6 714.2h.75M424.1 714.2h.75M405.4 715.0h.75M409.1 715.0h.75M406.9 715.7h.75M408.4 715.7h.75M406.9 716.5h.75M407.6 716.5h.75M409.1 716.5h.75M418.9 716.5h.75M406.9 717.2h.75M407.6 717.2h.75M409.1 717.2h.75M409.9 717.2h.75M410.6 717.2h.75M406.9 718.0h.75M407.6 718.0h.75M408.4 718.0h.75M414.4 718.0h.75M413.6 718.7h.75"/>
<path stroke="#2090a0" stroke-width=".75" d="M425.6 701.5h.75M406.9 715.0h.75"/>
<path stroke="#2090b0" stroke-width=".75" d="M432.4 697.0h.75M429.4 699.2h.75M427.9 700.0h.75M426.4 700.7h.75M433.1 700.7h.75M430.9 701.5h.75M430.9 703.7h.75M421.1 704.5h.75M416.6 706.0h.75M412.9 709.0h.75M413.6 709.0h.75M410.6 710.5h.75M427.1 710.5h.75M410.6 712.0h.75M410.6 712.7h.75M406.1 713.5h.75M406.9 713.5h.75M406.1 714.2h.75M407.6 714.2h.75M421.1 714.2h.75M406.1 715.0h.75M407.6 715.0h.75M409.9 715.0h.75M420.4 715.0h.75M410.6 716.5h.75M414.4 717.2h.75M412.9 718.0h.75M413.6 718.0h.75"/>
<path stroke="#3060c0" stroke-width=".75" d="M455.6 681.2h.75M457.1 681.2h.75M457.1 682.0h.75M446.6 682.7h.75M447.4 682.7h.75M457.1 683.5h.75M448.1 684.2h.75M448.9 684.2h.75M449.6 685.7h.75M457.1 685.7h.75M446.6 686.5h.75M451.9 686.5h.75M456.4 686.5h.75M458.6 686.5h.75M452.6 687.2h.75M454.1 687.2h.75M456.4 687.2h.75M449.6 688.0h.75M451.1 688.0h.75M448.9 688.7h.75M449.6 690.2h.75M451.9 691.0h.75M448.9 692.5h.75M449.6 692.5h.75M449.6 694.0h.75M424.9 699.2h.75M435.4 701.5h.75M420.4 702.2h.75M433.9 703.7h.75M439.9 703.7h.75M439.9 704.5h.75M412.1 705.2h.75M409.9 706.0h.75M406.1 709.0h.75M405.4 709.7h.75M403.1 711.2h.75M400.1 712.0h.75M398.6 712.7h.75M394.9 713.5h.75M396.4 713.5h.75M397.1 713.5h.75M397.9 714.2h.75M399.4 714.2h.75M395.6 715.0h.75M394.9 715.7h.75M398.6 715.7h.75M397.1 716.5h.75M397.9 718.0h.75M399.4 718.0h.75M394.1 718.7h.75M397.1 718.7h.75M401.6 719.5h.75M395.6 720.2h.75M396.4 721.0h.75M402.4 721.0h.75M403.1 721.0h.75M406.9 721.7h.75M415.9 721.7h.75M406.1 722.5h.75M406.9 722.5h.75M418.1 722.5h.75M411.4 723.2h.75M415.9 723.2h.75M417.4 723.2h.75M418.9 723.2h.75M410.6 724.0h.75M410.6 726.2h.75M415.9 726.2h.75M420.4 730.7h.75M421.1 730.7h.75M419.6 731.5h.75M416.6 732.2h.75M412.1 735.2h.75M412.1 736.0h.75M409.9 737.5h.75M419.6 738.2h.75M420.4 739.0h.75"/>
<path stroke="#3060d0" stroke-width=".75" d="M456.4 680.5h.75M451.1 685.0h.75M457.1 688.0h.75M458.6 688.0h.75M446.6 688.7h.75M452.6 690.2h.75M450.4 694.0h.75M440.6 701.5h.75M405.4 706.0h.75M406.1 706.0h.75M408.4 707.5h.75M405.4 708.2h.75M398.6 712.0h.75M392.6 715.7h.75M442.1 715.7h.75M441.4 716.5h.75M414.4 723.2h.75M412.9 724.0h.75M417.4 725.5h.75M415.1 726.2h.75M418.1 726.2h.75M418.1 727.0h.75M415.1 727.7h.75M416.6 727.7h.75M421.9 730.0h.75M413.6 730.7h.75M415.9 731.5h.75M411.4 734.5h.75M409.9 736.7h.75M411.4 737.5h.75M409.9 738.2h.75M418.1 739.0h.75M418.9 739.7h.75"/>
<path stroke="#3090a0" stroke-width=".75" d="M430.9 698.5h.75M432.4 700.7h.75M411.4 717.2h.75"/>
<path stroke="#30a080" stroke-width=".75" d="M431.6 698.5h.75M430.9 700.0h.75M431.6 700.0h.75M427.9 700.7h.75M429.4 700.7h.75M426.4 701.5h.75M424.9 702.2h.75M430.1 703.0h.75M430.1 703.7h.75M421.1 705.2h.75M420.4 706.0h.75M416.6 706.7h.75M429.4 706.7h.75M415.9 708.2h.75M427.9 708.2h.75M415.1 709.0h.75M412.1 709.7h.75M427.1 709.7h.75M411.4 710.5h.75M425.6 711.2h.75M411.4 712.0h.75M411.4 712.7h.75M411.4 713.5h.75M422.6 713.5h.75M424.1 713.5h.75M419.6 715.0h.75M411.4 715.7h.75M416.6 715.7h.75M412.1 717.2h.75M412.9 717.2h.75"/>
<path stroke="#30a090" stroke-width=".75" d="M433.1 697.0h.75M430.9 699.2h.75M429.4 700.0h.75M430.1 700.0h.75M433.1 700.0h.75M430.9 700.7h.75M430.1 701.5h.75M421.9 704.5h.75M430.1 705.2h.75M419.6 706.0h.75M426.4 710.5h.75M421.9 713.5h.75M410.6 714.2h.75M417.4 715.7h.75M418.9 715.7h.75M411.4 716.5h.75M414.4 716.5h.75"/>
<path stroke="#30a0a0" stroke-width=".75" d="M433.9 697.0h.75M434.6 697.7h.75M428.6 700.0h.75M427.1 700.7h.75M431.6 700.7h.75M424.1 702.2h.75M420.4 705.2h.75M417.4 706.0h.75M418.1 706.0h.75M415.9 707.5h.75M424.9 713.5h.75M406.9 714.2h.75M410.6 715.0h.75"/>
<path stroke="#4060d0" stroke-width=".75" d="M458.6 683.5h.75M460.1 686.5h.75M445.1 687.2h.75M445.9 688.7h.75M454.1 688.7h.75M448.1 694.0h.75M428.6 696.2h.75M438.4 703.0h.75M405.4 705.2h.75M407.6 706.7h.75M443.6 706.7h.75M444.4 707.5h.75M436.1 708.2h.75M436.1 709.0h.75M440.6 709.0h.75M403.9 709.7h.75M401.6 710.5h.75M437.6 710.5h.75M445.9 712.7h.75M446.6 713.5h.75M446.6 714.2h.75M392.6 715.0h.75M442.1 715.0h.75M440.6 715.7h.75M391.1 716.5h.75M391.1 717.2h.75M421.9 719.5h.75M397.9 721.0h.75M418.9 721.0h.75M394.9 721.7h.75M404.6 721.7h.75M413.6 725.5h.75M414.4 728.5h.75M412.9 729.2h.75M412.1 730.7h.75M418.1 730.7h.75M412.9 731.5h.75M422.6 731.5h.75M415.9 733.7h.75M420.4 733.7h.75M417.4 734.5h.75M420.4 734.5h.75M416.6 735.2h.75M418.9 736.7h.75M417.4 738.2h.75M421.1 738.2h.75M408.4 739.0h.75"/>
<path stroke="#4070d0" stroke-width=".75" d="M449.6 682.7h.75M445.1 691.0h.75M445.9 691.7h.75M452.6 693.2h.75M437.6 698.5h.75M441.4 700.0h.75M438.4 701.5h.75M417.4 702.2h.75M436.9 704.5h.75M436.1 706.7h.75M439.9 706.7h.75M442.1 707.5h.75M439.1 709.7h.75M442.1 709.7h.75M396.4 711.2h.75M436.9 711.2h.75M392.6 718.7h.75M393.4 721.7h.75M421.9 721.7h.75M401.6 722.5h.75M420.4 723.2h.75M421.1 728.5h.75M424.1 730.7h.75M415.9 736.7h.75M415.9 739.7h.75M421.9 739.7h.75M408.4 740.5h.75"/>
<path stroke="#40a070" stroke-width=".75" d="M433.9 699.2h.75M412.9 709.7h.75M413.6 709.7h.75M425.6 710.5h.75M423.4 713.5h.75M411.4 714.2h.75M411.4 715.0h.75"/>
<path stroke="#40a080" stroke-width=".75" d="M428.6 700.7h.75M411.4 711.2h.75M424.9 712.7h.75"/>
<path stroke="#40b050" stroke-width=".75" d="M427.9 701.5h.75M428.6 701.5h.75M429.4 706.0h.75M424.1 709.7h.75M424.1 710.5h.75M412.1 712.0h.75M424.1 712.7h.75M419.6 714.2h.75M418.9 715.0h.75M412.9 715.7h.75"/>
<path stroke="#40b060" stroke-width=".75" d="M433.1 697.7h.75M433.9 697.7h.75M432.4 698.5h.75M433.9 698.5h.75M433.1 699.2h.75M427.1 701.5h.75M429.4 702.2h.75M424.1 703.0h.75M421.9 705.2h.75M421.1 706.0h.75M417.4 706.7h.75M418.1 706.7h.75M419.6 706.7h.75M427.9 707.5h.75M427.1 709.0h.75M424.9 709.7h.75M426.4 709.7h.75M412.1 710.5h.75M424.9 711.2h.75M424.9 712.0h.75M412.1 712.7h.75M421.1 712.7h.75M421.9 712.7h.75M412.1 713.5h.75M420.4 713.5h.75M412.1 714.2h.75M412.1 715.0h.75M412.1 715.7h.75M415.1 715.7h.75M412.9 716.5h.75"/>
<path stroke="#40b070" stroke-width=".75" d="M432.4 699.2h.75M423.4 703.7h.75M422.6 704.5h.75M415.9 715.7h.75M412.1 716.5h.75"/>
<path stroke="#5070d0" stroke-width=".75" d="M460.1 681.2h.75M455.6 691.0h.75M419.6 699.2h.75M404.6 700.0h.75M445.9 705.2h.75M433.1 707.5h.75M390.4 712.7h.75M430.1 714.2h.75M438.4 716.5h.75M394.9 724.0h.75M404.6 724.7h.75M421.9 726.2h.75"/>
<path stroke="#50b050" stroke-width=".75" d="M433.1 698.5h.75M426.4 702.2h.75M423.4 704.5h.75M428.6 706.7h.75M427.1 708.2h.75M412.9 710.5h.75M412.1 711.2h.75M424.1 711.2h.75M424.1 712.0h.75M423.4 712.7h.75M412.9 714.2h.75M412.9 715.0h.75M418.1 715.0h.75M413.6 715.7h.75"/>
<path stroke="#60c050" stroke-width=".75" d="M422.6 705.2h.75M417.4 707.5h.75M424.1 709.0h.75M424.9 709.0h.75M415.1 709.7h.75M413.6 710.5h.75M420.4 712.7h.75M413.6 713.5h.75M416.6 715.0h.75"/>
<path stroke="#70c050" stroke-width=".75" d="M424.9 703.0h.75M424.1 703.7h.75M429.4 705.2h.75M421.1 706.7h.75M423.4 709.0h.75M426.4 709.0h.75M423.4 709.7h.75M412.9 712.0h.75M422.6 712.0h.75M423.4 712.0h.75M413.6 714.2h.75M413.6 715.0h.75"/>
<path stroke="#80c040" stroke-width=".75" d="M427.1 702.2h.75M428.6 702.2h.75M421.9 706.7h.75M427.9 706.7h.75M423.4 708.2h.75M424.1 708.2h.75M414.4 710.5h.75M423.4 710.5h.75M423.4 711.2h.75M413.6 712.7h.75M418.9 714.2h.75M414.4 715.0h.75"/>
<path stroke="#80c050" stroke-width=".75" d="M429.4 704.5h.75M412.9 711.2h.75M421.9 712.0h.75M419.6 713.5h.75M415.9 715.0h.75"/>
<path stroke="#90c040" stroke-width=".75" d="M427.9 702.2h.75M422.6 706.0h.75M418.1 707.5h.75M426.4 708.2h.75M421.1 712.0h.75M415.1 715.0h.75"/>
<path stroke="#a0c040" stroke-width=".75" d="M425.6 703.0h.75M422.6 706.7h.75M418.9 707.5h.75M422.6 707.5h.75M423.4 707.5h.75M422.6 708.2h.75M424.9 708.2h.75M413.6 712.0h.75M414.4 713.5h.75"/>
<path stroke="#a0d040" stroke-width=".75" d="M424.1 704.5h.75M416.6 709.0h.75M415.9 709.7h.75M419.6 712.7h.75M416.6 714.2h.75M417.4 714.2h.75M418.1 714.2h.75"/>
<path stroke="#b0d040" stroke-width=".75" d="M428.6 703.0h.75M423.4 706.0h.75M428.6 706.0h.75M427.1 706.7h.75M420.4 707.5h.75M421.1 707.5h.75M421.9 707.5h.75M424.1 707.5h.75M425.6 708.2h.75M422.6 709.0h.75M422.6 711.2h.75M418.9 713.5h.75M415.1 714.2h.75M415.9 714.2h.75"/>
<path stroke="#c0d040" stroke-width=".75" d="M426.4 703.0h.75M424.1 705.2h.75M423.4 706.7h.75M425.6 707.5h.75M417.4 708.2h.75M422.6 709.7h.75M415.1 710.5h.75M422.6 710.5h.75M414.4 712.7h.75"/>
<path stroke="#d0d040" stroke-width=".75" d="M424.9 703.7h.75M428.6 703.7h.75M424.1 706.7h.75M426.4 706.7h.75M414.4 711.2h.75M421.9 711.2h.75M419.6 712.0h.75M418.9 712.7h.75M415.9 713.5h.75M416.6 713.5h.75M417.4 713.5h.75M418.1 713.5h.75"/>
<path stroke="#e02020" stroke-width=".75" d="M418.9 709.7h.75"/>
<path stroke="#e03020" stroke-width=".75" d="M418.1 709.7h.75"/>
<path stroke="#e04020" stroke-width=".75" d="M419.6 709.7h.75M418.1 710.5h.75"/>
<path stroke="#e05020" stroke-width=".75" d="M419.6 709.0h.75M420.4 709.7h.75M418.9 710.5h.75"/>
<path stroke="#e06020" stroke-width=".75" d="M426.4 704.5h.75M427.1 704.5h.75M418.1 709.0h.75M417.4 710.5h.75M419.6 710.5h.75"/>
<path stroke="#e08030" stroke-width=".75" d="M427.9 704.5h.75M425.6 705.2h.75"/>
<path stroke="#e09030" stroke-width=".75" d="M426.4 703.7h.75M427.1 703.7h.75M427.9 705.2h.75M416.6 710.5h.75M421.1 710.5h.75M415.9 711.2h.75M415.9 712.0h.75M416.6 712.0h.75"/>
<path stroke="#e0a030" stroke-width=".75" d="M427.9 703.7h.75M426.4 706.0h.75M418.9 708.2h.75M419.6 708.2h.75M421.9 709.7h.75M417.4 712.0h.75"/>
<path stroke="#e0b030" stroke-width=".75" d="M425.6 703.7h.75M425.6 706.0h.75M427.1 706.0h.75M420.4 708.2h.75M417.4 709.0h.75M421.9 709.0h.75M421.9 710.5h.75M415.1 711.2h.75M419.6 711.2h.75M415.1 712.0h.75M418.1 712.0h.75M415.9 712.7h.75"/>
<path stroke="#e0c030" stroke-width=".75" d="M424.9 704.5h.75M418.1 708.2h.75M421.1 708.2h.75M416.6 709.7h.75M415.9 710.5h.75M420.4 711.2h.75M416.6 712.7h.75"/>
<path stroke="#e0c040" stroke-width=".75" d="M424.9 706.0h.75M427.9 706.0h.75M418.9 712.0h.75M417.4 712.7h.75"/>
<path stroke="#e0d040" stroke-width=".75" d="M427.1 703.0h.75M427.9 703.0h.75M428.6 704.5h.75M428.6 705.2h.75M424.1 706.0h.75M424.9 706.7h.75M425.6 706.7h.75M421.9 708.2h.75M421.1 711.2h.75M414.4 712.0h.75M415.1 712.7h.75"/>
<path stroke="#f06020" stroke-width=".75" d="M426.4 705.2h.75M420.4 709.0h.75"/>
<path stroke="#f07020" stroke-width=".75" d="M427.1 705.2h.75M417.4 709.7h.75M421.1 709.7h.75M417.4 711.2h.75"/>
<path stroke="#f07030" stroke-width=".75" d="M420.4 710.5h.75"/>
<path stroke="#f08030" stroke-width=".75" d="M425.6 704.5h.75M421.1 709.0h.75M416.6 711.2h.75M418.1 711.2h.75"/>
<path stroke="#2050c0" stroke-width=".75" d="M564.5 685.7h.75M565.2 685.7h.75M564.5 686.5h.75M565.2 686.5h.75M564.5 687.2h.75M565.2 687.2h.75M566.0 687.2h.75M559.2 688.0h.75M563.7 688.0h.75M565.2 688.0h.75M566.7 688.0h.75M557.7 688.7h.75M558.5 688.7h.75M560.0 688.7h.75M560.7 688.7h.75M565.2 688.7h.75M567.5 688.7h.75M557.7 689.5h.75M560.0 689.5h.75M566.7 689.5h.75M542.0 690.2h.75M542.7 690.2h.75M563.0 690.2h.75M564.5 690.2h.75M566.7 690.2h.75M568.2 690.2h.75M562.2 691.0h.75M563.0 691.0h.75M564.5 691.0h.75M565.2 691.0h.75M566.7 691.0h.75M569.0 691.0h.75M563.7 691.7h.75M566.7 691.7h.75M538.2 692.5h.75M546.5 692.5h.75M562.2 692.5h.75M563.0 692.5h.75M563.7 692.5h.75M566.0 692.5h.75M566.7 692.5h.75M568.2 692.5h.75M557.0 693.2h.75M557.7 693.2h.75M559.2 693.2h.75M560.0 693.2h.75M560.7 693.2h.75M562.2 693.2h.75M563.0 693.2h.75M566.7 693.2h.75M567.5 693.2h.75M568.2 693.2h.75M556.2 694.0h.75M557.7 694.0h.75M558.5 694.0h.75M560.7 694.0h.75M533.7 694.7h.75M534.5 694.7h.75M556.2 694.7h.75M559.2 694.7h.75M560.0 694.7h.75M547.2 695.5h.75M550.2 695.5h.75M555.5 695.5h.75M556.2 695.5h.75M557.0 695.5h.75M532.2 696.2h.75M546.5 696.2h.75M555.5 696.2h.75M558.5 696.2h.75M555.5 697.0h.75M557.0 697.0h.75M557.7 697.0h.75M559.2 697.0h.75M560.0 697.0h.75M545.0 697.7h.75M555.5 697.7h.75M556.2 697.7h.75M557.0 697.7h.75M558.5 697.7h.75M560.7 697.7h.75M545.0 698.5h.75M555.5 698.5h.75M558.5 698.5h.75M543.5 699.2h.75M556.2 699.2h.75M557.0 699.2h.75M557.7 699.2h.75M528.5 700.0h.75M530.0 700.0h.75M528.5 700.7h.75M542.0 700.7h.75M550.2 700.7h.75M551.7 700.7h.75M554.0 700.7h.75M527.0 701.5h.75M541.2 701.5h.75M550.2 701.5h.75M551.0 701.5h.75M551.7 701.5h.75M553.2 701.5h.75M554.0 701.5h.75M553.2 702.2h.75M554.0 702.2h.75M526.2 703.0h.75M550.2 703.0h.75M551.7 703.0h.75M552.5 703.0h.75M553.2 703.0h.75M538.2 703.7h.75M551.0 703.7h.75M536.7 704.5h.75M522.5 705.2h.75M535.2 706.0h.75M521.7 706.7h.75M533.7 706.7h.75M534.5 706.7h.75M521.0 708.2h.75M520.2 709.0h.75M530.0 709.0h.75M520.2 709.7h.75M528.5 709.7h.75M529.2 709.7h.75M521.0 710.5h.75M521.7 710.5h.75M526.2 710.5h.75M528.5 710.5h.75M521.7 711.2h.75M524.7 711.2h.75M527.0 711.2h.75M527.7 711.2h.75M525.5 712.0h.75M526.2 712.0h.75M518.7 712.7h.75M520.2 712.7h.75M526.2 712.7h.75M516.5 715.0h.75M514.2 715.7h.75M515.7 715.7h.75M516.5 715.7h.75M520.2 715.7h.75M514.2 716.5h.75M515.0 716.5h.75M520.2 716.5h.75M515.7 717.2h.75M517.2 717.2h.75M518.7 717.2h.75M516.5 718.0h.75M517.2 718.0h.75M512.7 718.7h.75M513.5 718.7h.75M517.2 718.7h.75M513.5 719.5h.75M516.5 719.5h.75M515.0 720.2h.75M515.7 720.2h.75M513.5 721.0h.75M513.5 721.7h.75"/>
<path stroke="#2060b0" stroke-width=".75" d="M536.0 694.7h.75M528.5 702.2h.75M537.5 703.7h.75M534.5 705.2h.75M522.5 706.7h.75M530.0 708.2h.75M524.7 709.0h.75M523.2 710.5h.75M524.0 710.5h.75M518.7 716.5h.75"/>
<path stroke="#2060c0" stroke-width=".75" d="M567.5 690.2h.75M540.5 691.0h.75M544.2 691.0h.75M567.5 691.0h.75M568.2 691.0h.75M568.2 691.7h.75M565.2 692.5h.75M536.7 694.0h.75M547.2 694.0h.75M547.2 694.7h.75M533.7 695.5h.75M533.0 696.2h.75M532.2 697.7h.75M528.5 701.5h.75M539.7 702.2h.75M551.0 702.2h.75M551.7 702.2h.75M527.0 703.0h.75M533.7 706.0h.75M533.0 706.7h.75M532.2 707.5h.75M533.7 707.5h.75M521.7 708.2h.75M521.7 709.0h.75M529.2 709.0h.75M521.7 709.7h.75M524.7 709.7h.75M526.2 709.7h.75M527.0 709.7h.75M527.7 709.7h.75M522.5 710.5h.75M524.7 710.5h.75M520.2 713.5h.75M520.2 714.2h.75M517.2 715.7h.75M517.2 716.5h.75M519.5 716.5h.75M514.2 718.7h.75M515.0 718.7h.75M515.7 718.7h.75M516.5 718.7h.75M514.2 719.5h.75M515.7 719.5h.75M514.2 720.2h.75M517.2 720.2h.75"/>
<path stroke="#2070b0" stroke-width=".75" d="M541.2 691.0h.75M543.5 691.0h.75M539.7 691.7h.75M539.0 692.5h.75M545.7 692.5h.75M538.2 693.2h.75M537.5 694.0h.75M546.5 695.5h.75M533.7 696.2h.75M545.7 696.2h.75M533.0 697.0h.75M544.2 697.7h.75M532.2 698.5h.75M531.5 699.2h.75M530.7 700.0h.75M541.2 700.7h.75M530.0 701.5h.75M528.5 703.0h.75M538.2 703.0h.75M527.0 703.7h.75M536.7 703.7h.75M525.5 704.5h.75M534.5 704.5h.75M535.2 704.5h.75M533.0 705.2h.75M533.7 705.2h.75M523.2 706.0h.75M532.2 706.7h.75M523.2 707.5h.75M530.7 707.5h.75M531.5 707.5h.75M522.5 708.2h.75M524.0 708.2h.75M524.7 708.2h.75M526.2 708.2h.75M528.5 708.2h.75M529.2 708.2h.75M522.5 709.0h.75M523.2 709.0h.75M526.2 709.0h.75M527.0 709.0h.75M523.2 709.7h.75M524.0 709.7h.75M518.7 713.5h.75M519.5 713.5h.75M518.0 715.0h.75M518.7 715.7h.75"/>
<path stroke="#2080b0" stroke-width=".75" d="M542.7 691.0h.75M540.5 691.7h.75M544.2 691.7h.75M546.5 694.0h.75M546.5 694.7h.75M535.2 695.5h.75M533.0 697.7h.75M531.5 700.0h.75M542.0 700.0h.75M530.7 700.7h.75M530.7 701.5h.75M539.7 701.5h.75M530.0 702.2h.75M530.7 702.2h.75M539.0 702.2h.75M530.0 703.0h.75M530.7 703.0h.75M532.2 703.0h.75M536.7 703.0h.75M527.7 703.7h.75M528.5 703.7h.75M529.2 703.7h.75M530.0 703.7h.75M532.2 703.7h.75M533.0 703.7h.75M535.2 703.7h.75M536.0 703.7h.75M526.2 704.5h.75M527.0 704.5h.75M527.7 704.5h.75M533.0 704.5h.75M524.7 705.2h.75M525.5 705.2h.75M524.0 706.0h.75M523.2 706.7h.75M525.5 707.5h.75M526.2 707.5h.75M527.7 707.5h.75M529.2 707.5h.75M530.0 707.5h.75M527.7 708.2h.75M518.7 714.2h.75M519.5 714.2h.75M518.7 715.0h.75"/>
<path stroke="#2090a0" stroke-width=".75" d="M529.2 705.2h.75"/>
<path stroke="#2090b0" stroke-width=".75" d="M539.7 692.5h.75M539.0 693.2h.75M545.7 693.2h.75M536.0 695.5h.75M545.7 695.5h.75M534.5 696.2h.75M533.7 697.0h.75M533.0 698.5h.75M540.5 700.7h.75M531.5 701.5h.75M538.2 702.2h.75M533.0 703.0h.75M536.0 703.0h.75M534.5 703.7h.75M529.2 704.5h.75M530.7 704.5h.75M526.2 705.2h.75M527.0 705.2h.75M527.7 705.2h.75M528.5 705.2h.75M531.5 705.2h.75M524.7 706.0h.75M525.5 706.0h.75M526.2 706.0h.75M527.0 706.0h.75M527.7 706.0h.75M528.5 706.0h.75M531.5 706.0h.75M524.7 706.7h.75M525.5 706.7h.75M526.2 706.7h.75M527.0 706.7h.75M527.7 706.7h.75M528.5 706.7h.75M529.2 706.7h.75M530.0 706.7h.75M530.7 706.7h.75M527.0 707.5h.75"/>
<path stroke="#3060c0" stroke-width=".75" d="M566.0 685.0h.75M568.2 685.7h.75M563.7 686.5h.75M568.2 686.5h.75M569.0 686.5h.75M558.5 687.2h.75M568.2 687.2h.75M557.7 688.0h.75M560.7 688.0h.75M563.0 688.0h.75M563.0 688.7h.75M563.7 688.7h.75M568.2 688.7h.75M569.0 688.7h.75M556.2 689.5h.75M557.0 689.5h.75M561.5 689.5h.75M565.2 689.5h.75M540.5 690.2h.75M557.0 690.2h.75M559.2 690.2h.75M560.7 690.2h.75M550.2 691.7h.75M551.0 691.7h.75M557.0 691.7h.75M557.7 691.7h.75M558.5 691.7h.75M561.5 691.7h.75M569.7 691.7h.75M547.2 692.5h.75M550.2 692.5h.75M551.0 692.5h.75M557.0 692.5h.75M563.7 693.2h.75M565.2 693.2h.75M548.0 694.0h.75M550.2 694.0h.75M551.0 694.0h.75M568.2 694.0h.75M569.0 694.0h.75M549.5 694.7h.75M551.0 694.7h.75M560.7 694.7h.75M567.5 694.7h.75M569.0 694.7h.75M554.0 695.5h.75M566.7 695.5h.75M569.0 695.5h.75M531.5 696.2h.75M551.7 696.2h.75M553.2 696.2h.75M561.5 696.2h.75M567.5 696.2h.75M568.2 696.2h.75M551.0 697.0h.75M551.7 697.0h.75M530.7 697.7h.75M545.7 697.7h.75M551.7 697.7h.75M554.0 697.7h.75M561.5 697.7h.75M569.0 697.7h.75M530.0 698.5h.75M553.2 698.5h.75M560.0 698.5h.75M561.5 698.5h.75M529.2 699.2h.75M551.7 699.2h.75M552.5 699.2h.75M553.2 699.2h.75M558.5 699.2h.75M527.7 700.0h.75M554.0 700.0h.75M554.7 700.0h.75M557.0 700.0h.75M549.5 701.5h.75M555.5 701.5h.75M555.5 702.2h.75M549.5 703.0h.75M554.7 703.0h.75M549.5 703.7h.75M551.7 703.7h.75M554.7 703.7h.75M538.2 704.5h.75M556.2 704.5h.75M555.5 705.2h.75M556.2 705.2h.75M536.0 706.0h.75M554.0 706.0h.75M554.7 706.0h.75M520.2 706.7h.75M554.7 706.7h.75M520.2 707.5h.75M519.5 708.2h.75M533.0 708.2h.75M519.5 709.7h.75M518.0 710.5h.75M518.7 710.5h.75M530.0 710.5h.75M518.0 711.2h.75M520.2 711.2h.75M515.7 712.0h.75M516.5 712.0h.75M522.5 712.0h.75M528.5 712.0h.75M516.5 712.7h.75M521.7 712.7h.75M522.5 712.7h.75M516.5 713.5h.75M524.0 713.5h.75M526.2 713.5h.75M515.7 714.2h.75M521.7 714.2h.75M522.5 714.2h.75M523.2 714.2h.75M513.5 715.0h.75M514.2 715.0h.75M524.0 715.0h.75M524.7 715.0h.75M513.5 715.7h.75M524.0 715.7h.75M512.7 716.5h.75M511.2 718.0h.75M512.7 718.0h.75M520.2 718.0h.75M510.4 718.7h.75M511.2 718.7h.75M518.7 718.7h.75M519.5 718.7h.75M511.9 720.2h.75M518.0 720.2h.75M513.5 722.5h.75M514.2 722.5h.75M515.0 722.5h.75"/>
<path stroke="#3060d0" stroke-width=".75" d="M566.7 685.0h.75M567.5 685.0h.75M557.0 687.2h.75M549.5 691.7h.75M553.2 694.0h.75M554.0 694.0h.75M553.2 695.5h.75M548.7 696.2h.75M530.0 697.7h.75M550.2 697.7h.75M550.2 698.5h.75M569.0 698.5h.75M546.5 699.2h.75M545.7 700.0h.75M546.5 700.0h.75M549.5 700.0h.75M547.2 700.7h.75M549.5 704.5h.75M557.0 705.2h.75M553.2 706.7h.75M515.0 712.0h.75M515.0 712.7h.75M524.0 716.5h.75M510.4 719.5h.75M521.0 719.5h.75M515.0 726.2h.75M515.7 726.2h.75M515.7 727.0h.75M515.7 727.7h.75M515.0 729.2h.75M515.0 730.0h.75M514.2 733.0h.75M513.5 733.7h.75M514.2 733.7h.75"/>
<path stroke="#3090a0" stroke-width=".75" d="M541.2 691.7h.75M545.0 692.5h.75M537.5 694.7h.75M532.2 700.0h.75M537.5 702.2h.75"/>
<path stroke="#30a080" stroke-width=".75" d="M540.5 692.5h.75M539.0 694.0h.75M533.7 699.2h.75M542.0 699.2h.75M533.0 700.0h.75M539.7 700.7h.75M538.2 701.5h.75M535.2 702.2h.75"/>
<path stroke="#30a090" stroke-width=".75" d="M542.0 691.7h.75M542.7 691.7h.75M545.7 694.0h.75M536.7 695.5h.75M535.2 696.2h.75M534.5 697.0h.75M543.5 697.7h.75M542.7 698.5h.75M541.2 700.0h.75M532.2 700.7h.75M532.2 701.5h.75M533.0 702.2h.75M536.0 702.2h.75M530.7 706.0h.75"/>
<path stroke="#30a0a0" stroke-width=".75" d="M533.0 699.2h.75M533.7 703.0h.75M534.5 703.0h.75M530.0 705.2h.75M530.7 705.2h.75M530.0 706.0h.75"/>
<path stroke="#4060d0" stroke-width=".75" d="M563.7 684.2h.75M569.7 685.7h.75M559.2 686.5h.75M556.2 687.2h.75M569.7 688.0h.75M555.5 688.7h.75M546.5 691.0h.75M535.2 693.2h.75M553.2 693.2h.75M533.0 694.0h.75M562.2 695.5h.75M563.0 695.5h.75M565.2 695.5h.75M548.7 699.2h.75M562.2 699.2h.75M568.2 699.2h.75M558.5 700.7h.75M545.7 701.5h.75M547.2 701.5h.75M548.0 702.2h.75M524.0 703.0h.75M557.7 705.2h.75M520.2 706.0h.75M555.5 708.2h.75M532.2 709.7h.75M516.5 710.5h.75M531.5 710.5h.75M529.2 712.0h.75M512.7 714.2h.75M511.2 716.5h.75M523.2 716.5h.75M521.7 718.7h.75M522.5 720.2h.75M520.2 721.0h.75M518.0 721.7h.75M515.7 722.5h.75M515.0 725.5h.75M516.5 727.0h.75M515.7 729.2h.75M514.2 730.7h.75M511.9 733.7h.75M515.0 733.7h.75M511.2 734.5h.75M514.2 734.5h.75"/>
<path stroke="#4070d0" stroke-width=".75" d="M560.7 682.7h.75M564.5 683.5h.75M569.0 684.2h.75M558.5 685.0h.75M559.2 685.0h.75M556.2 685.7h.75M554.0 689.5h.75M554.7 691.0h.75M553.2 691.7h.75M565.2 696.2h.75M566.0 698.5h.75M566.7 699.2h.75M562.2 700.0h.75M563.7 700.0h.75M557.7 701.5h.75M544.2 702.2h.75M544.2 703.0h.75M545.0 703.7h.75M563.0 703.7h.75M563.0 705.2h.75M563.7 705.2h.75M548.0 706.0h.75M551.0 706.0h.75M518.7 706.7h.75M548.0 706.7h.75M551.7 706.7h.75M552.5 708.2h.75M533.7 709.7h.75M513.5 712.7h.75M511.2 715.0h.75M527.7 715.0h.75M527.0 715.7h.75M509.7 717.2h.75M523.2 718.0h.75M523.2 720.2h.75M524.7 720.2h.75M519.5 721.7h.75M511.2 722.5h.75M511.2 723.2h.75M511.9 724.0h.75M515.7 724.0h.75M512.7 732.2h.75M508.9 735.2h.75M510.4 736.0h.75"/>
<path stroke="#40a070" stroke-width=".75" d="M539.7 693.2h.75M538.2 694.7h.75M545.0 695.5h.75M533.0 701.5h.75M534.5 702.2h.75"/>
<path stroke="#40b050" stroke-width=".75" d="M542.0 692.5h.75M543.5 692.5h.75M539.7 694.0h.75M534.5 698.5h.75M534.5 699.2h.75M534.5 700.0h.75M534.5 700.7h.75"/>
<path stroke="#40b060" stroke-width=".75" d="M541.2 692.5h.75M545.0 693.2h.75M537.5 695.5h.75M535.2 697.0h.75M534.5 697.7h.75M540.5 700.0h.75M533.7 700.7h.75M539.0 700.7h.75M533.7 701.5h.75M534.5 701.5h.75M535.2 701.5h.75"/>
<path stroke="#40b070" stroke-width=".75" d="M544.2 692.5h.75M536.0 696.2h.75M533.7 700.0h.75M536.7 701.5h.75"/>
<path stroke="#5070d0" stroke-width=".75" d="M560.0 682.0h.75M536.0 691.7h.75M566.0 700.7h.75M563.7 702.2h.75M521.7 703.0h.75M520.2 703.7h.75M561.5 707.5h.75M562.2 708.2h.75M524.7 721.7h.75M516.5 731.5h.75M516.5 734.5h.75M508.9 736.7h.75"/>
<path stroke="#5080d0" stroke-width=".75" d="M563.0 682.0h.75M565.2 682.0h.75M561.5 685.0h.75M560.7 703.0h.75M560.0 704.5h.75M545.7 706.0h.75M553.2 709.7h.75M508.2 718.0h.75M523.2 723.2h.75M506.7 726.2h.75M505.9 727.7h.75M511.2 737.5h.75"/>
<path stroke="#50b050" stroke-width=".75" d="M542.7 692.5h.75M540.5 693.2h.75M545.0 694.7h.75M536.7 696.2h.75M543.5 697.0h.75M542.7 697.7h.75M535.2 700.7h.75"/>
<path stroke="#6080d0" stroke-width=".75" d="M557.0 680.5h.75M556.2 682.7h.75M559.2 708.2h.75M524.0 725.5h.75M518.7 727.0h.75M508.2 727.7h.75M506.7 731.5h.75M506.7 733.7h.75"/>
<path stroke="#6080e0" stroke-width=".75" d="M554.0 679.0h.75M548.0 688.0h.75M518.7 701.5h.75M515.0 708.2h.75M533.7 714.2h.75M527.7 721.0h.75M507.4 721.7h.75M521.0 724.7h.75M511.9 727.0h.75M522.5 729.2h.75M504.4 735.2h.75M518.7 738.2h.75"/>
<path stroke="#60c050" stroke-width=".75" d="M545.0 694.0h.75M542.0 698.5h.75M541.2 699.2h.75M536.0 700.7h.75"/>
<path stroke="#70c050" stroke-width=".75" d="M535.2 700.0h.75M536.7 700.7h.75M538.2 700.7h.75"/>
<path stroke="#80c040" stroke-width=".75" d="M535.2 697.7h.75M539.7 700.0h.75M537.5 700.7h.75"/>
<path stroke="#80c050" stroke-width=".75" d="M538.2 695.5h.75"/>
<path stroke="#90c040" stroke-width=".75" d="M541.2 693.2h.75M544.2 693.2h.75M540.5 694.0h.75M539.7 694.7h.75M544.2 695.5h.75M535.2 699.2h.75M536.0 700.0h.75"/>
<path stroke="#a0c040" stroke-width=".75" d="M535.2 698.5h.75"/>
<path stroke="#a0d040" stroke-width=".75" d="M537.5 696.2h.75"/>
<path stroke="#b0d040" stroke-width=".75" d="M542.0 693.2h.75"/>
<path stroke="#c0d040" stroke-width=".75" d="M542.7 693.2h.75M543.5 693.2h.75M539.0 695.5h.75M543.5 696.2h.75M536.7 697.0h.75M536.7 700.0h.75M539.0 700.0h.75"/>
<path stroke="#d0d040" stroke-width=".75" d="M541.2 694.0h.75M544.2 694.0h.75M544.2 694.7h.75M542.7 697.0h.75M536.0 697.7h.75M542.0 697.7h.75M536.0 699.2h.75M540.5 699.2h.75"/>
<path stroke="#e02020" stroke-width=".75" d="M539.7 697.7h.75"/>
<path stroke="#e03020" stroke-width=".75" d="M539.7 697.0h.75M539.0 697.7h.75"/>
<path stroke="#e04020" stroke-width=".75" d="M539.0 697.0h.75M540.5 697.0h.75M539.0 698.5h.75"/>
<path stroke="#e05020" stroke-width=".75" d="M542.0 695.5h.75M540.5 696.2h.75M541.2 696.2h.75M538.2 697.7h.75M540.5 697.7h.75M538.2 698.5h.75M539.7 698.5h.75"/>
<path stroke="#e06020" stroke-width=".75" d="M542.7 695.5h.75M539.7 696.2h.75M542.0 696.2h.75M541.2 697.0h.75"/>
<path stroke="#e08030" stroke-width=".75" d="M539.0 696.2h.75M540.5 698.5h.75"/>
<path stroke="#e09030" stroke-width=".75" d="M543.5 694.7h.75M540.5 695.5h.75M542.7 696.2h.75M541.2 697.7h.75M537.5 699.2h.75M539.0 699.2h.75"/>
<path stroke="#e0a030" stroke-width=".75" d="M542.7 694.0h.75M541.2 694.7h.75M542.0 697.0h.75M536.7 698.5h.75"/>
<path stroke="#e0b030" stroke-width=".75" d="M542.0 694.0h.75M543.5 694.0h.75M543.5 695.5h.75M537.5 697.0h.75M536.7 697.7h.75M539.7 699.2h.75"/>
<path stroke="#e0c030" stroke-width=".75" d="M539.7 695.5h.75M536.7 699.2h.75"/>
<path stroke="#e0c040" stroke-width=".75" d="M538.2 696.2h.75"/>
<path stroke="#e0d040" stroke-width=".75" d="M540.5 694.7h.75M536.0 698.5h.75M541.2 698.5h.75M537.5 700.0h.75M538.2 700.0h.75"/>
<path stroke="#f07020" stroke-width=".75" d="M542.7 694.7h.75M541.2 695.5h.75"/>
<path stroke="#f07030" stroke-width=".75" d="M542.0 694.7h.75M538.2 697.0h.75M537.5 698.5h.75"/>
<path stroke="#f08030" stroke-width=".75" d="M537.5 697.7h.75M538.2 699.2h.75"/>
<path stroke="#2050c0" stroke-width=".75" d="M675.0 684.5h.75M665.3 685.2h.75M666.0 685.2h.75M666.8 685.2h.75M674.3 685.2h.75M675.0 685.2h.75M675.8 685.2h.75M677.3 685.2h.75M667.5 686.0h.75M670.5 686.0h.75M673.5 686.0h.75M662.3 686.7h.75M665.3 686.7h.75M672.8 686.7h.75M679.5 686.7h.75M660.8 687.5h.75M662.3 687.5h.75M664.5 687.5h.75M679.5 687.5h.75M660.0 688.2h.75M660.8 688.2h.75M679.5 688.2h.75M672.8 689.7h.75M678.8 689.7h.75M672.0 690.5h.75M678.0 690.5h.75M672.8 691.2h.75M677.3 691.2h.75M660.8 692.0h.75M666.0 692.0h.75M667.5 692.0h.75M668.3 692.0h.75M669.0 692.0h.75M670.5 692.0h.75M672.0 692.0h.75M672.8 692.0h.75M676.5 692.0h.75M665.3 692.7h.75M666.8 692.7h.75M667.5 692.7h.75M670.5 692.7h.75M671.3 692.7h.75M672.8 692.7h.75M663.0 693.5h.75M666.8 693.5h.75M650.3 694.2h.75M654.8 694.2h.75M649.5 695.0h.75M662.3 695.7h.75M663.0 695.7h.75M645.8 697.2h.75M647.3 697.2h.75M643.5 698.7h.75M642.8 699.5h.75M658.5 699.5h.75M657.8 700.2h.75M640.5 701.7h.75M657.0 702.5h.75M636.8 704.7h.75M634.5 705.5h.75M635.3 705.5h.75M636.0 705.5h.75M652.5 705.5h.75M633.0 706.2h.75M633.8 706.2h.75M634.5 706.2h.75M651.8 706.2h.75M630.0 707.0h.75M631.5 707.0h.75M632.3 707.0h.75M629.3 707.7h.75M630.8 707.7h.75M632.3 707.7h.75M633.8 707.7h.75M649.5 707.7h.75M648.0 708.5h.75M629.3 709.2h.75M630.0 709.2h.75M641.3 709.2h.75M647.3 709.2h.75M627.8 710.0h.75M628.5 710.0h.75M642.8 710.0h.75M643.5 710.0h.75M645.0 710.0h.75M645.8 710.0h.75M627.0 710.7h.75M627.8 710.7h.75M628.5 710.7h.75M629.3 710.7h.75M641.3 710.7h.75M643.5 710.7h.75M644.3 710.7h.75M645.0 710.7h.75M627.0 711.5h.75M629.3 711.5h.75M641.3 711.5h.75M621.8 712.2h.75M624.0 712.2h.75M625.5 712.2h.75M626.3 712.2h.75M628.5 712.2h.75M621.0 713.0h.75M623.3 713.0h.75M624.8 713.0h.75M627.0 713.0h.75M639.0 713.0h.75M622.5 713.7h.75M624.0 713.7h.75M624.8 713.7h.75M627.0 713.7h.75M628.5 713.7h.75M621.0 714.5h.75M621.8 714.5h.75M624.0 714.5h.75M627.0 714.5h.75M627.8 714.5h.75M637.5 714.5h.75M621.0 715.2h.75M624.0 715.2h.75M624.8 715.2h.75M625.5 715.2h.75M627.8 715.2h.75M636.0 715.2h.75M620.3 716.0h.75M621.8 716.0h.75M622.5 716.0h.75M623.3 716.0h.75M624.8 716.0h.75M625.5 716.0h.75M628.5 716.0h.75M630.0 716.0h.75M630.8 716.0h.75M631.5 716.0h.75M636.0 716.0h.75M621.0 716.7h.75M621.8 716.7h.75M623.3 716.7h.75M624.8 716.7h.75M629.3 716.7h.75M633.8 716.7h.75M634.5 716.7h.75M636.0 716.7h.75M636.8 716.7h.75M620.3 717.5h.75M621.0 717.5h.75M621.8 717.5h.75M622.5 717.5h.75M632.3 717.5h.75M633.0 717.5h.75M636.0 717.5h.75M617.3 718.2h.75M619.5 718.2h.75M620.3 718.2h.75M618.0 719.0h.75M618.8 719.0h.75M621.8 719.0h.75M622.5 719.0h.75M619.5 722.7h.75M619.5 723.5h.75"/>
<path stroke="#2060b0" stroke-width=".75" d="M675.8 686.0h.75M666.8 686.7h.75M668.3 687.5h.75M670.5 687.5h.75M664.5 688.2h.75M666.8 688.2h.75M674.3 688.2h.75M661.5 689.7h.75M675.0 689.7h.75M666.8 690.5h.75M668.3 691.2h.75M645.0 698.0h.75M640.5 702.5h.75M631.5 709.2h.75M632.3 709.2h.75M635.3 709.2h.75M640.5 709.2h.75M640.5 710.0h.75M630.8 712.2h.75M639.8 712.2h.75M630.0 713.0h.75M636.8 713.7h.75M633.8 714.5h.75M630.0 715.2h.75M632.3 715.2h.75M633.0 715.2h.75"/>
<path stroke="#2060c0" stroke-width=".75" d="M666.0 686.0h.75M666.8 686.0h.75M674.3 686.0h.75M676.5 686.0h.75M677.3 686.0h.75M663.0 686.7h.75M666.0 686.7h.75M668.3 686.7h.75M669.0 686.7h.75M670.5 686.7h.75M678.0 686.7h.75M666.0 687.5h.75M667.5 687.5h.75M672.8 687.5h.75M673.5 687.5h.75M678.8 687.5h.75M661.5 688.2h.75M671.3 688.2h.75M672.8 688.2h.75M673.5 688.2h.75M678.8 688.2h.75M661.5 689.0h.75M662.3 689.0h.75M663.8 689.0h.75M677.3 689.7h.75M666.0 690.5h.75M673.5 690.5h.75M674.3 690.5h.75M677.3 690.5h.75M664.5 691.2h.75M666.8 691.2h.75M667.5 691.2h.75M669.8 691.2h.75M673.5 691.2h.75M674.3 691.2h.75M675.0 691.2h.75M675.8 691.2h.75M664.5 692.0h.75M654.0 694.2h.75M667.5 694.2h.75M655.5 695.0h.75M656.3 695.7h.75M657.0 696.5h.75M643.5 699.5h.75M657.0 701.0h.75M656.3 702.5h.75M639.0 704.0h.75M636.8 705.5h.75M636.0 706.2h.75M650.3 706.2h.75M649.5 707.0h.75M635.3 707.7h.75M648.8 707.7h.75M631.5 708.5h.75M632.3 708.5h.75M633.0 708.5h.75M635.3 708.5h.75M642.0 708.5h.75M633.8 709.2h.75M634.5 709.2h.75M643.5 709.2h.75M630.0 710.0h.75M630.8 710.0h.75M630.8 710.7h.75M630.0 711.5h.75M630.0 712.2h.75M640.5 712.2h.75M625.5 713.7h.75M626.3 713.7h.75M629.3 713.7h.75M625.5 714.5h.75M635.3 714.5h.75M636.0 714.5h.75M636.8 714.5h.75M629.3 715.2h.75M633.8 715.2h.75M633.0 716.0h.75M633.8 716.0h.75M633.0 716.7h.75M623.3 718.2h.75"/>
<path stroke="#2070b0" stroke-width=".75" d="M669.8 687.5h.75M677.3 687.5h.75M665.3 688.2h.75M667.5 688.2h.75M668.3 688.2h.75M669.0 688.2h.75M670.5 688.2h.75M675.0 688.2h.75M677.3 688.2h.75M664.5 689.0h.75M665.3 689.0h.75M666.0 689.0h.75M670.5 689.0h.75M677.3 689.0h.75M666.0 689.7h.75M666.8 689.7h.75M670.5 689.7h.75M675.8 689.7h.75M676.5 689.7h.75M661.5 690.5h.75M670.5 690.5h.75M675.0 690.5h.75M675.8 690.5h.75M661.5 691.2h.75M663.8 691.2h.75M662.3 692.0h.75M663.0 692.0h.75M663.8 692.0h.75M651.0 695.0h.75M654.8 695.0h.75M649.5 696.5h.75M657.0 697.2h.75M646.5 698.0h.75M644.3 698.7h.75M657.0 700.2h.75M641.3 701.7h.75M652.5 704.0h.75M653.3 704.0h.75M638.3 704.7h.75M651.8 704.7h.75M637.5 705.5h.75M636.0 707.0h.75M636.0 707.7h.75M648.0 707.7h.75M636.0 708.5h.75M646.5 708.5h.75M639.8 709.2h.75M644.3 709.2h.75M645.0 709.2h.75M635.3 710.0h.75M632.3 710.7h.75M633.0 710.7h.75M632.3 711.5h.75M640.5 711.5h.75M631.5 712.2h.75M632.3 712.2h.75M638.3 712.2h.75M630.8 713.0h.75M632.3 713.0h.75M636.8 713.0h.75M630.0 713.7h.75M630.8 713.7h.75M632.3 713.7h.75M633.0 713.7h.75M633.8 713.7h.75M630.0 714.5h.75M630.8 714.5h.75M631.5 714.5h.75M632.3 714.5h.75"/>
<path stroke="#2080b0" stroke-width=".75" d="M675.8 686.7h.75M675.0 687.5h.75M675.8 687.5h.75M676.5 687.5h.75M675.8 688.2h.75M668.3 689.0h.75M669.0 689.0h.75M669.8 689.0h.75M667.5 689.7h.75M668.3 689.7h.75M669.8 689.7h.75M662.3 690.5h.75M663.0 690.5h.75M669.0 690.5h.75M669.8 690.5h.75M662.3 691.2h.75M663.0 691.2h.75M652.5 695.0h.75M653.3 695.0h.75M655.5 695.7h.75M656.3 696.5h.75M645.0 698.7h.75M645.8 698.7h.75M657.0 698.7h.75M644.3 699.5h.75M657.0 699.5h.75M642.0 701.7h.75M641.3 702.5h.75M655.5 702.5h.75M640.5 703.2h.75M654.0 703.2h.75M651.8 704.0h.75M638.3 705.5h.75M650.3 705.5h.75M637.5 706.2h.75M638.3 706.2h.75M649.5 706.2h.75M637.5 707.0h.75M648.8 707.0h.75M636.8 707.7h.75M637.5 707.7h.75M638.3 707.7h.75M639.8 707.7h.75M641.3 707.7h.75M642.8 707.7h.75M646.5 707.7h.75M637.5 708.5h.75M638.3 708.5h.75M639.0 708.5h.75M644.3 708.5h.75M645.0 708.5h.75M636.8 709.2h.75M637.5 709.2h.75M639.0 709.2h.75M636.8 710.0h.75M639.0 710.0h.75M633.8 710.7h.75M634.5 710.7h.75M639.8 710.7h.75M633.0 711.5h.75M633.8 711.5h.75M637.5 711.5h.75M639.0 711.5h.75M639.8 711.5h.75M633.0 712.2h.75M636.8 712.2h.75M633.8 713.0h.75M636.0 713.0h.75M635.3 713.7h.75"/>
<path stroke="#2090a0" stroke-width=".75" d="M651.0 704.0h.75M635.3 711.5h.75"/>
<path stroke="#2090b0" stroke-width=".75" d="M669.0 689.7h.75M654.8 695.7h.75M648.0 698.0h.75M646.5 698.7h.75M645.0 699.5h.75M643.5 701.0h.75M655.5 701.7h.75M654.8 702.5h.75M652.5 703.2h.75M653.3 703.2h.75M640.5 704.0h.75M639.8 704.7h.75M650.3 704.7h.75M639.0 705.5h.75M649.5 705.5h.75M639.0 706.2h.75M639.8 707.0h.75M640.5 707.0h.75M641.3 707.0h.75M642.0 707.0h.75M647.3 707.0h.75M643.5 707.7h.75M645.8 707.7h.75M637.5 710.0h.75M638.3 710.0h.75M635.3 710.7h.75M636.0 710.7h.75M637.5 710.7h.75M638.3 710.7h.75M636.0 711.5h.75M636.8 711.5h.75M633.8 712.2h.75M634.5 712.2h.75M636.0 712.2h.75M634.5 713.0h.75M635.3 713.0h.75"/>
<path stroke="#3060c0" stroke-width=".75" d="M673.5 683.7h.75M672.8 684.5h.75M664.5 685.2h.75M670.5 685.2h.75M671.3 685.2h.75M678.0 685.2h.75M661.5 686.0h.75M680.3 686.0h.75M660.0 686.7h.75M660.0 689.7h.75M679.5 689.7h.75M680.3 689.7h.75M660.0 690.5h.75M678.0 692.0h.75M660.0 692.7h.75M674.3 692.7h.75M675.8 692.7h.75M676.5 692.7h.75M649.5 693.5h.75M651.0 693.5h.75M660.0 693.5h.75M662.3 693.5h.75M669.8 693.5h.75M672.8 693.5h.75M673.5 693.5h.75M648.8 694.2h.75M662.3 694.2h.75M666.8 694.2h.75M669.0 694.2h.75M672.8 694.2h.75M663.8 695.0h.75M667.5 695.0h.75M673.5 695.0h.75M663.8 695.7h.75M657.8 696.5h.75M662.3 696.5h.75M644.3 697.2h.75M662.3 697.2h.75M658.5 698.7h.75M642.0 700.2h.75M639.8 701.7h.75M637.5 703.2h.75M638.3 703.2h.75M657.0 703.2h.75M634.5 704.0h.75M634.5 704.7h.75M654.8 704.7h.75M630.0 705.5h.75M631.5 705.5h.75M632.3 705.5h.75M628.5 706.2h.75M630.0 706.2h.75M655.5 706.2h.75M660.8 706.2h.75M661.5 706.2h.75M652.5 707.0h.75M655.5 707.0h.75M660.0 707.0h.75M660.8 707.0h.75M628.5 707.7h.75M661.5 707.7h.75M627.0 708.5h.75M658.5 708.5h.75M661.5 708.5h.75M648.8 709.2h.75M657.8 709.2h.75M658.5 709.2h.75M660.8 709.2h.75M648.0 710.0h.75M657.8 710.0h.75M622.5 710.7h.75M623.3 710.7h.75M622.5 711.5h.75M624.8 711.5h.75M643.5 711.5h.75M620.3 712.2h.75M660.0 712.2h.75M614.3 713.0h.75M660.0 713.0h.75M660.8 713.0h.75M614.3 713.7h.75M620.3 713.7h.75M615.0 715.2h.75M616.5 715.2h.75M618.0 715.2h.75M614.3 716.0h.75M615.0 716.0h.75M616.5 716.0h.75M619.5 716.0h.75M616.5 716.7h.75M637.5 716.7h.75M638.3 716.7h.75M617.3 717.5h.75M618.0 717.5h.75M626.3 717.5h.75M628.5 717.5h.75M637.5 717.5h.75M626.3 718.2h.75M629.3 718.2h.75M636.0 718.2h.75M616.5 719.0h.75M624.0 719.0h.75M627.0 719.0h.75M627.8 719.0h.75M630.0 719.0h.75M633.0 719.0h.75M618.8 719.7h.75M621.0 719.7h.75M625.5 719.7h.75M629.3 719.7h.75M630.0 719.7h.75M633.8 719.7h.75M634.5 719.7h.75M622.5 720.5h.75M625.5 720.5h.75M618.8 722.0h.75M619.5 722.0h.75M621.0 722.0h.75M633.0 722.0h.75M621.0 722.7h.75M620.3 723.5h.75M633.8 732.5h.75M633.8 734.0h.75"/>
<path stroke="#3060d0" stroke-width=".75" d="M673.5 683.0h.75M666.0 683.7h.75M672.0 683.7h.75M670.5 684.5h.75M678.0 684.5h.75M680.3 685.2h.75M659.3 686.0h.75M659.3 689.0h.75M664.5 694.2h.75M677.3 694.2h.75M666.0 695.7h.75M659.3 699.5h.75M633.8 703.2h.75M634.5 703.2h.75M656.3 704.7h.75M629.3 705.5h.75M656.3 705.5h.75M653.3 707.0h.75M626.3 707.7h.75M655.5 707.7h.75M650.3 708.5h.75M626.3 709.2h.75M661.5 709.2h.75M660.8 710.0h.75M657.8 710.7h.75M659.3 711.5h.75M643.5 712.2h.75M661.5 712.2h.75M659.3 713.0h.75M661.5 714.5h.75M613.5 715.2h.75M661.5 715.2h.75M615.8 718.2h.75M630.8 719.7h.75M631.5 719.7h.75M635.3 719.7h.75M617.3 720.5h.75M621.8 721.2h.75M633.0 721.2h.75M625.5 722.0h.75M626.3 722.0h.75M632.3 722.0h.75M618.8 724.2h.75M619.5 725.0h.75M627.0 732.5h.75M633.0 732.5h.75M634.5 733.2h.75M634.5 734.0h.75"/>
<path stroke="#3090a0" stroke-width=".75" d="M656.3 700.2h.75M645.0 707.7h.75M635.3 712.2h.75"/>
<path stroke="#30a080" stroke-width=".75" d="M651.8 695.7h.75M652.5 695.7h.75M656.3 698.0h.75M656.3 699.5h.75M644.3 701.0h.75M642.0 702.5h.75M641.3 704.0h.75M649.5 704.7h.75M648.8 705.5h.75M648.0 706.2h.75"/>
<path stroke="#30a090" stroke-width=".75" d="M653.3 695.7h.75M647.3 698.7h.75M645.0 700.2h.75M654.0 702.5h.75M640.5 705.5h.75M640.5 706.2h.75M642.8 707.0h.75M645.8 707.0h.75"/>
<path stroke="#30a0a0" stroke-width=".75" d="M651.0 695.7h.75M654.0 695.7h.75M655.5 696.5h.75M640.5 704.7h.75M639.8 705.5h.75M639.8 706.2h.75M644.3 707.7h.75"/>
<path stroke="#4060d0" stroke-width=".75" d="M665.3 683.0h.75M674.3 683.0h.75M664.5 683.7h.75M659.3 685.2h.75M661.5 685.2h.75M681.0 686.0h.75M681.0 689.0h.75M680.3 690.5h.75M678.0 693.5h.75M660.0 694.2h.75M670.5 695.0h.75M677.3 695.0h.75M660.8 695.7h.75M669.0 695.7h.75M672.0 695.7h.75M674.3 695.7h.75M673.5 696.5h.75M674.3 696.5h.75M663.8 698.0h.75M640.5 699.5h.75M636.0 702.5h.75M659.3 703.2h.75M662.3 704.7h.75M663.0 704.7h.75M660.0 705.5h.75M627.0 706.2h.75M625.5 707.0h.75M657.0 707.0h.75M654.8 707.7h.75M648.0 710.7h.75M663.0 711.5h.75M614.3 712.2h.75M660.0 714.5h.75M660.8 716.0h.75M662.3 716.0h.75M639.0 716.7h.75M627.8 720.5h.75M623.3 721.2h.75M617.3 722.0h.75M624.0 722.0h.75M627.0 722.0h.75M633.8 722.7h.75M631.5 723.5h.75M631.5 725.0h.75M620.3 725.7h.75M630.8 727.2h.75M630.0 728.0h.75M630.8 728.0h.75M626.3 732.5h.75M626.3 733.2h.75M632.3 734.7h.75M627.8 735.5h.75M628.5 735.5h.75M634.5 735.5h.75M636.0 736.2h.75M636.0 737.0h.75"/>
<path stroke="#4070d0" stroke-width=".75" d="M670.5 682.2h.75M671.3 682.2h.75M680.3 682.2h.75M669.0 683.0h.75M680.3 683.7h.75M645.0 695.7h.75M678.8 696.5h.75M679.5 697.2h.75M664.5 698.0h.75M640.5 698.7h.75M660.8 699.5h.75M661.5 700.2h.75M633.8 701.7h.75M636.0 701.7h.75M659.3 702.5h.75M663.8 704.0h.75M658.5 704.7h.75M624.8 708.5h.75M618.0 709.2h.75M618.8 709.2h.75M656.3 710.0h.75M620.3 710.7h.75M663.8 710.7h.75M615.8 712.2h.75M657.0 712.2h.75M664.5 712.2h.75M644.3 713.0h.75M640.5 714.5h.75M663.0 715.2h.75M660.0 716.7h.75M615.8 721.2h.75M630.0 722.0h.75M627.8 722.7h.75M624.8 723.5h.75M630.0 725.0h.75M632.3 725.0h.75M620.3 727.2h.75M621.0 727.2h.75M624.8 727.2h.75M626.3 727.2h.75M628.5 727.2h.75M624.8 728.0h.75M629.3 731.0h.75M634.5 731.0h.75M628.5 731.7h.75M631.5 735.5h.75M632.3 736.2h.75M636.8 736.2h.75M633.8 737.0h.75"/>
<path stroke="#40a070" stroke-width=".75" d="M656.3 698.7h.75M654.8 701.7h.75M652.5 702.5h.75M651.0 703.2h.75M641.3 705.5h.75M647.3 706.2h.75"/>
<path stroke="#40a080" stroke-width=".75" d="M646.5 699.5h.75M643.5 707.0h.75"/>
<path stroke="#40b050" stroke-width=".75" d="M655.5 697.2h.75M642.8 702.5h.75M642.0 703.2h.75M648.0 705.5h.75"/>
<path stroke="#40b060" stroke-width=".75" d="M651.0 696.5h.75M649.5 698.0h.75M648.0 698.7h.75M655.5 700.2h.75M645.0 701.0h.75M651.8 702.5h.75M648.8 704.7h.75M642.0 705.5h.75M642.8 706.2h.75M645.8 706.2h.75"/>
<path stroke="#40b070" stroke-width=".75" d="M654.8 696.5h.75M645.8 700.2h.75M643.5 701.7h.75M646.5 706.2h.75M644.3 707.0h.75"/>
<path stroke="#5070d0" stroke-width=".75" d="M634.5 700.2h.75M661.5 701.7h.75M651.8 709.2h.75M614.3 719.0h.75M623.3 724.2h.75"/>
<path stroke="#5080d0" stroke-width=".75" d="M681.0 680.7h.75M659.3 683.0h.75M652.5 692.0h.75M680.3 694.2h.75M631.5 702.5h.75M625.5 703.2h.75M624.0 704.0h.75M621.0 708.5h.75M665.3 709.2h.75M665.3 714.5h.75M627.0 725.0h.75M632.3 729.5h.75M636.8 733.2h.75M624.8 734.7h.75M629.3 737.7h.75"/>
<path stroke="#50b050" stroke-width=".75" d="M647.3 699.5h.75M646.5 700.2h.75M654.0 701.7h.75M651.0 702.5h.75M650.3 703.2h.75M642.0 704.7h.75M643.5 706.2h.75"/>
<path stroke="#6080d0" stroke-width=".75" d="M672.8 676.2h.75M668.3 698.7h.75M665.3 701.7h.75M666.8 707.7h.75M644.3 715.2h.75M656.3 716.0h.75M633.8 727.2h.75M624.0 738.5h.75"/>
<path stroke="#60c050" stroke-width=".75" d="M654.8 701.0h.75M644.3 701.7h.75M653.3 701.7h.75M642.0 704.0h.75M642.8 705.5h.75M647.3 705.5h.75M645.0 706.2h.75"/>
<path stroke="#70c050" stroke-width=".75" d="M653.3 696.5h.75M648.8 698.7h.75M655.5 699.5h.75M645.8 701.0h.75M652.5 701.7h.75M648.8 704.0h.75M648.0 704.7h.75M644.3 706.2h.75"/>
<path stroke="#80c040" stroke-width=".75" d="M651.8 696.5h.75M652.5 696.5h.75M651.8 701.7h.75"/>
<path stroke="#90c040" stroke-width=".75" d="M650.3 698.0h.75M655.5 698.0h.75M643.5 702.5h.75M649.5 703.2h.75M645.8 705.5h.75"/>
<path stroke="#a0c040" stroke-width=".75" d="M654.8 697.2h.75M655.5 698.7h.75M645.0 701.7h.75M650.3 702.5h.75M642.8 703.2h.75M642.8 704.7h.75M647.3 704.7h.75M643.5 705.5h.75"/>
<path stroke="#a0d040" stroke-width=".75" d="M651.0 697.2h.75M654.8 700.2h.75M646.5 701.0h.75"/>
<path stroke="#b0d040" stroke-width=".75" d="M648.0 699.5h.75M647.3 700.2h.75M654.0 701.0h.75M648.8 703.2h.75M642.8 704.0h.75M645.0 705.5h.75"/>
<path stroke="#c0d040" stroke-width=".75" d="M649.5 698.7h.75M651.0 701.7h.75M646.5 704.7h.75M644.3 705.5h.75"/>
<path stroke="#d0d040" stroke-width=".75" d="M654.0 697.2h.75M645.8 701.7h.75M649.5 702.5h.75M648.0 703.2h.75M647.3 704.0h.75"/>
<path stroke="#e02020" stroke-width=".75" d="M652.5 698.7h.75"/>
<path stroke="#e04020" stroke-width=".75" d="M651.8 698.7h.75M653.3 698.7h.75M651.8 699.5h.75M652.5 699.5h.75"/>
<path stroke="#e05020" stroke-width=".75" d="M652.5 698.0h.75M651.0 699.5h.75M653.3 699.5h.75M650.3 700.2h.75"/>
<path stroke="#e06020" stroke-width=".75" d="M653.3 698.0h.75M649.5 700.2h.75M651.0 700.2h.75"/>
<path stroke="#e08030" stroke-width=".75" d="M654.0 698.0h.75M653.3 700.2h.75M645.8 703.2h.75M645.0 704.0h.75"/>
<path stroke="#e09030" stroke-width=".75" d="M649.5 699.5h.75M644.3 704.0h.75"/>
<path stroke="#e0a030" stroke-width=".75" d="M648.0 701.0h.75M651.0 701.0h.75M648.8 701.7h.75M645.8 702.5h.75M644.3 703.2h.75M646.5 703.2h.75M645.8 704.0h.75"/>
<path stroke="#e0b030" stroke-width=".75" d="M652.5 697.2h.75M651.0 698.0h.75M654.8 698.7h.75M654.0 700.2h.75M648.0 701.7h.75M645.0 702.5h.75M646.5 702.5h.75M644.3 704.7h.75"/>
<path stroke="#e0c030" stroke-width=".75" d="M651.8 697.2h.75M653.3 697.2h.75M650.3 698.7h.75M648.8 699.5h.75M648.0 700.2h.75M651.8 701.0h.75M647.3 701.7h.75M647.3 702.5h.75M643.5 704.0h.75M646.5 704.0h.75M645.0 704.7h.75"/>
<path stroke="#e0c040" stroke-width=".75" d="M654.8 698.0h.75M650.3 701.7h.75M648.0 702.5h.75"/>
<path stroke="#e0d040" stroke-width=".75" d="M654.8 699.5h.75M647.3 701.0h.75M652.5 701.0h.75M653.3 701.0h.75M646.5 701.7h.75M648.8 702.5h.75M643.5 703.2h.75M647.3 703.2h.75M643.5 704.7h.75M645.8 704.7h.75"/>
<path stroke="#f06020" stroke-width=".75" d="M654.0 698.7h.75"/>
<path stroke="#f07020" stroke-width=".75" d="M651.8 698.0h.75M650.3 699.5h.75M651.8 700.2h.75M649.5 701.0h.75"/>
<path stroke="#f07030" stroke-width=".75" d="M651.0 698.7h.75M652.5 700.2h.75"/>
<path stroke="#f08030" stroke-width=".75" d="M654.0 699.5h.75M648.8 700.2h.75M648.8 701.0h.75M650.3 701.0h.75M645.0 703.2h.75"/>
<path d="M354.8 771 V722.2 M354.8 771 H401.1" stroke="#111" stroke-width="1.3" fill="none"/>
<path d="M352.2 722.8 L354.8 719.2 L357.4 722.8 Z" fill="#111"/>
<path d="M400.5 768.4 L404.1 771 L400.5 773.6 Z" fill="#111"/>
<text transform="translate(358.2,711.7) rotate(-90)" font-size="10.4" font-weight="bold" text-anchor="middle" font-family="'Liberation Sans', Arial, sans-serif" fill="#111" stroke="#111" stroke-width="0.3">PI</text>
<text x="405.4" y="774.6" font-size="10.6" font-weight="bold" text-anchor="start" font-family="'Liberation Sans', Arial, sans-serif" fill="#111"  stroke="#111" stroke-width="0.3">FITC</text>
</svg>
</body></html>
